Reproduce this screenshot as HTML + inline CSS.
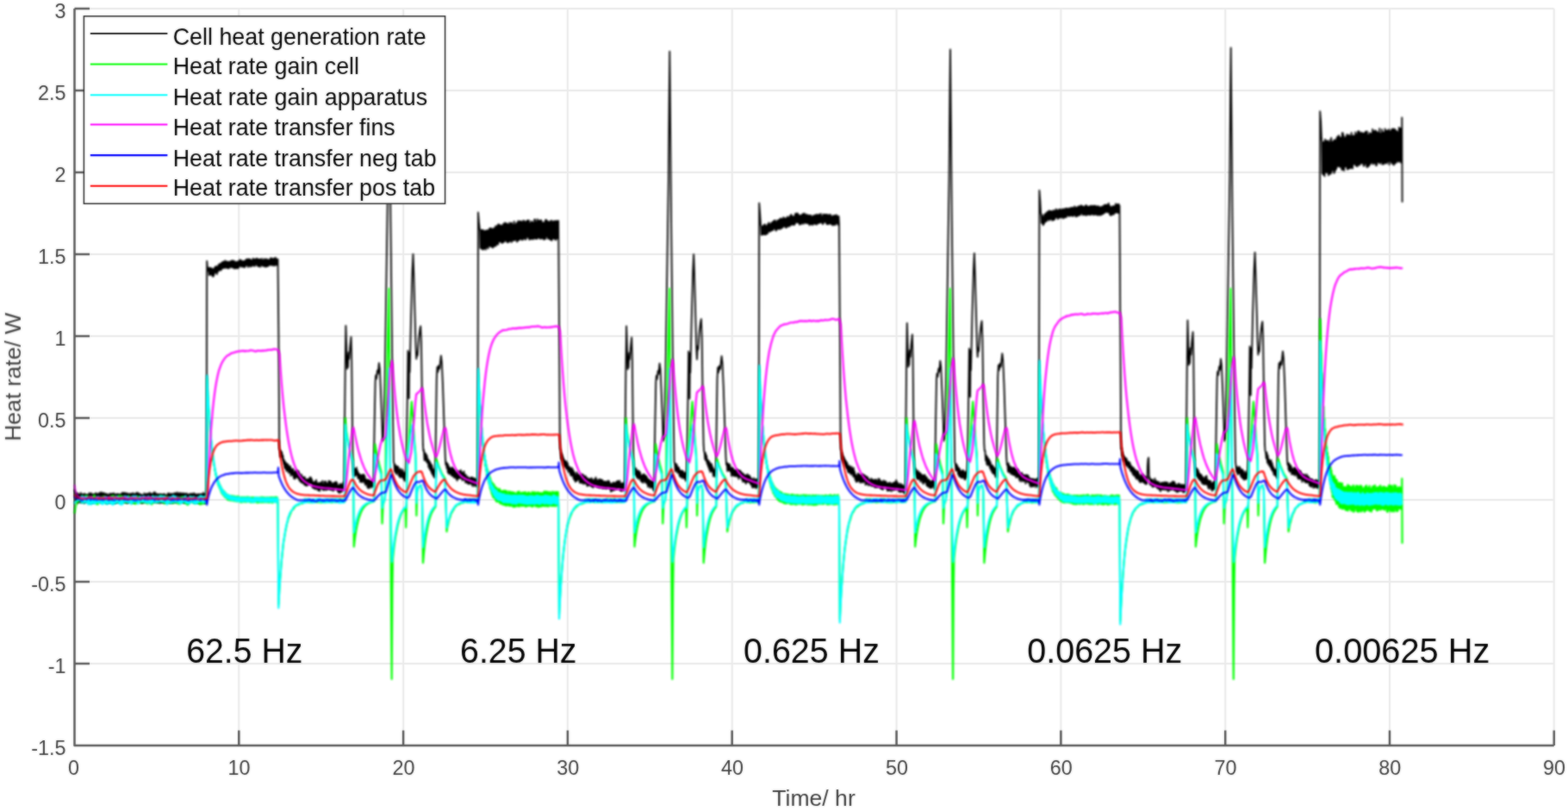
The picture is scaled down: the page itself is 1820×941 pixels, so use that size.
<!DOCTYPE html>
<html lang="en"><head><meta charset="utf-8"><title>Heat rate vs time</title>
<style>
html,body{margin:0;padding:0;background:#fff;}
body{width:1820px;height:941px;overflow:hidden;}
svg{display:block;font-family:"Liberation Sans",Arial,Helvetica,sans-serif;}
</style></head><body>
<svg width="1820" height="941" viewBox="0 0 1820 941">
<defs><filter id="soft" x="-2%" y="-2%" width="104%" height="104%" color-interpolation-filters="sRGB"><feGaussianBlur stdDeviation="0.8"/></filter><filter id="softt" x="-2%" y="-2%" width="104%" height="104%" color-interpolation-filters="sRGB"><feGaussianBlur stdDeviation="0.8" result="b"/><feComposite in="SourceGraphic" in2="b" operator="arithmetic" k1="0" k2="0.5" k3="0.5" k4="0"/></filter></defs>
<rect width="1820" height="941" fill="#fff"/>
<g filter="url(#softt)">
<path d="M277.3 9.9V865.0M468.1 9.9V865.0M658.9 9.9V865.0M849.7 9.9V865.0M1040.6 9.9V865.0M1231.4 9.9V865.0M1422.2 9.9V865.0M1613.0 9.9V865.0M1803.8 9.9V865.0M86.5 770.0H1803.8M86.5 675.0H1803.8M86.5 580.0H1803.8M86.5 485.0H1803.8M86.5 389.9H1803.8M86.5 294.9H1803.8M86.5 199.9H1803.8M86.5 104.9H1803.8M86.5 9.9H1803.8" stroke="#262626" stroke-opacity="0.10" stroke-width="2" fill="none"/>
<path d="M86.5 9.9V865.0H1803.8M277.3 865.0v-17.5M468.1 865.0v-17.5M658.9 865.0v-17.5M849.7 865.0v-17.5M1040.6 865.0v-17.5M1231.4 865.0v-17.5M1422.2 865.0v-17.5M1613.0 865.0v-17.5M1803.8 865.0v-17.5M86.5 770.0h17.5M86.5 675.0h17.5M86.5 580.0h17.5M86.5 485.0h17.5M86.5 389.9h17.5M86.5 294.9h17.5M86.5 199.9h17.5M86.5 104.9h17.5M86.5 9.9h17.5" stroke="#585858" stroke-width="2.5" fill="none" stroke-linejoin="round" stroke-linecap="butt"/>
</g>
<g fill="none" stroke-linejoin="round" stroke-linecap="round" filter="url(#soft)">
<path d="M86.5 568.6L87.3 571.6L88.1 581.9L88.9 571.8L89.7 584.1L90.5 572.6L91.3 582.7L92.1 573.2L92.9 583.3L93.7 571.6L94.5 583.3L95.3 573.2L96.1 581.9L96.9 573.1L97.7 584.1L98.5 572.6L99.3 582.5L100.1 573.8L100.9 582.6L101.7 573.8L102.5 582L103.3 572L104.1 583.6L104.9 572L105.7 583.4L106.5 572.2L107.3 583.5L108.1 573.6L108.9 583.1L109.7 572.9L110.5 582.5L111.3 571.7L112.1 581.6L112.9 572.7L113.7 582L114.5 572.3L115.3 581.8L116.1 571.2L116.9 583.3L117.7 571L118.5 581.6L119.3 571.7L120.1 582.2L120.9 571.7L121.7 582.1L122.5 572.8L123.3 584L124.1 572.8L124.9 583.8L125.7 573.8L126.5 583.5L127.3 572.5L128.1 583.2L128.9 572.5L129.7 582.9L130.5 572.5L131.3 583.2L132.1 571.9L132.9 584.1L133.7 573.3L134.5 583.6L135.3 573.1L136.1 583L136.9 572.8L137.7 582.9L138.5 573.4L139.3 582.8L140.1 573L140.9 582.2L141.7 571.4L142.5 582.8L143.3 571.5L144.1 583L144.9 571.5L145.7 583.2L146.5 572L147.3 583.9L148.1 572.3L148.9 583.6L149.7 572.9L150.5 582.6L151.3 572.5L152.1 582.2L152.9 572.5L153.7 582.9L154.5 571.8L155.3 583.2L156.1 573L156.9 583.2L157.7 572L158.5 581.8L159.3 571.2L160.1 581.8L160.9 572L161.7 581.7L162.5 573.1L163.3 583.5L164.1 573.4L164.9 584.3L165.7 574.3L166.5 583.4L167.3 572.1L168.1 582.1L168.9 573.1L169.7 583.1L170.5 572.4L171.3 582.1L172.1 572.5L172.9 582.3L173.7 571.3L174.5 583.4L175.3 572.6L176.1 582.7L176.9 572.8L177.7 582.6L178.5 571.1L179.3 582.9L180.1 571.1L180.9 581.9L181.7 572.8L182.5 583.4L183.3 573L184.1 583.2L184.9 573.3L185.7 584.1L186.5 572.9L187.3 583.2L188.1 573.6L188.9 583.4L189.7 573.1L190.5 583.1L191.3 573L192.1 583.4L192.9 574.6L193.7 582.8L194.5 572.4L195.3 582.5L196.1 572.1L196.9 583.6L197.7 572.9L198.5 583.6L199.3 572.6L200.1 583.4L200.9 573.1L201.7 583.2L202.5 571.7L203.3 582.7L204.1 572.1L204.9 583.4L205.7 571L206.5 581.7L207.3 572.2L208.1 582.4L208.9 571.6L209.7 582.2L210.5 572.2L211.3 582.8L212.1 572.1L212.9 583.6L213.7 572.3L214.5 583.5L215.3 572.6L216.1 582.8L216.9 572.2L217.7 583.6L218.5 573.5L219.3 582.9L220.1 572.9L220.9 581.6L221.7 572.4L222.5 581.4L223.3 572.7L224.1 582.4L224.9 571.9L225.7 583.3L226.5 572.8L227.3 582.6L228.1 573.5L228.9 583.5L229.7 572.9L230.5 583.8L231.3 573.3L232.1 583.7L232.9 572.9L233.7 583.8L234.5 572.9L235.3 582.5L236.1 571.3L236.9 583.8L237.7 573L238.5 583.9" stroke="#000000" stroke-width="1.5"/>
<path d="M237.7 573L238.5 583.9L239.3 573.7L239.6 564.8L240.2 302.9L241.1 314.3L241.9 310.7L242.4 311.9L242.8 319.3L243.3 311.1L243.7 318.5L244.2 310.7L244.6 318.7L245.1 312.8L245.5 318.8L246 311.5L246.4 319.8L246.9 312.8L247.3 321L247.8 312.1L248.2 320L248.7 311.3L249.1 317.1L249.6 310L250 316.1L250.5 309.2L250.9 316.2L251.4 309.4L251.8 318.1L252.3 309.8L252.7 315.7L253.2 308.2L253.6 314.5L254.1 306.7L254.5 313.6L255 306.6L255.4 312.5L255.9 305.9L256.3 313.7L256.8 305.3L257.2 312.6L257.7 304.7L258.1 311.3L258.6 303.9L259 310.8L259.5 303.6L259.9 311.2L260.4 304.2L260.8 310.3L261.3 302.4L261.7 310.7L262.2 304.8L262.6 310.8L263.1 303.4L263.5 310.5L264 304.1L264.4 311.1L264.9 303.6L265.3 311.5L265.8 304.4L266.2 310.9L266.7 303.9L267.1 309.9L267.6 303.1L268 308.9L268.5 302.8L268.9 310.4L269.4 302.3L269.8 309.1L270.3 302.6L270.7 310.4L271.2 302.6L271.6 311.4L272.1 303.1L272.5 311.3L273 304.1L273.4 311.4L273.9 304.4L274.3 311.1L274.8 303.6L275.2 311.1L275.7 304.9L276.1 311.4L276.6 303.5L277 310.6L277.5 302.8L277.9 309L278.4 301.3L278.8 308.2L279.3 302.2L279.7 308.9L280.2 302.2L280.6 309.8L281.1 303.8L281.5 308.6L282 303.2L282.4 309.1L282.9 302.9L283.3 310.3L283.8 303.1L284.2 310L284.7 302.3L285.1 308.5L285.6 301.3L286 307.9L286.5 300.7L286.9 307.3L287.4 301.4L287.8 309.9L288.3 300.6L288.7 308.4L289.2 300.7L289.6 307.2L290.1 300.8L290.5 309.5L291 301.6L291.4 308.1L291.9 301.8L292.3 308.9L292.8 302.4L293.2 307.9L293.7 300L294.1 306.8L294.6 301L295 308.6L295.5 300.8L295.9 308.6L296.4 300.9L296.8 306.9L297.3 300.3L297.7 306.7L298.2 299.9L298.6 308.3L299.1 300.6L299.5 308.6L300 300.9L300.4 309.1L300.9 300.9L301.3 308.8L301.8 300.9L302.2 309.6L302.7 301.5L303.1 307.3L303.6 300.2L304 307.7L304.5 301.8L304.9 308.6L305.4 302.8L305.8 308.6L306.3 300.4L306.7 308.6L307.2 301.7L307.6 309.4L308.1 301.2L308.5 309.5L309 300.5L309.4 309.1L309.9 301.5L310.3 309.2L310.8 301.1L311.2 308.7L311.7 301.8L312.1 307.9L312.6 301.9L313 307.6L313.5 300.3L313.9 307.4L314.4 299.5L314.8 306.6L315.3 299.8L315.7 308L316.2 300.3L316.6 307.2L317.1 300.4L317.5 307.6L318 299.8L318.4 308.4L318.9 300.2L319.3 307.1L319.8 298.9L320.2 307.6L320.7 301.2L321.1 306.4L321.6 300.6L322 307.8L322.5 300.8L323.4 389.9L324.2 521.1L324.8 521.8L325.4 530.2L326 523.3L326.6 531.1L327.2 524.7L327.8 534.6L328.4 528.5L329 538.4L329.6 533.4L330.2 542.8L330.8 535.4L331.4 544L332 537.1L332.6 546.6L333.2 538.2L333.9 546.1L334.5 539L335.1 548.6L335.7 541.5L336.3 548.2L336.9 540.9L337.5 552L338.1 543.7L338.7 550.2L339.3 545.5L339.9 551.8L340.5 543.9L341.1 555.2L341.7 547.8L342.3 555.8L342.9 546.7L343.5 554.1L344.1 545.7L344.7 553.5L345.3 546.6L345.9 554.6L346.5 546.6L347.1 556.8L347.7 549.4L348.3 558.5L348.9 552.8L349.5 559.5L350.1 550.7L350.7 560.3L351.3 553.8L351.9 560.5L352.6 553.4L353.2 562.3L353.8 553.6L354.4 563.1L355 556.6L355.6 563.6L356.2 556.1L356.8 563.4L357.4 555.8L358 561.5L358.6 555.8L359.2 561.7L359.8 553.6L360.4 560.8L361 554.1L361.6 562.1L362.2 556.3L362.8 565.7L363.4 559.3L364 566.4L364.6 559.4L365.2 567.1L365.8 558.8L366.4 567.6L367 556.9L367.6 566.6L368.2 560.5L368.8 568.7L369.4 560.4L370 569.2L370.6 560.7L371.3 569.8L371.9 559.8L372.5 566.7L373.1 559.8L373.7 566.6L374.3 557.9L374.9 568.6L375.5 561.8L376.1 568.6L376.7 559L377.3 567.7L377.9 558.3L378.5 568.8L379.1 560.7L379.7 567.8L380.3 560.9L380.9 567.7L381.5 558L382.1 567.5L382.7 558.4L383.3 567.8L383.9 558.6L384.5 568.8L385.1 560.7L385.7 567.8L386.3 561.3L386.9 569.6L387.5 560.2L388.1 567.9L388.7 560L389.3 566.7L390 559L390.6 567.4L391.2 560.2L391.8 569.8L392.4 563.4L393 571.2L393.6 563L394.2 572.3L394.8 561.4L395.4 570L396 561.7L396.6 571L397.2 562.6L397.8 568.3L398.4 559.9L399 568.7L399.4 562.9L400.6 437.4L401.4 377.8L402.2 403.2L402.9 427.9L403.3 412.7L403.9 426L404.6 408.9L405.2 416.5L406.2 403.2L407.5 390.9L408.2 418.4L409 494.5L409.6 536.3L410.2 545.8L410.8 552.5L411.4 544L412 552.1L412.6 543.8L413.2 550.4L413.8 542.3L414.4 552L415 546.1L415.6 555.1L416.2 548.8L416.8 555.4L417.4 550.5L418 559.1L418.6 551.1L419.2 559L419.8 551.2L420.4 559.7L421 550.9L421.6 558.4L422.2 550.3L422.8 559.9L423.4 552.2L424 562.7L424.6 556.2L425.2 561.7L425.8 556.3L426.4 565.4L427 557.1L427.6 566.6L428.2 556.7L428.8 566.3L429.4 557.7L430 564.4L430.6 557.6L431.2 565.8L431.8 557.4L432.4 564.4L433 557.5L433.6 564.8L434.6 494.5L435.6 443.2L436.2 435.5L437 439.4L438 429.8L438.8 433.6L439.9 421.1L440.8 427.9L442 454.6L443.4 490.7L444 511.6L444.6 496.4L445 509.7L446.6 447L448.6 313.9L450.2 209.4L451 114.4L451.6 59.3L452.2 123.9L453.4 256.9L455 399.4L456.2 494.5L456.9 536.3L457.5 537.6L458.1 547.1L458.7 539.2L459.4 549L460 541L460.6 550.4L461.2 541L461.8 547.6L462.4 542L463 552.2L463.6 545.4L464.3 554L464.9 543.9L465.5 553.7L466.1 547.7L466.7 553.3L467.3 544.8L467.9 555L468.5 547.3L469.2 557.2L469.8 548.8L470.4 558.4L471 551L471.8 523L472.8 462.2L473.5 407L473.9 437.4L474.3 408.9L474.7 462.2L475.1 418.4L475.6 431.7L477 370.9L478.6 313.9L479.5 294.9L480.3 317.7L481.6 367.1L482.6 403.2L483.3 416.5L484 408.9L484.6 412.7L486 393.7L487.4 382.3L488.2 378.5L489 399.4L490 466L490.9 515.4L491.4 523L492 522L492.6 534L493.2 525.4L493.8 533.8L494.4 526.6L495 535.8L495.6 528.7L496.2 537.1L496.8 532.6L497.4 541.9L498 534.4L498.6 544.2L499.2 536.2L499.8 546L500.4 538.5L501 548.9L501.6 540.2L502.2 551L502.8 543.9L503.4 553L504 545.7L504.6 554.4L505.2 545.9L506 494.5L506.8 439.4L507.5 426L508.3 431.7L509.2 424.1L510.2 427.9L511.9 412.7L512.8 420.3L514 447L515.6 494.5L516.8 530.6L517.4 539.1L518 536.4L518.6 543.4L519.2 537.7L519.8 548.1L520.4 539.5L521 549.9L521.6 542.4L522.2 549.3L522.8 542.7L523.4 550.9L524 543.9L524.6 552.2L525.2 542.1L525.8 552.3L526.4 543.7L527 554.1L527.6 544.6L528.2 553.8L528.8 545.8L529.4 555.5L530 548.6L530.6 557.7L531.2 546.6L531.8 555.5L532.4 547.9L533 555L533.6 546.6L534.2 554.5L534.8 545.4L535.4 555L536.1 548L536.7 557.5L537.3 549L537.9 555.9L538.5 546.8L539.1 556.9L539.7 550.6L540.3 560L540.9 551.1L541.5 559.6L542.1 553.9L542.7 560.9L543.3 553.2L543.9 561.5L544.5 555.5L545.1 561.3L545.7 554.6L546.3 560.4L546.9 553.8L547.5 562.4L548.1 553.8L548.7 564.1L549.3 555L549.9 561.7L550.5 555L551.1 564.1L551.7 555.4L552.3 563.2L552.9 556.4L553.5 564.4L554.1 558.4L554.4 564.8L555 246.5L555.9 257.9L556.7 265.1L557.2 267.9L557.6 287.9L558.1 267L558.5 286.3L559 267.3L559.4 288.9L559.9 266.9L560.3 289.4L560.8 267L561.2 289.4L561.7 269L562.1 287.2L562.6 268.1L563 288.6L563.5 267.6L563.9 289.5L564.4 267.8L564.8 287L565.3 267.2L565.7 285.9L566.2 267.2L566.6 288.3L567.1 267.3L567.5 284.4L568 265.4L568.4 285.6L568.9 264.8L569.3 285.8L569.8 264.8L570.2 286.1L570.7 265.3L571.1 286.4L571.6 266.9L572 287.4L572.5 265.7L572.9 286.2L573.4 264.7L573.8 285.8L574.3 266.8L574.7 284.5L575.2 262.5L575.6 285.3L576.1 264.4L576.5 283.6L577 262.2L577.4 283L577.9 260.9L578.3 283.6L578.8 260.2L579.2 280L579.7 261.1L580.1 280L580.6 262.9L581 280.7L581.5 261.4L581.9 281L582.4 261.9L582.8 282L583.3 263.3L583.7 280.8L584.2 259.7L584.6 281.1L585.1 261L585.5 280.2L586 258.5L586.4 278.2L586.9 258.9L587.4 279.2L587.8 260.8L588.3 280.7L588.7 259.3L589.2 281.3L589.6 260.3L590.1 280.8L590.5 261.2L591 280.5L591.4 258.3L591.9 279L592.3 260.6L592.8 279.3L593.2 259.2L593.7 281L594.1 258.5L594.6 279.6L595 260.3L595.5 278.6L595.9 260.3L596.4 278.8L596.8 256.8L597.3 278.9L597.7 261L598.2 277.5L598.6 260.3L599.1 278.2L599.5 258.6L600 280.6L600.4 259L600.9 279.5L601.3 256.4L601.8 278.5L602.2 260.2L602.7 278.3L603.1 256.7L603.6 277.5L604 257.7L604.5 276.7L604.9 256.6L605.4 277.7L605.8 257.5L606.3 278.4L606.7 259.5L607.2 277.7L607.6 255.8L608.1 275.4L608.5 256.5L609 276.8L609.4 257.5L609.9 278.1L610.3 258.3L610.8 277.1L611.2 256.7L611.7 274.6L612.1 255.6L612.6 274.9L613 256.4L613.5 276.3L613.9 255.7L614.4 278.1L614.8 258.7L615.3 276.2L615.7 259.3L616.2 277.4L616.6 256.9L617.1 277.4L617.5 257.4L618 276.7L618.5 258.2L618.9 277.5L619.4 258.6L619.8 275.3L620.3 254.6L620.7 276.8L621.2 254.7L621.6 275.5L622.1 257.1L622.5 277.2L623 258.2L623.4 277.1L623.9 254.5L624.3 276L624.8 256.1L625.2 274.2L625.7 256.2L626.1 276.1L626.6 256.4L627 277.2L627.5 255.5L627.9 276.7L628.4 255.8L628.8 276.4L629.3 258.2L629.7 276.7L630.2 258.4L630.6 277L631.1 258.2L631.5 278L632 258.3L632.4 276.4L632.9 255.7L633.3 277.2L633.8 254.8L634.2 274L634.7 256L635.1 274.7L635.6 258.1L636 276.9L636.5 256.8L636.9 276.7L637.4 257.9L637.8 277.1L638.3 257.5L638.7 278.2L639.2 256.5L639.6 278.2L640.1 255.8L640.5 279.1L641 257.7L641.4 276.9L641.9 257.5L642.3 276.6L642.8 256.4L643.2 277.1L643.7 259.3L644.1 275.4L644.6 256.5L645 278.5L645.5 256.9L645.9 275.6L646.4 256.2L646.8 276.9L647.3 257.3L647.7 276.4L648.2 256.2L649.1 389.9L649.9 521.1L650.5 521.7L651.1 532.7L651.7 525.7L652.3 535.4L652.9 528.5L653.5 539.1L654.1 531.7L654.7 541.9L655.3 534.1L655.9 541L656.5 535.2L657.1 543.8L657.7 535.4L658.3 544.4L658.9 537.6L659.6 547.3L660.2 541.3L660.8 547.9L661.4 542L662 550.7L662.6 543.7L663.2 552.1L663.8 542.8L664.4 551.8L665 545L665.6 555.3L666.2 547.1L666.8 557.2L667.4 548.9L668 559.1L668.6 551.6L669.2 558.2L669.8 547.8L670.4 557.1L671 550.7L671.6 556L672.2 550.3L672.8 560L673.4 552.7L674 560.1L674.6 550.5L675.2 560.5L675.8 550.5L676.4 560.5L677 551L677.6 561.6L678.3 553L678.9 560.7L679.5 552.1L680.1 561.2L680.7 553.9L681.3 563.8L681.9 554.8L682.5 563.8L683.1 556.3L683.7 563.1L684.3 555.3L684.9 562.7L685.5 556.1L686.1 564.3L686.7 554.7L687.3 564.5L687.9 556.7L688.5 565.8L689.1 557.4L689.7 563.7L690.3 555.8L690.9 563.6L691.5 554L692.1 563.6L692.7 556.4L693.3 565.3L693.9 557.8L694.5 564.5L695.1 556.3L695.7 565.9L696.3 556L697 565.6L697.6 557L698.2 564.8L698.8 556.6L699.4 566.6L700 558.2L700.6 566.5L701.2 559L701.8 565.8L702.4 558.8L703 567L703.6 558.6L704.2 566.7L704.8 559.3L705.4 566.4L706 557.6L706.6 565.7L707.2 558.7L707.8 567L708.4 561L709 570.4L709.6 561.6L710.2 569.9L710.8 560.8L711.4 568.3L712 559.6L712.6 569.2L713.2 560.9L713.8 566.9L714.4 559.9L715 567.6L715.7 558.9L716.3 567.4L716.9 557.9L717.5 566.6L718.1 559L718.7 566.8L719.3 557.7L719.9 569.1L720.5 560.6L721.1 569.7L721.7 561.1L722.3 569.5L722.9 560.5L723.5 567.1L724.1 560.6L724.7 569L725.1 562.9L726.3 437.9L727.1 378.4L727.9 403.8L728.6 428.4L729 413.2L729.6 426.5L730.3 409.5L730.9 417L731.9 403.8L733.2 391.5L733.9 418.9L734.7 494.5L735.3 536.3L735.9 543.1L736.5 550.9L737.1 543.6L737.7 551.3L738.3 543.3L738.9 553.6L739.5 546.3L740.1 554.4L740.7 546L741.3 555.9L741.9 546.8L742.5 554.8L743.1 548.2L743.7 558L744.3 551.6L744.9 559L745.5 551.5L746.1 560.1L746.7 550.2L747.3 557.9L747.9 550.3L748.5 559.9L749.1 551.8L749.7 559.6L750.3 552.4L750.9 561.4L751.5 554.6L752.1 564.9L752.7 556.4L753.3 563.7L753.9 556.6L754.5 566L755.1 559.2L755.7 565.7L756.3 557.4L756.9 565.4L757.5 558.8L758.1 568.1L758.7 558.7L759.3 569.6L760.3 494.5L761.3 443.6L761.9 436L762.7 439.8L763.7 430.3L764.5 434.1L765.6 421.6L766.5 428.4L767.7 454.9L769.1 490.7L769.7 511.6L770.3 496.4L770.7 509.7L772.3 447.4L774.3 314.1L775.9 209.7L776.7 114.8L777.3 59.7L777.9 124.3L779.1 257.2L780.7 400L781.9 494.5L782.6 536.3L783.2 538.2L783.8 546.9L784.4 538L785.1 546L785.7 539.1L786.3 548.7L786.9 541.9L787.5 548.5L788.1 542.6L788.7 552.2L789.3 545.6L790 553.9L790.6 546.5L791.2 553.1L791.8 546.2L792.4 555.1L793 546.8L793.6 554L794.2 548.8L794.9 555.9L795.5 548.3L796.1 558.1L796.7 551.4L797.5 523L798.5 462.5L799.2 407.6L799.6 437.9L800 409.5L800.4 462.5L800.8 418.9L801.3 432.2L802.7 371.6L804.3 314.1L805.2 295.1L806 317.9L807.3 367.8L808.3 403.8L809 417L809.7 401.8L810.3 405.7L811.7 385.9L813.1 374.1L813.9 370.1L814.7 391.9L815.7 466.3L816.6 515.4L817.1 523L817.7 525.2L818.3 533L818.9 525.5L819.5 534.8L820.1 528.6L820.7 538.3L821.3 533.3L821.9 541.4L822.5 534.6L823.1 544.5L823.7 536.2L824.3 547.7L824.9 537.8L825.5 546.3L826.1 538.7L826.7 547.8L827.3 541.8L827.9 552.7L828.5 544.1L829.1 551.7L829.7 545.6L830.3 553.4L830.9 545.8L831.7 494.5L832.5 439.8L833.2 426.5L834 432.2L834.9 424.6L835.9 428.4L837.6 413.2L838.5 420.8L839.7 447.4L841.3 494.5L842.5 530.6L843.1 539.1L843.7 537L844.3 546.7L844.9 537.8L845.5 545.8L846.1 538.3L846.7 546.2L847.3 539.5L847.9 547.4L848.5 542.9L849.1 552.3L849.7 542.7L850.3 550.9L850.9 543.2L851.5 552.2L852.1 545.1L852.7 552.4L853.3 545.5L853.9 552.5L854.5 545.2L855.1 552.3L855.7 544.6L856.3 553.4L856.9 545.8L857.5 555.8L858.1 545.8L858.7 553.7L859.3 546.2L859.9 553.5L860.5 547.9L861.1 556.3L861.7 549.1L862.3 559.2L862.9 549.6L863.5 558L864.1 551.9L864.7 559.7L865.3 551.1L865.9 561.3L866.5 551.6L867.1 558.8L867.7 550.1L868.3 559.4L868.9 552L869.5 559.3L870.1 551.9L870.7 561.3L871.3 554.1L871.9 562.6L872.5 555.4L873.1 565.4L873.7 557.2L874.3 565.8L874.9 554.7L875.5 565.2L876.1 557.4L876.7 565.7L877.3 556L877.9 566.5L878.5 556L879.1 565.6L879.7 556.9L880.3 565.4L880.6 564.8L881.2 235.6L882.1 247L882.9 260L883.4 262.3L883.8 272.7L884.3 262.9L884.7 271.9L885.2 262.8L885.6 272.2L886.1 261.8L886.5 271L887 260.6L887.4 272L887.9 260.5L888.3 272.2L888.8 262.3L889.2 272L889.7 262.3L890.1 270.7L890.6 261.1L891 271L891.5 259.7L891.9 267.8L892.4 258.3L892.8 268.5L893.3 260.4L893.7 268.8L894.2 260.3L894.6 268.2L895.1 258.7L895.5 266.8L896 258.6L896.4 267.2L896.9 257.4L897.3 267L897.8 257L898.2 265.3L898.7 256L899.1 264.6L899.6 255.7L900 266.5L900.5 257.5L900.9 267.8L901.4 258.4L901.8 266.1L902.3 255.6L902.7 264.4L903.2 256.3L903.6 265.6L904.1 255.1L904.5 264.5L905 254.6L905.4 265.9L905.9 253.4L906.4 263.2L906.8 253.9L907.3 264.9L907.7 256.5L908.2 264.1L908.6 253.5L909.1 263L909.5 252.1L910 262.1L910.4 253.6L910.9 262.7L911.3 253.4L911.8 263.9L912.2 254L912.7 264.2L913.1 252.8L913.6 262.7L914 251.4L914.5 262.9L914.9 252.5L915.4 262L915.8 254L916.3 262.5L916.7 251L917.2 261.5L917.6 249.9L918.1 261.1L918.5 249L919 260.5L919.4 250.8L919.9 260L920.3 251.1L920.8 260.9L921.2 251.6L921.7 260.9L922.1 250.8L922.6 260.3L923 248.1L923.5 258.4L923.9 247.7L924.4 257.1L924.8 248.8L925.3 258L925.7 247.5L926.2 258.2L926.6 249L927.1 258.5L927.5 249.7L928 260.6L928.5 250.9L928.9 259.1L929.4 250L929.8 260.1L930.3 249.7L930.7 258.3L931.2 249L931.6 258.9L932.1 248L932.5 259.8L933 249.3L933.4 258.4L933.9 247.7L934.3 257.7L934.8 249.3L935.2 259L935.7 249.5L936.1 258.6L936.6 249L937 258.9L937.5 249.9L937.9 259.1L938.4 250.2L938.8 259.6L939.3 249.9L939.7 261.3L940.2 249.8L940.6 259.5L941.1 249.9L941.5 260.1L942 251.3L942.4 260L942.9 251.6L943.3 261.1L943.8 250.3L944.2 259.6L944.7 250.2L945.1 258.8L945.6 250.3L946 260L946.5 249.4L946.9 258.1L947.4 249.2L947.8 260.5L948.3 250.6L948.7 259.6L949.2 248.8L949.6 257.7L950.1 249.8L950.5 259L951 249.2L951.5 258.4L951.9 248.5L952.4 257.7L952.8 248.2L953.3 258.1L953.7 250.8L954.2 258.6L954.6 250.9L955.1 260.1L955.5 248.6L956 258.7L956.4 249.5L956.9 257.4L957.3 248.8L957.8 257.4L958.2 249.4L958.7 258.3L959.1 249L959.6 260.1L960 248.9L960.5 258.2L960.9 249.5L961.4 260.1L961.8 250.3L962.3 259.7L962.7 249.4L963.2 259.4L963.6 248.8L964.1 258.8L964.5 250.2L965 260.3L965.4 251.5L965.9 260.7L966.3 251.3L966.8 261.4L967.2 250.1L967.7 260.5L968.1 251.4L968.6 259.7L969 249.8L969.5 261.1L969.9 251L970.4 259.2L970.8 249.4L971.3 259.5L971.7 250.5L972.2 258.7L972.6 251.8L973.1 261.1L973.5 250.8L974 259.6L974.9 389.9L975.7 521.1L976.3 522.2L976.9 533.1L977.5 525.7L978.1 535.6L978.7 529.1L979.3 537.9L979.9 531.2L980.5 540.6L981.1 533.7L981.7 542.6L982.3 535.4L982.9 544.2L983.5 537.3L984.1 547.5L984.7 540.3L985.3 548.2L985.9 540.4L986.5 548.6L987.1 542.3L987.7 550.7L988.4 541.4L989 549.5L989.6 543.8L990.2 552.8L990.8 542.8L991.4 553.3L992 547.2L992.6 556.7L993.2 550.9L993.8 559.2L994.4 552.3L995 558.9L995.6 549.3L996.2 557.3L996.8 549.3L997.4 558.7L998 551.4L998.6 560.2L999.2 550.6L999.8 559.1L1000.4 550.3L1001 559.8L1001.6 550.3L1002.2 559.6L1002.8 551.2L1003.4 558.4L1004 551.7L1004.6 562.5L1005.2 552.8L1005.8 562.2L1006.4 553.1L1007 560.5L1007.6 554.3L1008.2 563.4L1008.8 556.3L1009.4 562.5L1010 557.5L1010.6 562.6L1011.2 555.1L1011.8 564.1L1012.4 556.4L1013 562.9L1013.7 556.7L1014.3 564.2L1014.9 557.1L1015.5 565.7L1016.1 556.5L1016.7 564.8L1017.3 556.6L1017.9 565.5L1018.5 558.6L1019.1 564.9L1019.7 555.4L1020.3 563.9L1020.9 555.8L1021.5 566L1022.1 558.4L1022.7 567.2L1023.3 558.4L1023.9 567.6L1024.5 559.5L1025.1 568L1025.7 557.3L1026.3 564.7L1026.9 559.1L1027.5 565.2L1028.1 558.4L1028.7 566.7L1029.3 560.4L1029.9 569.5L1030.5 560.9L1031.1 569.1L1031.7 560.3L1032.3 569.4L1032.9 559.9L1033.5 568.3L1034.1 561.4L1034.7 570.2L1035.3 560.8L1035.9 567.2L1036.5 560.9L1037.1 568.9L1037.7 559.6L1038.4 568.2L1039 559.6L1039.6 567.3L1040.2 557.1L1040.8 567.9L1041.4 559.5L1042 566.8L1042.6 561L1043.2 570.3L1043.8 562.3L1044.4 570.8L1045 561.2L1045.6 570.5L1046.2 562.3L1046.8 570.8L1047.4 562.5L1048 570L1048.6 563.5L1049.2 571.9L1049.8 564.5L1050.4 572.8L1050.8 562.9L1052 435.3L1052.8 374.8L1053.6 400.6L1054.3 425.7L1054.7 410.2L1055.3 423.7L1056 406.4L1056.6 414.1L1057.6 400.6L1058.9 388.1L1059.6 416L1060.4 494.5L1061 536.3L1061.6 543.6L1062.2 550.8L1062.8 543.8L1063.4 554.1L1064 547.4L1064.6 555.8L1065.2 546L1065.8 556.1L1066.4 547.8L1067 555.8L1067.6 548.3L1068.2 558.8L1068.8 549.7L1069.4 557L1070 551L1070.6 560L1071.2 552L1071.8 561.5L1072.4 551.1L1073 559L1073.6 551.1L1074.2 559.8L1074.8 553.4L1075.4 563L1076 554.2L1076.6 564.4L1077.2 556.8L1077.8 564.7L1078.4 556.3L1079 565.9L1079.6 558.3L1080.2 566.3L1080.8 558.9L1081.4 566L1082 557.6L1082.6 565.7L1083.2 556.7L1083.8 563.4L1084.4 557.9L1085 567.5L1086 494.5L1087 441.1L1087.6 433.4L1088.4 437.2L1089.4 427.6L1090.2 431.5L1091.3 418.7L1092.2 425.7L1093.4 452.7L1094.8 490.7L1095.4 511.6L1096 496.4L1096.4 509.7L1098 445L1100 312.9L1101.6 208L1102.4 112.7L1103 57.4L1103.6 122.2L1104.8 255.7L1106.4 396.7L1107.6 494.5L1108.3 536.3L1108.9 538.9L1109.5 546.1L1110.1 538.3L1110.8 546L1111.4 540.3L1112 550.1L1112.6 542.9L1113.2 552.6L1113.8 543.7L1114.4 553.2L1115 546.4L1115.7 554.5L1116.3 547L1116.9 554.4L1117.5 545.5L1118.1 553.9L1118.7 546.5L1119.3 556L1119.9 548.2L1120.6 556.6L1121.2 547.4L1121.8 554.4L1122.4 546.4L1123.2 523L1124.2 460.4L1124.9 404.5L1125.3 435.3L1125.7 406.4L1126.1 460.4L1126.5 416L1127 429.5L1128.4 367.8L1130 312.9L1130.9 293.9L1131.7 316.8L1133 363.9L1134 400.6L1134.7 414.1L1135.4 403.8L1136 407.7L1137.4 388.1L1138.8 376.4L1139.6 372.5L1140.4 394L1141.4 464.2L1142.3 515.4L1142.8 523L1143.4 522.9L1144.1 534.4L1144.7 528.5L1145.3 538.6L1145.9 529.8L1146.6 540L1147.2 532.2L1147.8 539.3L1148.4 533.4L1149.1 543.1L1149.7 536.2L1150.3 545.7L1151 539.6L1151.6 548L1152.2 540.2L1152.8 549.5L1153.5 542L1154.1 549.9L1154.7 543.5L1155.3 553L1156 543.6L1156.6 553.7L1157.4 494.5L1158.2 437.2L1158.9 423.7L1159.7 429.5L1160.6 421.8L1161.6 425.7L1163.3 410.2L1164.2 418L1165.4 445L1167 494.5L1168.2 530.6L1168.8 539.1L1169.4 538.4L1170 547.2L1170.6 537.5L1171.2 548L1171.8 540.4L1172.4 548.1L1173 541.7L1173.6 550.2L1174.2 542.5L1174.8 549.9L1175.4 542.6L1176 551.2L1176.6 543.1L1177.2 551.2L1177.8 542.2L1178.4 552.2L1179 544.2L1179.6 554.2L1180.2 544.5L1180.8 553.2L1181.4 544.8L1182 553.9L1182.6 547.2L1183.2 556.9L1183.8 549.9L1184.4 558.6L1185 549.1L1185.6 556.3L1186.2 548.7L1186.8 558.7L1187.5 551.5L1188.1 557.5L1188.7 551.1L1189.3 558.5L1189.9 551.5L1190.5 561.1L1191.1 551.2L1191.7 557.5L1192.3 551.2L1192.9 559.7L1193.5 551.9L1194.1 559.7L1194.7 554.5L1195.3 563.4L1195.9 555.1L1196.5 565L1197.1 555.9L1197.7 563.9L1198.3 555.6L1198.9 564.4L1199.5 555.6L1200.1 564.3L1200.7 556.8L1201.3 562.9L1201.9 556L1202.5 565.4L1203.1 556.4L1203.7 563.4L1204.3 554.8L1204.9 564.8L1205.5 556.1L1205.8 564.8L1206.4 220.8L1207.3 232.2L1208.1 247L1208.6 249.2L1209 258.6L1209.5 249.3L1209.9 259.1L1210.4 251.5L1210.8 261.3L1211.3 251.9L1211.7 260L1212.2 248.9L1212.6 258.1L1213.1 248.9L1213.5 257.4L1214 247.2L1214.4 255.8L1214.9 248.4L1215.3 256.4L1215.8 245.6L1216.2 254.7L1216.7 246.1L1217.1 253.9L1217.6 244.3L1218 255.6L1218.5 246.2L1218.9 254.4L1219.4 244.8L1219.8 253.6L1220.3 245L1220.7 254.8L1221.2 246.9L1221.6 255.9L1222.1 245.1L1222.5 254.1L1223 244L1223.4 255.1L1223.9 246.4L1224.3 254.5L1224.8 244.7L1225.2 252.4L1225.7 242.6L1226.1 252L1226.6 243.5L1227 252.4L1227.5 244.4L1227.9 254.3L1228.4 244.3L1228.8 252.6L1229.3 242.8L1229.7 252.7L1230.2 242.9L1230.6 250L1231.1 243.3L1231.5 252.6L1232 243.5L1232.4 252.1L1232.9 243.2L1233.3 251.1L1233.8 242.5L1234.2 253.4L1234.7 243.2L1235.1 252.6L1235.6 243.1L1236 251.8L1236.5 242L1236.9 252L1237.4 242.1L1237.8 252L1238.3 241.8L1238.7 249.5L1239.2 242.1L1239.6 250L1240.1 242.5L1240.5 250.4L1241 241.6L1241.4 250.9L1241.9 243L1242.3 249.9L1242.8 241.2L1243.2 250.1L1243.7 241.3L1244.1 249.8L1244.6 240.8L1245 250.9L1245.5 241.2L1245.9 250.5L1246.4 241.5L1246.8 249.7L1247.3 239.3L1247.7 249.1L1248.2 240.8L1248.6 251.1L1249.1 241.6L1249.5 251.3L1250 240.5L1250.4 249.1L1250.9 240.4L1251.3 250.4L1251.8 239.5L1252.2 249.3L1252.7 239.5L1253.1 249.7L1253.6 239.8L1254 249.2L1254.5 238.3L1254.9 247.3L1255.4 238.7L1255.8 247.5L1256.3 240.6L1256.7 249.5L1257.2 239.3L1257.6 248.4L1258.1 241.2L1258.5 249.3L1259 239.8L1259.4 247.3L1259.9 238.6L1260.3 249.8L1260.8 238.1L1261.2 249.6L1261.7 239.1L1262.1 248.9L1262.6 239.9L1263 249L1263.5 239.9L1263.9 248.9L1264.4 239.9L1264.8 249.1L1265.3 239L1265.7 249.4L1266.2 239.8L1266.6 248.6L1267.1 238.7L1267.5 248.5L1268 239.8L1268.4 248.1L1268.9 238.8L1269.3 249.4L1269.8 239L1270.2 246.8L1270.7 238.7L1271.1 249L1271.6 239.1L1272 247.1L1272.5 239.6L1272.9 249L1273.4 239.5L1273.8 249.7L1274.3 239.4L1274.7 249.4L1275.2 239.3L1275.6 249.4L1276.1 240.9L1276.5 249.3L1277 240.4L1277.4 249.8L1277.9 240.1L1278.3 248.4L1278.8 240.1L1279.2 248.9L1279.7 239.4L1280.1 248.4L1280.6 240.1L1281 247L1281.5 238.1L1281.9 247.4L1282.4 237.9L1282.8 246.2L1283.3 237.6L1283.7 245.8L1284.2 238.9L1284.6 245.9L1285.1 237.4L1285.5 246.4L1286 237.6L1286.4 245.4L1286.9 235.8L1287.3 246.6L1287.8 238.8L1288.2 249L1288.7 239.5L1289.1 249.8L1289.6 240.8L1290 249.8L1290.5 240.4L1290.9 248.9L1291.4 239.4L1291.8 248.3L1292.3 239.2L1292.7 248.9L1293.2 240.2L1293.6 247.4L1294.1 238.8L1294.5 246.5L1295 236.5L1295.4 246.6L1295.9 237.8L1296.3 246.7L1296.8 237.4L1297.2 246.4L1297.7 236.9L1298.1 247.2L1298.6 236.9L1299 245.5L1299.5 238.6L1300.4 389.9L1301.2 521.1L1301.8 519.8L1302.4 529.4L1303 524.8L1303.6 533.9L1304.2 528.4L1304.8 535.8L1305.4 530.3L1306 538.9L1306.6 531.3L1307.2 540.8L1307.8 532.4L1308.4 540.3L1309.1 535.3L1309.7 542.9L1310.3 535.9L1310.9 543.1L1311.5 536.9L1312.1 546.1L1312.7 539.8L1313.3 547.1L1313.9 541.7L1314.5 549.7L1315.1 542.3L1315.7 551.5L1316.3 543.3L1316.9 551.9L1317.5 545.4L1318.1 554L1318.7 545.6L1319.3 555.9L1319.9 547.6L1320.5 555.1L1321.1 546.6L1321.7 557.4L1322.3 550.1L1322.9 559.3L1323.5 552.9L1324.2 559.7L1324.8 550.6L1325.4 558.5L1326 550.3L1326.6 559.2L1327.2 551.4L1327.8 560.2L1328.4 552.7L1329 561L1329.6 553.9L1330.2 561.9L1330.8 552.9L1331.4 561.1L1332 540.3L1332.6 532.5L1333.2 531L1333.8 555.4L1334.4 553.6L1335 562.5L1335.6 556L1336.2 562.1L1336.8 556.6L1337.4 564.6L1338 556.5L1338.7 565L1339.3 558.8L1339.9 564.1L1340.5 555.2L1341.1 563.4L1341.7 557.8L1342.3 565L1342.9 558.6L1343.5 566.6L1344.1 559.2L1344.7 567L1345.3 559.3L1345.9 568.4L1346.5 561.6L1347.1 570.2L1347.7 560.4L1348.3 567L1348.9 560L1349.5 568.1L1350.1 560.2L1350.7 568.3L1351.3 559.7L1351.9 566.5L1352.5 559.4L1353.1 568.7L1353.8 559.8L1354.4 567.4L1355 559.6L1355.6 570.1L1356.2 562.5L1356.8 569.8L1357.4 561.1L1358 567.1L1358.6 560.4L1359.2 568.6L1359.8 560.3L1360.4 567.8L1361 558.6L1361.6 566.1L1362.2 559L1362.8 569.1L1363.4 559.5L1364 568.4L1364.6 562.1L1365.2 570.4L1365.8 562.6L1366.4 570.9L1367 562.1L1367.6 570.7L1368.2 560.9L1368.9 569L1369.5 562.2L1370.1 569.8L1370.7 562.5L1371.3 568.6L1371.9 562.3L1372.5 570.2L1373.1 562.7L1373.7 571.5L1374.3 562.6L1374.9 570.6L1375.5 562.9L1376.1 570.3L1376.5 562.9L1377.7 433.2L1378.5 371.7L1379.3 397.9L1380 423.4L1380.4 407.7L1381 421.4L1381.7 403.8L1382.3 411.6L1383.3 397.9L1384.6 385.2L1385.3 413.6L1386.1 494.5L1386.7 536.3L1387.3 543.3L1387.9 552.4L1388.5 543.5L1389.1 552.3L1389.7 544L1390.3 554.4L1390.9 545.9L1391.5 555.8L1392.1 548.9L1392.7 557.2L1393.3 550.4L1393.9 558.3L1394.5 551L1395.1 560.7L1395.7 553.1L1396.3 561.5L1396.9 554.2L1397.5 562L1398.1 555.4L1398.7 562.2L1399.3 552.9L1399.9 561.5L1400.5 552.2L1401.1 562.7L1401.7 556.4L1402.3 565.9L1402.9 557.9L1403.5 567.4L1404.1 557.9L1404.7 564.9L1405.3 558.2L1405.9 567.7L1406.5 560.8L1407.1 569.6L1407.7 560.2L1408.3 567.9L1408.9 558.9L1409.5 567.7L1410.1 557.9L1410.7 567.3L1411.7 494.5L1412.7 439L1413.3 431.2L1414.1 435.1L1415.1 425.3L1415.9 429.3L1417 416.3L1417.9 423.4L1419.1 450.8L1420.5 490.7L1421.1 511.6L1421.7 496.4L1422.1 509.7L1423.7 443L1425.7 311.9L1427.3 206.6L1428.1 110.9L1428.7 55.4L1429.3 120.5L1430.5 254.5L1432.1 394L1433.3 494.5L1434 536.3L1434.6 540.5L1435.2 547.6L1435.8 541.6L1436.5 550.7L1437.1 543.3L1437.7 549.7L1438.3 541.4L1438.9 549.2L1439.5 542.6L1440.1 552.5L1440.7 545.5L1441.4 554.1L1442 544.6L1442.6 555.1L1443.2 546.7L1443.8 556.6L1444.4 549.3L1445 556.3L1445.6 546.8L1446.3 555.9L1446.9 549.3L1447.5 555.6L1448.1 549.5L1448.9 523L1449.9 458.6L1450.6 401.9L1451 433.2L1451.4 403.8L1451.8 458.6L1452.2 413.6L1452.7 427.3L1454.1 364.7L1455.7 311.9L1456.6 292.8L1457.4 315.8L1458.7 360.8L1459.7 397.9L1460.4 411.6L1461.1 404.3L1461.7 408.2L1463.1 388.7L1464.5 377L1465.3 373.1L1466.1 394.6L1467.1 462.5L1468 515.4L1468.5 523L1469.1 524.7L1469.8 532.1L1470.4 524.8L1471 536.8L1471.6 528.3L1472.3 538.8L1472.9 532.9L1473.5 540.6L1474.1 534.6L1474.8 542.6L1475.4 534L1476 545.1L1476.7 537.3L1477.3 547L1477.9 541.3L1478.5 550.7L1479.2 544L1479.8 551.7L1480.4 544.9L1481 552.5L1481.7 546.1L1482.3 554.8L1483.1 494.5L1483.9 435.1L1484.6 421.4L1485.4 427.3L1486.3 419.5L1487.3 423.4L1489 407.7L1489.9 415.6L1491.1 443L1492.7 494.5L1493.9 530.6L1494.5 539.1L1495.1 536.8L1495.7 545.3L1496.3 537.9L1496.9 547.4L1497.5 539.3L1498.1 546.7L1498.7 540.8L1499.3 550.5L1499.9 543.5L1500.5 549.8L1501.1 544.3L1501.7 550.7L1502.3 542.6L1502.9 551.6L1503.5 542.3L1504.2 549.8L1504.8 544.3L1505.4 552.5L1506 544.3L1506.6 555.2L1507.2 546.4L1507.8 555.8L1508.4 546.1L1509 555L1509.6 546.8L1510.2 556L1510.8 549.7L1511.4 559.3L1512 550.6L1512.6 556.6L1513.2 551.1L1513.8 558.3L1514.4 550.4L1515 559.7L1515.6 553L1516.2 559.9L1516.8 550.5L1517.4 560.2L1518 552.7L1518.6 559.7L1519.2 553.4L1519.8 563.2L1520.4 555.7L1521 564.1L1521.6 555.8L1522.3 565L1522.9 556L1523.5 563.1L1524.1 557.4L1524.7 566.1L1525.3 558.5L1525.9 565.1L1526.5 557.3L1527.1 565.1L1527.7 556.7L1528.3 566L1528.9 557.7L1529.5 565.9L1530.1 557.6L1530.7 566.4L1531.3 557.9L1531.6 564.8L1532.2 129.2L1533.1 140.6L1533.9 160.2L1534.4 164.2L1534.8 201.1L1535.3 166.7L1535.7 202.7L1536.2 165L1536.6 201.6L1537.1 164.5L1537.5 204.4L1538 161.6L1538.4 199.8L1538.9 168.1L1539.3 199.9L1539.8 163.5L1540.2 200.3L1540.7 165.8L1541.1 196.8L1541.6 163.1L1542 203.4L1542.5 164.8L1542.9 200L1543.4 165.3L1543.8 201.8L1544.3 162.1L1544.7 201.5L1545.2 160L1545.7 199.6L1546.1 164.6L1546.6 197.3L1547 164.9L1547.5 197.3L1547.9 163.3L1548.4 200.9L1548.8 162.4L1549.3 199.5L1549.7 162.5L1550.2 197.2L1550.6 164.6L1551.1 195.9L1551.5 160.1L1552 193.5L1552.4 158.5L1552.9 192L1553.3 158.9L1553.8 193L1554.2 157.1L1554.7 192.8L1555.1 159.3L1555.6 194.1L1556 160.2L1556.5 189.9L1556.9 159.4L1557.4 197.1L1557.9 154.2L1558.3 191.1L1558.8 154.5L1559.2 197L1559.7 157.4L1560.1 197.9L1560.6 160.1L1561 192.2L1561.5 160L1561.9 193.6L1562.4 158.5L1562.8 190.9L1563.3 155.9L1563.7 196.6L1564.2 157.1L1564.6 196.2L1565.1 159.5L1565.5 191.7L1566 156.5L1566.4 195.5L1566.9 157.6L1567.3 192.8L1567.8 158.2L1568.2 195L1568.7 153.9L1569.2 192.7L1569.6 158.4L1570.1 195.4L1570.5 157.5L1571 190.6L1571.4 157.8L1571.9 190.5L1572.3 157.3L1572.8 189.1L1573.2 153.4L1573.7 192.4L1574.1 156.7L1574.6 189.5L1575 155.6L1575.5 193.2L1575.9 153L1576.4 191.6L1576.8 152.2L1577.3 190.8L1577.7 152.6L1578.2 191.5L1578.6 156L1579.1 188.3L1579.5 154.3L1580 189.8L1580.5 153.7L1580.9 186.9L1581.4 155.9L1581.8 189.6L1582.3 154.6L1582.7 192.7L1583.2 155.1L1583.6 192.1L1584.1 154.2L1584.5 186.7L1585 152.6L1585.4 190.1L1585.9 156.7L1586.3 193.5L1586.8 152.4L1587.2 194L1587.7 156.4L1588.1 189.7L1588.6 157.4L1589 192.7L1589.5 154.2L1589.9 190.9L1590.4 155.2L1590.8 189.9L1591.3 155.5L1591.7 188.9L1592.2 154.4L1592.7 187.7L1593.1 149.8L1593.6 190.6L1594 153.8L1594.5 188.6L1594.9 152.2L1595.4 189.5L1595.8 151.7L1596.3 188.2L1596.7 151.3L1597.2 192.2L1597.6 157.4L1598.1 191.6L1598.5 152.9L1599 187.1L1599.4 154.6L1599.9 188.3L1600.3 153.9L1600.8 188.7L1601.2 149.2L1601.7 189.8L1602.1 154.5L1602.6 188.2L1603 157L1603.5 187.6L1604 150.2L1604.4 190.7L1604.9 153.9L1605.3 188L1605.8 153.3L1606.2 190.6L1606.7 153.7L1607.1 187.6L1607.6 149.4L1608 189.1L1608.5 151.5L1608.9 189.5L1609.4 155.1L1609.8 189.3L1610.3 151.5L1610.7 185.6L1611.2 152.8L1611.6 187.6L1612.1 150.1L1612.5 191.1L1613 155L1613.4 185.3L1613.9 152.2L1614.3 187.3L1614.8 151.1L1615.2 189.4L1615.7 149.7L1616.2 187.8L1616.6 155L1617.1 190.8L1617.5 149.5L1618 191.4L1618.4 155.3L1618.9 189.2L1619.3 150L1619.8 189.4L1620.2 151.9L1620.7 188.5L1621.1 151.9L1621.6 186.9L1622 154.1L1622.5 185.4L1622.9 152.9L1623.4 187.9L1623.8 148L1624.3 186.9L1624.7 151.7L1625.2 184.8L1625.6 149L1626.1 188.7L1626.5 149.9L1627 188.3L1627.3 136.3L1627.6 234.1" stroke="#000000" stroke-width="1.8"/>
</g>
<g fill="none" stroke-linejoin="round" stroke-linecap="round" filter="url(#soft)">
<path d="M86.5 595.2L87.6 588.8L88.7 585.1L89.8 583L90.8 581.7L91.9 581L93 580.6L93.8 576.7L94.6 583.2L95.4 575.4L96.2 583.3L97 576.1L97.8 582.4L98.6 575.7L99.4 581.9L100.2 575L101 582.7L101.8 575.5L102.6 582.5L103.4 576.7L104.2 583.9L105 576.3L105.8 583.2L106.6 576.6L107.4 583.1L108.2 575.4L109 581.4L109.8 574.4L110.6 583.2L111.4 576.8L112.2 585.1L113 578.7L113.8 585.4L114.6 578.4L115.4 583.1L116.2 577.1L117 583L117.8 576.8L118.6 583.6L119.4 576.4L120.2 583.4L121 575.7L121.8 583L122.6 576.1L123.4 584.6L124.2 576.6L125 583.8L125.8 577.3L126.6 582.7L127.4 576.5L128.2 582.4L129 575.8L129.8 581.7L130.6 575L131.4 581.4L132.2 575.4L133 583.3L133.8 576.2L134.6 583.1L135.4 577.2L136.2 583.2L137 575.7L137.8 581.9L138.6 574.8L139.4 583.3L140.2 575.7L141 581.4L141.8 575.5L142.6 583.3L143.4 576.7L144.2 583L145 577.9L145.8 583.2L146.6 578L147.4 583.5L148.2 576.7L149 582.3L149.8 575.7L150.6 582L151.4 576.7L152.2 584.5L153 576.3L153.8 584.3L154.6 577.1L155.4 584L156.2 578.4L157 585L157.8 578.1L158.6 583.8L159.4 576L160.2 582.8L161 576.5L161.8 582.7L162.6 577.7L163.4 583.7L164.2 577.2L165 583.2L165.8 576.7L166.7 583.3L167.5 576.4L168.3 583.5L169.1 576.9L169.9 583.8L170.7 577.6L171.5 584.8L172.3 576.8L173.1 583L173.9 576.9L174.7 584.4L175.5 578L176.3 585.5L177.1 578.3L177.9 583.7L178.7 576.3L179.5 583.1L180.3 576.5L181.1 583.5L181.9 576.6L182.7 582.7L183.5 576.4L184.3 583.5L185.1 575.8L185.9 581.9L186.7 574.6L187.5 582.7L188.3 575.9L189.1 583.2L189.9 576.7L190.7 584.6L191.5 576L192.3 582.7L193.1 576L193.9 582.2L194.7 576.7L195.5 583.8L196.3 577.2L197.1 583.8L197.9 578.4L198.7 583.1L199.5 577.6L200.3 584L201.1 577.3L201.9 583.9L202.7 576L203.5 582.5L204.3 577.4L205.1 583.6L205.9 578.2L206.7 584.6L207.5 578L208.3 584.9L209.1 578L209.9 583.2L210.7 576.3L211.5 581.8L212.3 576.4L213.1 583.2L213.9 578.2L214.7 584L215.5 578.9L216.3 585.1L217.1 578.9L217.9 586.1L218.7 577.4L219.5 584.5L220.3 577.5L221.1 583.4L221.9 576.3L222.7 582.7L223.5 577.1L224.3 584L225.1 578.2L225.9 584.6L226.7 578.6L227.5 583.3L228.3 577.5L229.1 583.9L229.9 577.6L230.7 584.3L231.5 578.3L232.3 585.6L233.1 577.9L233.9 584.9L234.7 577.9L235.5 584.9L236.3 577.8L237.1 584.1L237.9 577.3L238.7 583.4" stroke="#00ff00" stroke-width="1.8"/>
<path d="M237.9 577.3L238.7 583.4L239.5 577.4L239.7 580L240.3 439.4L240.8 448.1L241.2 458.4L241.7 464.7L242.1 473.9L242.6 479L243 487.7L243.5 491.5L243.9 499.9L244.4 502.6L244.8 510.2L245.3 512.2L245.7 519.3L246.2 520.4L246.6 527.4L247.1 528.3L247.5 534.5L248 534.9L248.4 540.2L248.9 540L249.3 545.9L249.8 544.8L250.2 551L250.7 549.1L251.1 554.4L251.6 552.6L252 558L252.5 556.2L252.9 561.8L253.4 558.3L253.8 564.1L254.3 560.5L254.8 566.5L255.2 562.6L255.7 567.9L256.1 564.1L256.6 570.6L257 566.4L257.5 572.6L257.9 567.5L258.4 573.4L258.8 568.7L259.3 574.6L259.7 569.6L260.2 575.7L260.6 570.8L261.1 576.8L261.5 571.6L262 577.3L262.4 573.1L262.9 577.8L263.3 573.5L263.8 579.4L264.2 574.3L264.7 579.8L265.1 574.7L265.6 580.1L266 574.8L266.5 580L266.9 575L267.4 580.6L267.9 575.4L268.3 579.9L268.8 576.1L269.2 580.7L269.7 575.4L270.1 580.7L270.6 576.2L271 580.9L271.5 575.6L271.9 581.3L272.4 576.2L272.8 581L273.3 576.1L273.7 580.9L274.2 576.5L274.6 581.8L275.1 576.7L275.5 581.3L276 575.9L276.4 581.3L276.9 576.4L277.3 581.6L277.8 577.3L278.2 582L278.7 577.3L279.1 582.7L279.6 576.9L280 582.7L280.5 577.5L280.9 582.7L281.4 576.9L281.9 582.2L282.3 577.3L282.8 582.1L283.2 576.9L283.7 582.2L284.1 577.5L284.6 582.3L285 576.8L285.5 582.3L285.9 577.2L286.4 582.5L286.8 576.9L287.3 582L287.7 576.5L288.2 582.1L288.6 577L289.1 581.9L289.5 577.5L290 582.4L290.4 577L290.9 582.9L291.3 577.7L291.8 582.8L292.2 577.3L292.7 581.9L293.1 577.1L293.6 582.6L294 577.7L294.5 582.6L294.9 577.2L295.4 582.5L295.9 577.9L296.3 582.4L296.8 577.6L297.2 582.4L297.7 577.2L298.1 582.7L298.6 578L299 583.3L299.5 577.6L299.9 582.5L300.4 577.7L300.8 582.6L301.3 577.3L301.7 582.8L302.2 577.4L302.6 582.8L303.1 577.4L303.5 582.8L304 576.7L304.4 582.5L304.9 577.6L305.3 582.9L305.8 577L306.2 582.7L306.7 577.2L307.1 582.4L307.6 578L308 582.6L308.5 577.4L309 582.7L309.4 577.3L309.9 582.7L310.3 578.2L310.8 582.4L311.2 577.1L311.7 582.8L312.1 577.7L312.6 583.1L313 577.7L313.5 582.2L313.9 577L314.4 582.6L314.8 577.1L315.3 582.4L315.7 577.3L316.2 583.4L316.6 577.1L317.1 582.4L317.5 577.2L318 582.1L318.4 577.3L318.9 582.1L319.3 577L319.8 582L320.2 576.7L320.7 582.4L321.1 577.1L321.6 583L322 577.4L322.5 582.4L323.3 701.6L324.1 687.5L324.9 674.7L325.8 663.8L326.6 652.8L327.4 645.2L328.2 637.3L329 629.9L329.9 624.7L330.7 619.6L331.5 615.4L332.3 611.5L333.1 607.2L334 604.8L334.8 600.9L335.6 599.9L336.4 597.4L337.2 595.8L338.1 593.1L338.9 591.9L339.7 591.7L340.5 590.7L341.3 589.7L342.1 587.9L343 587.1L343.8 586.7L344.6 586.3L345.4 585.9L346.2 585.2L347.1 585.6L347.9 584.2L348.7 583.9L349.5 583.8L350.3 584.3L351.2 584.1L352 582.8L352.8 582.7L353.6 579.2L354.4 582.8L355.2 579.3L356 582.2L356.9 579.2L357.7 582.7L358.5 579.2L359.3 583L360.1 579.8L360.9 583.2L361.7 579.9L362.5 583.1L363.3 579.7L364.1 582.6L365 579.8L365.8 582.4L366.6 579.4L367.4 582.6L368.2 579.5L369 582.8L369.8 579.6L370.6 582.6L371.4 579.5L372.2 583.3L373.1 580.4L373.9 583.2L374.7 580.3L375.5 583L376.3 579.7L377.1 583.3L377.9 579.9L378.7 582.8L379.5 579.7L380.4 582.7L381.2 579.2L382 582.5L382.8 579.4L383.6 582.7L384.4 579.8L385.2 583.1L386 579.7L386.8 582.5L387.6 579.4L388.5 582.4L389.3 579.3L390.1 582.7L390.9 579.1L391.7 582L392.5 579.3L393.3 582.8L394.1 579.1L394.9 582.5L395.7 579.1L396.6 582.9L397.4 579.5L398.2 582.6L399 579.3L399.8 582.7L400.2 580L400.7 485L402 500.2L405 517.3L408 528.7L409.8 534.4L410.8 634.3L411.6 627.6L412.4 621.7L413.2 616.6L414 612.1L414.8 608.2L415.6 604.7L416.4 601.7L417.3 599.1L418.1 596.8L418.9 594.8L419.7 593.1L420.5 591.5L421.3 590.2L422.1 589L422.9 588L423.7 587.1L424.5 586.3L425.3 585.7L426.1 585.1L426.9 584.5L427.7 584.1L428.6 583.7L429.4 583.3L430.2 583L431 582.8L431.8 582.5L432.6 582.3L433.4 582.2L434.2 582L435.2 515.4L437 524.9L440 538.2L442.6 547.7L443.6 607.5L444.6 585.7L446.5 580L447.4 570.5L448.2 462.2L449.8 399.4L451.4 334.8L452.6 504L453.8 675L454.7 788L455.4 684.5L456 648.4L456.8 640.6L457.6 633.7L458.4 627.6L459.2 622.2L460.1 617.5L460.9 613.3L461.7 609.6L462.5 606.4L463.3 603.5L464.1 601L464.9 598.7L465.7 596.7L466.5 595L467.4 593.5L468.2 592.1L469 590.9L469.8 589.8L470.6 588.9L471.2 611.9L472 580L472.8 523L474.2 511.6L476 488.8L477.8 466L479.2 485L481 511.6L482.4 526.8L483.4 598.2L484.2 570.5L486 564.8L488.5 562.9L489.8 568.6L491 653.1L491.8 644.1L492.6 636.2L493.4 629.4L494.2 623.4L495.1 618.1L495.9 613.5L496.7 609.5L497.5 606L498.3 603L499.1 600.3L499.9 598L500.7 595.9L501.5 594.2L502.4 592.6L503.2 591.2L504 590.1L504.8 589L505.6 588.1L506.4 532.5L509 540.1L513 549.6L516.6 555.3L518.5 616.8L519.3 611.7L520.2 608.4L521 604.6L521.8 601.5L522.6 599.7L523.5 596.2L524.3 594.9L525.1 593.9L525.9 591.7L526.8 591.1L527.6 588.5L528.4 588L529.2 587.6L530.1 586.2L530.9 585.5L531.7 585.1L532.6 585.3L533.4 585.1L534.2 583.5L535 583.1L535.9 583.7L536.7 583.4L537.5 583.1L538.3 583.1L539.2 581.9L540 582.4L540.8 579.3L541.7 582.7L542.5 579.9L543.4 583.2L544.2 579.2L545 582.6L545.9 579.4L546.7 582.6L547.6 579.4L548.4 582.9L549.3 579.3L550.1 582.6L550.9 579.3L551.8 582.5L552.6 580L553.5 582.9L554.3 579.5L554.5 580L555.1 431.7L555.6 439.5L556 452.9L556.5 456.5L556.9 469.5L557.4 471.5L557.8 484.2L558.3 485.6L558.7 497.5L559.2 496.8L559.6 508.1L560.1 506.7L560.5 517.3L561 514.4L561.4 526.4L561.9 521.7L562.3 534L562.8 528.6L563.2 540.7L563.7 534.2L564.1 545.8L564.6 539.2L565 551.6L565.5 543.2L565.9 555.8L566.4 546L566.9 559.4L567.3 549.8L567.8 562.2L568.2 552.3L568.7 566.5L569.1 554.6L569.6 568.9L570 557.5L570.5 572.1L570.9 560L571.4 574.5L571.8 560.4L572.3 576.8L572.7 563.2L573.2 577.4L573.6 562.3L574.1 578L574.5 565.3L575 579.6L575.4 565.2L575.9 581.4L576.3 566.5L576.8 582.2L577.2 566.5L577.7 581.7L578.1 568.3L578.6 582L579.1 568L579.5 582.4L580 567.2L580.4 584.1L580.9 570L581.3 584.2L581.8 569.7L582.2 584L582.7 570.9L583.1 585.1L583.6 569.5L584 585.5L584.5 571.5L584.9 585.6L585.4 569.4L585.8 586L586.3 569.4L586.7 585.8L587.2 571.4L587.6 586.8L588.1 569.8L588.5 586.3L589 572.4L589.4 585.7L589.9 572.1L590.4 586.5L590.8 570.1L591.3 586.9L591.7 571.4L592.2 584.8L592.6 571.7L593.1 586.8L593.5 570.7L594 586.8L594.4 573.3L594.9 586.2L595.3 571.3L595.8 588.2L596.2 572.4L596.7 588L597.1 571.6L597.6 586.9L598 572.5L598.5 588L598.9 573.1L599.4 586.1L599.8 572.6L600.3 586.4L600.7 570.8L601.2 587.4L601.7 572.7L602.1 585.3L602.6 570.3L603 587.7L603.5 572.9L603.9 586L604.4 572.2L604.8 585.6L605.3 572.7L605.7 587.3L606.2 571.4L606.6 586.5L607.1 573L607.5 586.7L608 571.9L608.4 586.8L608.9 571.1L609.3 585.5L609.8 571L610.2 588L610.7 572.8L611.1 587L611.6 572.9L612 587.2L612.5 571.6L612.9 586.8L613.4 573.4L613.9 586.9L614.3 571.3L614.8 586.6L615.2 573L615.7 586.6L616.1 572.5L616.6 587.2L617 573.1L617.5 587.7L617.9 570.7L618.4 587.8L618.8 571.9L619.3 586.6L619.7 572.9L620.2 586.2L620.6 570.8L621.1 585.8L621.5 573.1L622 587.7L622.4 572L622.9 586.8L623.3 572.9L623.8 587L624.2 571L624.7 588.5L625.2 573.3L625.6 587.6L626.1 572L626.5 587.6L627 571.8L627.4 585.2L627.9 572.2L628.3 587.8L628.8 573.2L629.2 586L629.7 572L630.1 586.7L630.6 572L631 587.2L631.5 570.6L631.9 585.4L632.4 570.4L632.8 587.3L633.3 570.8L633.7 587.2L634.2 570.6L634.6 585.9L635.1 572.2L635.5 587.4L636 570.7L636.4 587.6L636.9 571.5L637.4 586.4L637.8 573.8L638.3 586.3L638.7 570.8L639.2 586.8L639.6 572.2L640.1 586.9L640.5 572.5L641 585.5L641.4 570.5L641.9 587.2L642.3 570.8L642.8 586.4L643.2 571.8L643.7 586.1L644.1 572.3L644.6 587.4L645 570.7L645.5 586.3L645.9 572.5L646.4 586.5L646.8 571.1L647.3 585.8L647.7 570.8L648.2 586.6L649 713L649.8 696.8L650.6 683.7L651.5 670.8L652.3 659.8L653.1 650.2L653.9 642.6L654.7 635.5L655.6 627.7L656.4 622.3L657.2 618.3L658 613L658.8 609.2L659.7 606.8L660.5 602.9L661.3 601L662.1 598.8L662.9 597.1L663.8 594.7L664.6 593.1L665.4 591.9L666.2 591.4L667 589.3L667.8 589.1L668.7 588.4L669.5 587.1L670.3 587.2L671.1 585.5L671.9 585.4L672.8 584.8L673.6 585.1L674.4 584.7L675.2 584.7L676 584.4L676.9 583.9L677.7 583.2L678.5 583.5L679.3 579.5L680.1 582.4L680.9 579.4L681.7 582.6L682.6 579.3L683.4 582.3L684.2 579.4L685 582.8L685.8 579.2L686.6 582.4L687.4 579.2L688.2 582.2L689 579.2L689.8 583L690.7 579.4L691.5 582.8L692.3 579.1L693.1 582.6L693.9 579.7L694.7 582.8L695.5 579.8L696.3 582.8L697.1 579.9L697.9 582.8L698.8 579.7L699.6 583.2L700.4 579.6L701.2 582.9L702 579.9L702.8 582.3L703.6 579L704.4 582.1L705.2 578.9L706.1 582.2L706.9 579.3L707.7 582.3L708.5 579L709.3 582.4L710.1 579.4L710.9 582.3L711.7 579.4L712.5 582L713.3 578.9L714.2 582.8L715 579.8L715.8 583L716.6 579.5L717.4 582.3L718.2 579.4L719 582.5L719.8 579.7L720.6 582.8L721.4 579.7L722.3 582.6L723.1 579.3L723.9 582.6L724.7 579.1L725.5 581.9L725.9 580L726.4 485L727.7 500.2L730.7 517.3L733.7 528.7L735.5 534.4L736.5 634.3L737.3 627.6L738.1 621.7L738.9 616.6L739.7 612.1L740.5 608.2L741.3 604.7L742.1 601.7L743 599.1L743.8 596.8L744.6 594.8L745.4 593.1L746.2 591.5L747 590.2L747.8 589L748.6 588L749.4 587.1L750.2 586.3L751 585.7L751.8 585.1L752.6 584.5L753.4 584.1L754.3 583.7L755.1 583.3L755.9 583L756.7 582.8L757.5 582.5L758.3 582.3L759.1 582.2L759.9 582L760.9 515.4L762.7 524.9L765.7 538.2L768.3 547.7L769.3 607.5L770.3 585.7L772.2 580L773.1 570.5L773.9 462.2L775.5 399.4L777.1 334.8L778.3 504L779.5 675L780.4 788L781.1 684.5L781.7 648.4L782.5 640.6L783.3 633.7L784.1 627.6L784.9 622.2L785.8 617.5L786.6 613.3L787.4 609.6L788.2 606.4L789 603.5L789.8 601L790.6 598.7L791.4 596.7L792.2 595L793.1 593.5L793.9 592.1L794.7 590.9L795.5 589.8L796.3 588.9L796.9 611.9L797.7 580L798.5 523L799.9 511.6L801.7 488.8L803.5 466L804.9 485L806.7 511.6L808.1 526.8L809.1 598.2L809.9 570.5L811.7 564.8L814.2 562.9L815.5 568.6L816.7 653.1L817.5 644.1L818.3 636.2L819.1 629.4L819.9 623.4L820.8 618.1L821.6 613.5L822.4 609.5L823.2 606L824 603L824.8 600.3L825.6 598L826.4 595.9L827.2 594.2L828.1 592.6L828.9 591.2L829.7 590.1L830.5 589L831.3 588.1L832.1 532.5L834.7 540.1L838.7 549.6L842.3 555.3L844.2 616.8L845 611.6L845.9 608.8L846.7 604.3L847.5 602.5L848.3 598.7L849.2 596.7L850 594.7L850.8 593.4L851.6 591.9L852.5 590.9L853.3 589.8L854.1 588.1L855 587.6L855.8 587.3L856.6 586.5L857.4 585.9L858.3 585.3L859.1 584.5L859.9 583.4L860.7 583.6L861.6 583.1L862.4 583.8L863.2 582.7L864 582.2L864.9 581.9L865.7 582.1L866.5 579.2L867.3 583.1L868.2 579.4L869 582.6L869.8 579.7L870.6 583.3L871.5 579.8L872.3 583L873.1 580L873.9 583L874.7 579.7L875.6 583.2L876.4 579.7L877.2 582.4L878 579.8L878.9 582.7L879.7 579.5L880.5 583.3L880.7 580L881.3 427.9L881.8 436.5L882.2 448.3L882.6 454.3L883.1 465.2L883.5 470.1L884 480.1L884.4 483.4L884.9 493.5L885.3 495.4L885.8 504.7L886.2 506.1L886.7 515.9L887.1 515.2L887.6 523.7L888 522.7L888.5 531.9L888.9 528.6L889.4 537.9L889.8 535L890.3 543.4L890.8 540.2L891.2 548.7L891.6 544L892.1 553.5L892.5 547.4L893 558.3L893.4 551.5L893.9 561.1L894.3 554L894.8 565L895.2 557.5L895.7 567.1L896.1 559.3L896.6 569.4L897 561.1L897.5 572.3L897.9 563.1L898.4 573.1L898.8 564.6L899.3 575.5L899.8 566L900.2 576.2L900.6 566.7L901.1 577.5L901.5 567.9L902 579L902.4 568.4L902.9 578.4L903.3 569.4L903.8 581L904.2 570.7L904.7 579.8L905.1 570.2L905.6 582L906 572L906.5 581.9L906.9 571.2L907.4 582.5L907.9 572L908.3 582.5L908.8 573.8L909.2 583.3L909.6 573.5L910.1 583.6L910.5 573.2L911 584.1L911.4 573L911.9 583.9L912.4 574.7L912.8 584.2L913.2 573.9L913.7 584L914.1 573.6L914.6 583.6L915 574.5L915.5 583.2L915.9 574.1L916.4 583.8L916.9 574.5L917.3 584.9L917.8 574.5L918.2 584.1L918.6 574L919.1 585.1L919.5 573.7L920 584.1L920.4 574.3L920.9 584.6L921.4 574.3L921.8 585L922.2 574.6L922.7 584L923.1 575.4L923.6 585.4L924 574.5L924.5 585.5L924.9 575.4L925.4 584.6L925.9 574.3L926.3 584.4L926.8 574.9L927.2 584.7L927.6 576.3L928.1 584.6L928.5 575.8L929 584L929.4 574.6L929.9 584.6L930.4 575.3L930.8 583.9L931.2 574.9L931.7 585.8L932.1 576.2L932.6 584.4L933 574.1L933.5 585L933.9 575.8L934.4 584.7L934.9 575L935.3 585.1L935.8 574.4L936.2 583.5L936.6 575.1L937.1 584.3L937.5 575.8L938 585.6L938.4 574.8L938.9 585.1L939.4 575.1L939.8 584.3L940.2 574.7L940.7 585.4L941.1 575.5L941.6 585.5L942 575.9L942.5 585.1L943 574.5L943.4 585.8L943.9 576L944.3 585.8L944.8 574.9L945.2 585.9L945.6 575.9L946.1 584.8L946.5 574.9L947 585.6L947.5 574.8L947.9 585.7L948.4 574.8L948.8 585.2L949.2 575.8L949.7 583.7L950.1 575L950.6 584.7L951 574.8L951.5 583.9L952 575.7L952.4 584.7L952.9 575.5L953.3 584.6L953.8 575L954.2 584.5L954.6 575.1L955.1 584.7L955.5 575.5L956 584.9L956.5 575.5L956.9 583.7L957.4 575.3L957.8 583.5L958.2 574.6L958.7 583.7L959.1 575.3L959.6 585.3L960 575.1L960.5 584.5L961 575.2L961.4 585.3L961.9 575L962.3 585.2L962.8 575L963.2 584.5L963.6 574.3L964.1 584.7L964.5 574.5L965 584.9L965.5 575.3L965.9 584.6L966.4 575.4L966.8 585L967.2 575.7L967.7 585.5L968.1 574.5L968.6 585.1L969 574.4L969.5 584.6L970 575.7L970.4 585.2L970.9 575L971.3 584.7L971.8 574.8L972.2 584.8L972.6 574.1L973.1 584.5L973.5 576.3L974 586L974.8 718.7L975.6 702.3L976.4 687.3L977.3 674.9L978.1 662.6L978.9 653.9L979.7 644.9L980.5 637.3L981.4 630.9L982.2 625.2L983 619.6L983.8 615.3L984.6 611.6L985.5 606.8L986.3 604.6L987.1 602.4L987.9 599.1L988.7 597.2L989.5 595.1L990.4 594L991.2 592.9L992 590.9L992.8 590.2L993.6 588.5L994.5 588.5L995.3 587.9L996.1 587.4L996.9 586.7L997.7 586.2L998.6 585.4L999.4 585.2L1000.2 584L1001 584.8L1001.8 583.4L1002.7 584.1L1003.5 583.7L1004.3 582.8L1005.1 579L1005.9 582.5L1006.7 579.2L1007.5 582.6L1008.3 579.2L1009.2 582.2L1010 579L1010.8 582.5L1011.6 579.7L1012.4 582.7L1013.2 579.5L1014 582.4L1014.8 579.5L1015.6 582.5L1016.4 579.4L1017.2 583.1L1018 579.8L1018.9 582.7L1019.7 579.3L1020.5 582.5L1021.3 579.4L1022.1 582.3L1022.9 579.1L1023.7 582.3L1024.5 579.1L1025.3 582.1L1026.1 578.9L1026.9 582.6L1027.8 579.8L1028.6 582.8L1029.4 579.5L1030.2 583.2L1031 580L1031.8 583.1L1032.6 580.1L1033.4 583.3L1034.2 579.8L1035 583.3L1035.8 580.1L1036.6 583.2L1037.5 579.4L1038.3 583L1039.1 579.8L1039.9 583.2L1040.7 579.8L1041.5 582.5L1042.3 579.2L1043.1 582.2L1043.9 579L1044.7 582.5L1045.5 579.3L1046.3 582.6L1047.2 579.5L1048 582.9L1048.8 579.2L1049.6 582.2L1050.4 579.4L1051.2 582.5L1051.6 580L1052.1 485L1053.4 500.2L1056.4 517.3L1059.4 528.7L1061.2 534.4L1062.2 634.3L1063 627.6L1063.8 621.7L1064.6 616.6L1065.4 612.1L1066.2 608.2L1067 604.7L1067.8 601.7L1068.7 599.1L1069.5 596.8L1070.3 594.8L1071.1 593.1L1071.9 591.5L1072.7 590.2L1073.5 589L1074.3 588L1075.1 587.1L1075.9 586.3L1076.7 585.7L1077.5 585.1L1078.3 584.5L1079.1 584.1L1080 583.7L1080.8 583.3L1081.6 583L1082.4 582.8L1083.2 582.5L1084 582.3L1084.8 582.2L1085.6 582L1086.6 515.4L1088.4 524.9L1091.4 538.2L1094 547.7L1095 607.5L1096 585.7L1097.9 580L1098.8 570.5L1099.6 462.2L1101.2 399.4L1102.8 334.8L1104 504L1105.2 675L1106.1 788L1106.8 684.5L1107.4 648.4L1108.2 640.6L1109 633.7L1109.8 627.6L1110.6 622.2L1111.5 617.5L1112.3 613.3L1113.1 609.6L1113.9 606.4L1114.7 603.5L1115.5 601L1116.3 598.7L1117.1 596.7L1117.9 595L1118.8 593.5L1119.6 592.1L1120.4 590.9L1121.2 589.8L1122 588.9L1122.6 611.9L1123.4 580L1124.2 523L1125.6 511.6L1127.4 488.8L1129.2 466L1130.6 485L1132.4 511.6L1133.8 526.8L1134.8 598.2L1135.6 570.5L1137.4 564.8L1139.9 562.9L1141.2 568.6L1142.4 653.1L1143.2 644.1L1144 636.2L1144.8 629.4L1145.6 623.4L1146.5 618.1L1147.3 613.5L1148.1 609.5L1148.9 606L1149.7 603L1150.5 600.3L1151.3 598L1152.1 595.9L1152.9 594.2L1153.8 592.6L1154.6 591.2L1155.4 590.1L1156.2 589L1157 588.1L1157.8 532.5L1160.4 540.1L1164.4 549.6L1168 555.3L1169.9 616.8L1170.7 611.8L1171.6 608.6L1172.4 605L1173.2 601.9L1174 598.5L1174.9 597.2L1175.7 594.7L1176.5 593.5L1177.3 591.3L1178.2 590.6L1179 590L1179.8 588.2L1180.7 587.6L1181.5 587L1182.3 586.3L1183.1 586.1L1184 584.5L1184.8 584.4L1185.6 583.9L1186.4 583.6L1187.3 583.6L1188.1 583.3L1188.9 583L1189.7 582.1L1190.6 582.8L1191.4 583L1192.2 579.9L1193.1 582.9L1193.9 579.3L1194.8 582.9L1195.6 580L1196.4 583L1197.3 579.9L1198.1 583.4L1199 580.1L1199.8 582.8L1200.7 579.8L1201.5 583.3L1202.3 579.2L1203.2 583L1204 579.6L1204.9 583.2L1205.7 580L1205.9 580L1206.5 424.1L1207 433.6L1207.4 445.4L1207.9 451.6L1208.3 463.1L1208.8 468.1L1209.2 478.4L1209.7 481.1L1210.1 491.7L1210.6 494L1211 503L1211.5 504.2L1211.9 513.4L1212.4 513.6L1212.8 522L1213.3 520.7L1213.7 530.3L1214.2 527.9L1214.6 537.1L1215.1 534.2L1215.5 543.3L1216 539.9L1216.4 549L1216.9 544.7L1217.3 552.7L1217.8 548.4L1218.2 556.4L1218.7 550.8L1219.1 560.3L1219.6 554.4L1220 563.7L1220.5 556.5L1220.9 566.4L1221.4 559.5L1221.8 569.9L1222.3 561.5L1222.8 571.2L1223.2 562.6L1223.7 573L1224.1 564.5L1224.6 574.6L1225 566L1225.5 574.8L1225.9 566.1L1226.4 576.6L1226.8 567.3L1227.3 576.9L1227.7 569.8L1228.2 578.8L1228.6 570.8L1229.1 579.2L1229.5 571.1L1230 579.8L1230.4 571.5L1230.9 581.1L1231.3 571.7L1231.8 581.7L1232.2 572.5L1232.7 581.4L1233.1 572.9L1233.6 583L1234 572.7L1234.5 583L1234.9 573.5L1235.4 582.7L1235.8 573.8L1236.3 583.3L1236.7 574.1L1237.2 581.9L1237.7 573.9L1238.1 582.7L1238.6 574.9L1239 583L1239.5 573.9L1239.9 582.8L1240.4 573.8L1240.8 582.7L1241.3 575.3L1241.7 583.4L1242.2 574.9L1242.6 582.8L1243.1 574.9L1243.5 583.8L1244 575.4L1244.4 583.3L1244.9 575.4L1245.3 584.5L1245.8 575.7L1246.2 585L1246.7 574.9L1247.1 584.2L1247.6 575.1L1248 584.8L1248.5 575L1248.9 585.2L1249.4 575.2L1249.8 584.2L1250.3 575.2L1250.7 584.8L1251.2 574.9L1251.6 583.7L1252.1 576.1L1252.5 584.3L1253 576L1253.5 585L1253.9 574.9L1254.4 584.5L1254.8 575.3L1255.3 583.8L1255.7 575.8L1256.2 583.9L1256.6 574.9L1257.1 585.1L1257.5 574.6L1258 584L1258.4 575.1L1258.9 584.7L1259.3 574.9L1259.8 584.2L1260.2 575.1L1260.7 584.2L1261.1 574.7L1261.6 584.3L1262 574.4L1262.5 584.1L1262.9 574.1L1263.4 583.7L1263.8 574.7L1264.3 585.1L1264.7 575.6L1265.2 584.4L1265.6 576.4L1266.1 584.2L1266.5 575.9L1267 585.1L1267.4 574.7L1267.9 583.4L1268.3 574.7L1268.8 584.3L1269.3 575.4L1269.7 585.3L1270.2 576.1L1270.6 584.4L1271.1 574.6L1271.5 584L1272 576L1272.4 583.7L1272.9 574.8L1273.3 584.7L1273.8 574.7L1274.2 585.4L1274.7 574.7L1275.1 584.2L1275.6 574.7L1276 584.3L1276.5 576L1276.9 583.9L1277.4 574.8L1277.8 585L1278.3 574.7L1278.7 584.9L1279.2 576.1L1279.6 584.7L1280.1 575.7L1280.5 585.4L1281 575.5L1281.4 585.1L1281.9 575.4L1282.3 584.7L1282.8 575.2L1283.2 583.8L1283.7 576L1284.2 584.7L1284.6 575.5L1285.1 584.6L1285.5 575.8L1286 585.7L1286.4 576.1L1286.9 585.3L1287.3 576L1287.8 585L1288.2 575.7L1288.7 583.6L1289.1 575.5L1289.6 584.6L1290 574.7L1290.5 584.2L1290.9 575.6L1291.4 584.4L1291.8 574.7L1292.3 584.7L1292.7 575.9L1293.2 584.3L1293.6 576.4L1294.1 585.3L1294.5 575L1295 583.5L1295.4 575.1L1295.9 584.6L1296.3 574.8L1296.8 583.4L1297.2 574.7L1297.7 584.8L1298.1 575.1L1298.6 584.6L1299 574.8L1299.5 583.6L1300.3 720.6L1301.1 704.3L1301.9 689.1L1302.8 675.5L1303.6 665L1304.4 654L1305.2 645.5L1306 637.3L1306.9 631.4L1307.7 625.3L1308.5 620.6L1309.3 615.3L1310.1 610.9L1311 607.7L1311.8 604.6L1312.6 601.3L1313.4 599.1L1314.2 597.7L1315 594.9L1315.9 593.6L1316.7 592.8L1317.5 591.7L1318.3 589.9L1319.1 589.2L1320 588.2L1320.8 588.2L1321.6 586.5L1322.4 585.8L1323.2 586L1324.1 585.7L1324.9 584.3L1325.7 584L1326.5 585L1327.3 584.1L1328.2 584L1329 584L1329.8 583.5L1330.6 579.5L1331.4 583L1332.2 579.5L1333 582.8L1333.9 579.1L1334.7 582.9L1335.5 579.7L1336.3 582.5L1337.1 579.7L1337.9 583.1L1338.7 580.1L1339.5 583.2L1340.4 579.9L1341.2 582.9L1342 579.4L1342.8 582.4L1343.6 579.1L1344.4 582.8L1345.2 579.5L1346 582.9L1346.9 579.5L1347.7 583L1348.5 579.6L1349.3 582.9L1350.1 580L1350.9 583.3L1351.7 580L1352.5 583.1L1353.3 579.6L1354.2 583.1L1355 579.6L1355.8 582.9L1356.6 579.3L1357.4 582.8L1358.2 579.5L1359 582.1L1359.8 579.5L1360.7 582.7L1361.5 579.3L1362.3 582.8L1363.1 579.6L1363.9 583L1364.7 579.7L1365.5 583.3L1366.3 579.8L1367.2 583.4L1368 579.9L1368.8 583.1L1369.6 579.7L1370.4 583.1L1371.2 579.7L1372 583L1372.8 579.3L1373.7 582.7L1374.5 580L1375.3 582.8L1376.1 579.7L1376.9 583L1377.3 580L1377.8 485L1379.1 500.2L1382.1 517.3L1385.1 528.7L1386.9 534.4L1387.9 634.3L1388.7 627.6L1389.5 621.7L1390.3 616.6L1391.1 612.1L1391.9 608.2L1392.7 604.7L1393.5 601.7L1394.4 599.1L1395.2 596.8L1396 594.8L1396.8 593.1L1397.6 591.5L1398.4 590.2L1399.2 589L1400 588L1400.8 587.1L1401.6 586.3L1402.4 585.7L1403.2 585.1L1404 584.5L1404.8 584.1L1405.7 583.7L1406.5 583.3L1407.3 583L1408.1 582.8L1408.9 582.5L1409.7 582.3L1410.5 582.2L1411.3 582L1412.3 515.4L1414.1 524.9L1417.1 538.2L1419.7 547.7L1420.7 607.5L1421.7 585.7L1423.6 580L1424.5 570.5L1425.3 462.2L1426.9 399.4L1428.5 334.8L1429.7 504L1430.9 675L1431.8 788L1432.5 684.5L1433.1 648.4L1433.9 640.6L1434.7 633.7L1435.5 627.6L1436.3 622.2L1437.2 617.5L1438 613.3L1438.8 609.6L1439.6 606.4L1440.4 603.5L1441.2 601L1442 598.7L1442.8 596.7L1443.6 595L1444.5 593.5L1445.3 592.1L1446.1 590.9L1446.9 589.8L1447.7 588.9L1448.3 611.9L1449.1 580L1449.9 523L1451.3 511.6L1453.1 488.8L1454.9 466L1456.3 485L1458.1 511.6L1459.5 526.8L1460.5 598.2L1461.3 570.5L1463.1 564.8L1465.6 562.9L1466.9 568.6L1468.1 653.1L1468.9 644.1L1469.7 636.2L1470.5 629.4L1471.3 623.4L1472.2 618.1L1473 613.5L1473.8 609.5L1474.6 606L1475.4 603L1476.2 600.3L1477 598L1477.8 595.9L1478.6 594.2L1479.5 592.6L1480.3 591.2L1481.1 590.1L1481.9 589L1482.7 588.1L1483.5 532.5L1486.1 540.1L1490.1 549.6L1493.7 555.3L1495.6 616.8L1496.4 612.2L1497.3 607.7L1498.1 605.3L1498.9 601.7L1499.7 599.4L1500.6 596.3L1501.4 595.2L1502.2 593.6L1503 591.3L1503.9 589.9L1504.7 588.9L1505.5 587.8L1506.3 587.8L1507.2 586.5L1508 585.9L1508.8 584.8L1509.7 585L1510.5 584.8L1511.3 584.4L1512.1 583.7L1513 582.7L1513.8 582.9L1514.6 582.6L1515.4 582.8L1516.3 582.8L1517.1 581.8L1517.9 579.7L1518.7 582.4L1519.5 579.4L1520.3 582.2L1521.1 579.4L1521.9 582.5L1522.7 579.3L1523.5 582.8L1524.3 579.5L1525.1 582.9L1525.9 579.7L1526.7 583.4L1527.5 580L1528.3 583.1L1529.1 579.8L1529.9 582.3L1530.7 579.3L1531.5 582.9L1531.7 580L1532.3 370L1532.8 382.4L1533.2 404.4L1533.7 410.6L1534.1 431.1L1534.6 433.9L1535 454.6L1535.5 454.4L1535.9 474.3L1536.4 471.9L1536.8 490.4L1537.3 485.9L1537.7 504.9L1538.2 498.1L1538.6 518.5L1539.1 509.5L1539.5 529L1540 518.4L1540.4 537.9L1540.9 525.3L1541.3 545.9L1541.8 529.7L1542.2 550.9L1542.7 537.6L1543.1 556.6L1543.6 541.7L1544 561.7L1544.5 542L1544.9 567L1545.4 545.9L1545.8 570.8L1546.3 550.2L1546.7 576.8L1547.2 553.1L1547.6 576.5L1548.1 555.8L1548.5 578.5L1549 552.4L1549.4 580.1L1549.9 555.3L1550.3 581.8L1550.8 556.5L1551.2 584.9L1551.7 557L1552.1 583L1552.6 560L1553 584.4L1553.5 560.6L1553.9 587.5L1554.4 563L1554.8 588.9L1555.3 560.2L1555.7 589.5L1556.2 560.8L1556.7 589.1L1557.1 564.1L1557.6 589.8L1558 560.9L1558.5 590.6L1558.9 564.8L1559.4 588.5L1559.8 565.8L1560.3 589.9L1560.7 565L1561.2 590.5L1561.6 566.8L1562.1 591.9L1562.5 565.3L1563 592L1563.4 565.2L1563.9 588.4L1564.3 562.5L1564.8 592.6L1565.2 566.6L1565.7 590L1566.1 563.5L1566.6 590L1567 566.5L1567.5 590.9L1567.9 564.8L1568.4 592.8L1568.8 565L1569.3 589.7L1569.7 566.5L1570.2 592L1570.6 563.1L1571.1 594L1571.5 564L1572 592.9L1572.4 567.4L1572.9 589.2L1573.3 566.3L1573.8 589.9L1574.2 563.6L1574.7 593L1575.1 564.3L1575.6 593.5L1576 563.7L1576.5 593.8L1576.9 564.9L1577.4 593.7L1577.8 567.8L1578.3 592.2L1578.7 563.7L1579.2 590L1579.7 563.6L1580.1 593.7L1580.6 564.4L1581 591.4L1581.5 566.3L1581.9 591.9L1582.4 567.8L1582.8 590.5L1583.3 566.8L1583.7 593.9L1584.2 565L1584.6 593.1L1585.1 564.2L1585.5 591.2L1586 563.3L1586.4 591.9L1586.9 565.9L1587.3 589.5L1587.8 566.6L1588.2 590.5L1588.7 565.6L1589.1 592.7L1589.6 563.7L1590 590.6L1590.5 566.5L1590.9 593L1591.4 566.7L1591.8 593.7L1592.3 566.8L1592.7 591.6L1593.2 564.3L1593.6 588.9L1594.1 564.3L1594.5 589.9L1595 565.9L1595.4 589.3L1595.9 563L1596.3 590.3L1596.8 565.5L1597.2 590.2L1597.7 566.3L1598.1 592.4L1598.6 565.7L1599 592.2L1599.5 565.3L1599.9 591.6L1600.4 566.1L1600.8 590.4L1601.3 564.5L1601.7 590.3L1602.2 563.3L1602.6 591.7L1603.1 566.8L1603.6 589.9L1604 565.5L1604.5 590L1604.9 567L1605.4 590.8L1605.8 564.5L1606.3 590.4L1606.7 567.5L1607.2 591.7L1607.6 565.2L1608.1 589.9L1608.5 565.7L1609 589.7L1609.4 566.2L1609.9 593.7L1610.3 566.2L1610.8 593.9L1611.2 565.3L1611.7 591.3L1612.1 563.1L1612.6 590.6L1613 563.6L1613.5 592.4L1613.9 564.8L1614.4 593.6L1614.8 563.6L1615.3 592.4L1615.7 563.7L1616.2 592.2L1616.6 566.2L1617.1 593.5L1617.5 567.6L1618 593.4L1618.4 562.9L1618.9 589.7L1619.3 563.9L1619.8 590.7L1620.2 563.5L1620.7 593.3L1621.1 566.4L1621.6 592.2L1622 567.1L1622.5 593L1622.9 565.7L1623.4 589.8L1623.8 565.6L1624.3 590L1624.7 565.3L1625.2 590.2L1625.6 566.4L1626.1 590L1626.5 566.2L1627 591.4L1627.3 555.3L1627.6 629.9" stroke="#00ff00" stroke-width="2.15"/>
<path d="M86.5 583.8L87.6 582.2L88.7 581.3L89.8 580.7L90.8 580.4L91.9 580.2L93 580.1L93.8 577.2L94.6 583.6L95.4 575.6L96.2 582.4L97 577.2L97.8 583.6L98.6 576.7L99.4 582.4L100.2 576.4L101 583.7L101.8 577.4L102.6 585.4L103.4 578.4L104.2 584.6L105 577.7L105.8 585.6L106.6 578.3L107.4 584.1L108.2 577.4L109 584.2L109.8 578.4L110.6 584.5L111.4 577.1L112.2 582.9L113 576.5L113.8 583.5L114.6 576.4L115.4 582.8L116.2 577.9L117 583.9L117.8 578.5L118.6 585.1L119.4 578.1L120.2 584.7L121 576.9L121.8 583.3L122.6 576.8L123.4 584.4L124.2 577L125 585L125.8 578.3L126.6 583.5L127.4 577.7L128.2 584L129 578.8L129.8 585L130.6 579.6L131.4 585.7L132.2 576.9L133 584L133.8 576.7L134.6 583.9L135.4 576.1L136.2 582.1L137 576.8L137.8 583.8L138.6 578.8L139.4 585L140.2 577.7L141 585.6L141.8 577L142.6 584.8L143.4 577.4L144.2 582.5L145 575.5L145.8 582.3L146.6 576.6L147.4 582.4L148.2 575.9L149 583.3L149.8 578.6L150.6 583.2L151.4 577.2L152.2 584.8L153 576.8L153.8 583.4L154.6 575.5L155.4 582.2L156.2 576L157 582.3L157.8 575.4L158.6 582.4L159.4 577.4L160.2 584.7L161 578.3L161.8 583.4L162.6 575.9L163.4 581.4L164.2 577.5L165 582.5L165.8 575.9L166.7 582L167.5 576.2L168.3 582.8L169.1 576.7L169.9 583.1L170.7 577.6L171.5 583.5L172.3 575.8L173.1 582.8L173.9 577.4L174.7 584.8L175.5 577.6L176.3 583.3L177.1 575.6L177.9 582.8L178.7 576.7L179.5 582.8L180.3 576.6L181.1 582.8L181.9 576.3L182.7 582.5L183.5 577.2L184.3 582.7L185.1 575.8L185.9 581.6L186.7 575.3L187.5 582.5L188.3 576.6L189.1 581.9L189.9 575.6L190.7 582.3L191.5 576.6L192.3 583.5L193.1 578.6L193.9 585.4L194.7 578.9L195.5 583.4L196.3 577.2L197.1 583.4L197.9 577.1L198.7 583.8L199.5 576.3L200.3 582.3L201.1 574.9L201.9 582.7L202.7 575.9L203.5 582.6L204.3 576.3L205.1 582.6L205.9 577.4L206.7 582.4L207.5 577.1L208.3 583.8L209.1 577.9L209.9 584.5L210.7 577.8L211.5 583.4L212.3 577.9L213.1 582.5L213.9 576.4L214.7 582L215.5 575.5L216.3 584.2L217.1 578.7L217.9 583.6L218.7 578L219.5 584.8L220.3 576.1L221.1 583.5L221.9 576.5L222.7 582.2L223.5 577L224.3 584L225.1 576.3L225.9 584.1L226.7 578.2L227.5 584.6L228.3 577.2L229.1 584.1L229.9 577.4L230.7 582.4L231.5 575.9L232.3 582.2L233.1 575L233.9 581.3L234.7 575.9L235.5 583.6L236.3 576.6L237.1 582.4L237.9 576.6L238.7 582.6" stroke="#00ffff" stroke-width="2"/>
<path d="M237.9 576.6L238.7 582.6L239.5 575.5L239.7 580L240.3 435.5L240.8 444.6L241.2 454.3L241.7 461.6L242.1 470.5L242.6 476.5L243 484.8L243.5 489.6L243.9 497.4L244.4 501.5L244.8 508.5L245.3 511.3L245.7 517.5L246.2 519.5L246.6 525.7L247.1 527.2L247.5 532.4L248 533.6L248.4 539L248.9 539.2L249.3 544.3L249.8 544.7L250.2 549.5L250.7 549.2L251.1 553.3L251.6 552.8L252 557.4L252.5 556.3L252.9 560.9L253.4 558.4L253.8 563.2L254.3 560.9L254.8 565.6L255.2 562.9L255.7 567.4L256.1 564.4L256.6 569.4L257 566.2L257.5 571.3L257.9 567.5L258.4 572.8L258.8 569.1L259.3 573.5L259.7 570.3L260.2 574.7L260.6 571.1L261.1 575.9L261.5 572.3L262 576.5L262.4 572.7L262.9 577.4L263.3 574L263.8 577.7L264.2 574.5L264.7 578.7L265.1 574.5L265.6 578.8L266 574.9L266.5 579.4L266.9 575L267.4 579.2L267.9 575.6L268.3 579.6L268.8 576L269.2 580.1L269.7 576.6L270.1 580.2L270.6 576.3L271 580.3L271.5 576.3L271.9 580.3L272.4 576.5L272.8 580.5L273.3 577.2L273.7 581.3L274.2 577.1L274.6 580.8L275.1 577.1L275.5 581.4L276 577.3L276.4 581.1L276.9 577.4L277.3 581.6L277.8 577.8L278.2 581.8L278.7 577.2L279.1 581.6L279.6 577.9L280 581.3L280.5 577.8L280.9 581.9L281.4 577.7L281.9 581.8L282.3 577.6L282.8 581.6L283.2 577.9L283.7 581.3L284.1 577.7L284.6 581.5L285 577.5L285.5 581.4L285.9 577.8L286.4 582L286.8 577.6L287.3 581.4L287.7 577.8L288.2 582L288.6 577.6L289.1 581.5L289.5 577.8L290 581.6L290.4 577.7L290.9 582.2L291.3 578.4L291.8 582.2L292.2 578.5L292.7 582.3L293.1 578.7L293.6 582.4L294 578.5L294.5 582.5L294.9 578L295.4 582L295.9 577.6L296.3 582.2L296.8 577.4L297.2 581.7L297.7 577.5L298.1 581L298.6 577.8L299 581.4L299.5 577.5L299.9 581.5L300.4 577.8L300.8 581.8L301.3 577.7L301.7 582L302.2 578.2L302.6 582L303.1 577.9L303.5 582L304 578L304.4 581.6L304.9 577.5L305.3 581.6L305.8 578.1L306.2 581.8L306.7 578.7L307.1 582L307.6 578L308 582.3L308.5 577.8L309 582L309.4 577.9L309.9 582.1L310.3 577.9L310.8 582L311.2 578.3L311.7 581.6L312.1 577.6L312.6 581.5L313 578.3L313.5 582.5L313.9 578.6L314.4 582.2L314.8 578.1L315.3 582L315.7 577.8L316.2 582.3L316.6 578.2L317.1 582.2L317.5 577.8L318 582L318.4 577.9L318.9 582.6L319.3 578.2L319.8 582.4L320.2 578.3L320.7 581.9L321.1 577.9L321.6 582.1L322 578L322.5 581.9L323.3 705.4L324.1 689.1L324.9 675.4L325.8 664.6L326.6 653L327.4 643.8L328.2 636.5L329 629L329.9 624L330.7 619L331.5 613.8L332.3 610.2L333.1 606.7L334 603.2L334.8 599.7L335.6 598.1L336.4 595.4L337.2 594.3L338.1 592.8L338.9 592.2L339.7 590.9L340.5 588.7L341.3 588.1L342.1 587.5L343 586.3L343.8 586.1L344.6 586.1L345.4 584.8L346.2 584.6L347.1 585.2L347.9 583.8L348.7 584.2L349.5 583.3L350.3 583.1L351.2 582.8L352 583.9L352.8 582.8L353.6 579.4L354.4 583.3L355.2 579.4L356 582.7L356.9 579.4L357.7 582.2L358.5 579L359.3 582.6L360.1 579.3L360.9 583L361.7 580L362.5 582.8L363.3 579.8L364.1 583.2L365 579.9L365.8 582.7L366.6 579.1L367.4 582.3L368.2 579.1L369 581.9L369.8 578.7L370.6 581.9L371.4 578.7L372.2 582.6L373.1 579.5L373.9 582.5L374.7 579.9L375.5 582.9L376.3 579.3L377.1 582.9L377.9 579.2L378.7 582.5L379.5 579.1L380.4 582.9L381.2 579L382 582.6L382.8 580L383.6 582.6L384.4 579.3L385.2 582.3L386 579.1L386.8 582.4L387.6 579.8L388.5 582.8L389.3 579.4L390.1 582.4L390.9 578.8L391.7 582.4L392.5 579.6L393.3 583.3L394.1 579.7L394.9 583.4L395.7 579.9L396.6 583.2L397.4 580.3L398.2 583.1L399 579.6L399.8 582.7L400.2 580L400.7 492.6L402 504L405 519.2L408 530.6L409.8 536.3L410.9 618L411.7 613.3L412.5 609.3L413.3 605.7L414.1 602.6L414.9 599.9L415.7 597.5L416.5 595.4L417.3 593.6L418.1 592L418.9 590.6L419.7 589.4L420.5 588.3L421.3 587.4L422.1 586.6L423 585.9L423.8 585.3L424.6 584.7L425.4 584.2L426.2 583.8L427 583.5L427.8 583.1L428.6 582.9L429.4 582.6L430.2 582.4L431 582.2L431.8 582.1L432.6 581.9L433.4 581.8L434.2 581.7L435 526.8L437 532.5L440 543.9L442.6 551.5L443.7 589.5L444.6 583.8L446.5 580L447.8 570.5L449.8 485L451.6 427.9L452.8 523L453.8 608.5L454.9 652.2L455.7 643.8L456.6 636.4L457.4 629.9L458.2 624.1L459 619.1L459.9 614.7L460.7 610.7L461.5 607.3L462.3 604.3L463.2 601.6L464 599.2L464.8 597.2L465.6 595.3L466.5 593.7L467.3 592.3L468.1 591.1L468.9 590L469.8 589L470.6 588.1L471.2 589.5L472 580L473 528.7L474.6 517.3L477 500.2L478.6 492.6L480 504L481.6 523L482.6 534.4L483.4 583.8L484.2 570.5L486 564.8L488.5 562.9L489.8 568.6L491.2 635.1L492 628.4L492.8 622.6L493.6 617.5L494.4 613.1L495.2 609.2L496 605.8L496.8 602.8L497.6 600.2L498.4 597.9L499.2 595.9L500 594.1L500.8 592.6L501.6 591.3L502.4 590.1L503.2 589.1L504 588.2L504.8 587.4L505.6 586.7L506.4 536.3L509 542L513 551.5L516.6 557.2L518.6 612.3L519.4 607.9L520.2 604.7L521.1 602.6L521.9 599.7L522.7 596.7L523.5 594.9L524.4 593.4L525.2 591.7L526 590.8L526.8 589.2L527.7 588.8L528.5 586.7L529.3 586.2L530.1 586L530.9 584.7L531.8 584.6L532.6 584.4L533.4 583.9L534.2 583.5L535.1 582.7L535.9 582.8L536.7 583.4L537.5 583.5L538.4 582L539.2 582.1L540 582.2L540.8 579.2L541.7 582.8L542.5 579.6L543.4 582.9L544.2 579.9L545 583L545.9 580L546.7 583.5L547.6 579.5L548.4 582.9L549.3 579.9L550.1 583.4L550.9 579.7L551.8 583.2L552.6 579.7L553.5 583L554.3 580.2L554.5 580L555.1 427.9L555.6 436.7L556 448.3L556.5 454.6L556.9 465.9L557.4 471.1L557.8 481L558.3 484.6L558.7 494.1L559.2 496.1L559.6 505.1L560.1 506.7L560.5 515.5L561 515.1L561.4 524.2L561.9 523.5L562.3 531.1L562.8 529.3L563.2 537.5L563.7 535.4L564.1 544.3L564.6 540.6L565 549.3L565.5 545.6L565.9 553.3L566.4 549.3L566.9 558.2L567.3 552.3L567.8 561.4L568.2 555.4L568.7 564.1L569.1 557.5L569.6 566.2L570 560.3L570.5 569L570.9 562.5L571.4 570.8L571.8 563.8L572.3 572.5L572.7 565.5L573.2 574.5L573.6 567.1L574.1 575.7L574.5 567.9L575 577.1L575.4 569L575.9 577.5L576.3 569.1L576.8 579.2L577.2 570.6L577.7 578.8L578.1 571.9L578.6 580.1L579.1 571.9L579.5 579.8L580 572.8L580.4 580.3L580.9 572.3L581.3 580.7L581.8 572.7L582.2 581.1L582.7 573.3L583.1 581.7L583.6 573.3L584 582.9L584.5 573.9L584.9 582L585.4 573.3L585.8 583L586.3 575L586.7 582.7L587.2 574.5L587.6 582.5L588.1 574.7L588.5 583.3L589 574.4L589.4 583.1L589.9 574.6L590.4 583L590.8 575.6L591.3 583.1L591.7 574.9L592.2 583.1L592.6 574.9L593.1 583.3L593.5 576L594 583.8L594.4 575.5L594.9 584.4L595.3 574.8L595.8 583.6L596.2 575.3L596.7 583.1L597.1 575.2L597.6 584.5L598 574.9L598.5 584L598.9 576L599.4 584.6L599.8 575.1L600.3 583.6L600.7 575.5L601.2 583.1L601.7 575.3L602.1 583.2L602.6 574.8L603 583.1L603.5 575L603.9 583.5L604.4 575.7L604.8 583.6L605.3 574.9L605.7 583.8L606.2 575.1L606.6 583.3L607.1 575L607.5 584.1L608 575.1L608.4 584L608.9 575.9L609.3 584.4L609.8 575.6L610.2 583.7L610.7 576.5L611.1 584.6L611.6 576.1L612 583.8L612.5 576.7L612.9 585L613.4 576L613.9 583.6L614.3 576.7L614.8 584.4L615.2 575.4L615.7 584.6L616.1 576.7L616.6 584.5L617 575.6L617.5 583.5L617.9 575.5L618.4 584.4L618.8 576.5L619.3 584.2L619.7 576.1L620.2 584.6L620.6 576.3L621.1 584.7L621.5 576L622 584L622.4 575.2L622.9 583.8L623.3 575L623.8 583.9L624.2 575.5L624.7 584.4L625.2 575.3L625.6 584.2L626.1 575.9L626.5 585L627 576.9L627.4 584.6L627.9 576.1L628.3 583.4L628.8 576.2L629.2 583.4L629.7 575.9L630.1 583.7L630.6 576L631 583.7L631.5 576L631.9 584.3L632.4 574.9L632.8 584.6L633.3 575.6L633.7 583.1L634.2 575L634.6 583.3L635.1 575.6L635.5 584.4L636 575.6L636.4 584.4L636.9 575.9L637.4 584.3L637.8 575.8L638.3 584.6L638.7 576.3L639.2 584L639.6 576.4L640.1 584.9L640.5 576.6L641 584.2L641.4 576L641.9 583.2L642.3 574.6L642.8 583.2L643.2 574.8L643.7 584.1L644.1 575.2L644.6 584.2L645 576.3L645.5 585L645.9 576.3L646.4 583.9L646.8 576.4L647.3 584.3L647.7 576.7L648.2 585.1L649 717.9L649.8 700.9L650.6 685.6L651.5 672L652.3 661.1L653.1 651.4L653.9 641.8L654.7 634.6L655.6 628.5L656.4 622.2L657.2 616.3L658 613.1L658.8 608L659.7 605.1L660.5 601.8L661.3 599.6L662.1 597.2L662.9 595L663.8 594.4L664.6 593L665.4 591L666.2 590L667 588.9L667.8 588.3L668.7 586.6L669.5 586.6L670.3 586L671.1 586.4L671.9 585.5L672.8 585.2L673.6 583.8L674.4 584.8L675.2 584L676 583.4L676.9 583.4L677.7 583L678.5 583.5L679.3 579.9L680.1 582.9L680.9 579.4L681.7 582.7L682.6 579.5L683.4 582.6L684.2 579.7L685 582.9L685.8 579.3L686.6 582.4L687.4 579.2L688.2 582.2L689 579.4L689.8 582.6L690.7 579.8L691.5 582.9L692.3 579.4L693.1 582.9L693.9 579.3L694.7 582.2L695.5 579.5L696.3 583L697.1 579.6L697.9 582.6L698.8 579.9L699.6 583L700.4 580L701.2 583L702 579.6L702.8 583.1L703.6 579.3L704.4 582.9L705.2 579.5L706.1 583L706.9 579.3L707.7 583L708.5 579.6L709.3 583.3L710.1 579.8L710.9 583.2L711.7 579.9L712.5 583L713.3 579.7L714.2 582.9L715 579.4L715.8 582.4L716.6 579.4L717.4 582.5L718.2 579.3L719 582.5L719.8 579.1L720.6 582.5L721.4 579.4L722.3 582.6L723.1 578.9L723.9 582.7L724.7 579.3L725.5 582.5L725.9 580L726.4 492.6L727.7 504L730.7 519.2L733.7 530.6L735.5 536.3L736.6 618L737.4 613.3L738.2 609.3L739 605.7L739.8 602.6L740.6 599.9L741.4 597.5L742.2 595.4L743 593.6L743.8 592L744.6 590.6L745.4 589.4L746.2 588.3L747 587.4L747.8 586.6L748.7 585.9L749.5 585.3L750.3 584.7L751.1 584.2L751.9 583.8L752.7 583.5L753.5 583.1L754.3 582.9L755.1 582.6L755.9 582.4L756.7 582.2L757.5 582.1L758.3 581.9L759.1 581.8L759.9 581.7L760.7 526.8L762.7 532.5L765.7 543.9L768.3 551.5L769.4 589.5L770.3 583.8L772.2 580L773.5 570.5L775.5 485L777.3 427.9L778.5 523L779.5 608.5L780.6 652.2L781.4 643.8L782.3 636.4L783.1 629.9L783.9 624.1L784.7 619.1L785.6 614.7L786.4 610.7L787.2 607.3L788 604.3L788.9 601.6L789.7 599.2L790.5 597.2L791.3 595.3L792.2 593.7L793 592.3L793.8 591.1L794.6 590L795.5 589L796.3 588.1L796.9 589.5L797.7 580L798.7 528.7L800.3 517.3L802.7 500.2L804.3 492.6L805.7 504L807.3 523L808.3 534.4L809.1 583.8L809.9 570.5L811.7 564.8L814.2 562.9L815.5 568.6L816.9 635.1L817.7 628.1L818.6 622L819.4 616.7L820.3 612.1L821.1 608.1L822 604.7L822.8 601.7L823.7 599.1L824.5 596.8L825.4 594.8L826.2 593.1L827.1 591.6L827.9 590.4L828.8 589.2L829.6 588.3L830.5 587.4L831.3 586.7L832.1 536.3L834.7 542L838.7 551.5L842.3 557.2L844.3 612.3L845.1 607.8L845.9 604.2L846.8 601.9L847.6 599.6L848.4 597.1L849.2 595.5L850.1 593.4L850.9 591.8L851.7 590.4L852.5 589.9L853.4 587.6L854.2 587.2L855 586.6L855.8 585.5L856.6 586.1L857.5 584.8L858.3 584.7L859.1 583.9L859.9 583.1L860.8 584.1L861.6 583.7L862.4 583.2L863.2 582.7L864.1 582.1L864.9 582.1L865.7 582.3L866.5 579.7L867.3 582.7L868.2 579.1L869 582.4L869.8 579.4L870.6 582.2L871.5 579.2L872.3 582.3L873.1 579.1L873.9 582.2L874.7 578.6L875.6 582.5L876.4 579.6L877.2 582.3L878 579.2L878.9 582.1L879.7 578.8L880.5 582.3L880.7 580L881.3 424.1L881.8 433.4L882.2 445L882.6 451.5L883.1 462.2L883.5 468L884 478L884.4 482L884.9 491.6L885.3 494.3L885.8 503.6L886.2 505.3L886.7 513L887.1 514L887.6 521.4L888 521.9L888.5 529.6L888.9 529.1L889.4 537L889.8 535.1L890.3 542.4L890.8 541.1L891.2 548.6L891.6 545.3L892.1 552.2L892.5 549.2L893 557.2L893.4 552.7L893.9 559.7L894.3 555L894.8 563.7L895.2 557.9L895.7 564.9L896.1 559.9L896.6 567.5L897 562.2L897.5 570.5L897.9 564.4L898.4 571.1L898.8 565.8L899.3 573.8L899.8 567.4L900.2 574.1L900.6 568.4L901.1 576.6L901.5 569.9L902 576.7L902.4 569.3L902.9 577.5L903.3 569.9L903.8 577.1L904.2 570.7L904.7 578.5L905.1 572.4L905.6 579.5L906 572.7L906.5 580.3L906.9 573L907.4 579.8L907.9 573.2L908.3 580.6L908.8 573.9L909.2 581.3L909.6 573.9L910.1 580.8L910.5 574.4L911 581.5L911.4 574.8L911.9 582.3L912.4 575.3L912.8 582.1L913.2 575.4L913.7 582.8L914.1 575.7L914.6 582.6L915 575.4L915.5 582.5L915.9 575.3L916.4 582.1L916.9 575.2L917.3 583.1L917.8 576.3L918.2 583L918.6 576.4L919.1 583.1L919.5 576L920 583.3L920.4 575.8L920.9 583.4L921.4 575.6L921.8 583.1L922.2 576.1L922.7 583.6L923.1 576.1L923.6 582.2L924 576.3L924.5 583.7L924.9 576.5L925.4 583L925.9 576.6L926.3 584L926.8 576.5L927.2 583.1L927.6 577L928.1 583.6L928.5 576.7L929 583.4L929.4 576.7L929.9 583.8L930.4 576.5L930.8 582.9L931.2 576.2L931.7 583.4L932.1 575.8L932.6 582.6L933 576.6L933.5 583.7L933.9 576.6L934.4 583.4L934.9 577.1L935.3 584.2L935.8 577.3L936.2 584.1L936.6 576.7L937.1 583.7L937.5 576L938 583.3L938.4 576.5L938.9 583.9L939.4 576.5L939.8 584L940.2 576.6L940.7 583.1L941.1 576.1L941.6 583.6L942 577.3L942.5 584.2L943 577.1L943.4 583.6L943.9 576L944.3 583.2L944.8 576.4L945.2 583.9L945.6 577L946.1 583.7L946.5 576.9L947 583.2L947.5 576L947.9 583L948.4 575.7L948.8 584.1L949.2 576.4L949.7 583.6L950.1 575.9L950.6 582.9L951 575.9L951.5 583.5L952 576.2L952.4 583.8L952.9 576.3L953.3 584L953.8 576.1L954.2 582.7L954.6 576.1L955.1 583.2L955.5 576.9L956 583.3L956.5 576.8L956.9 583.2L957.4 576.5L957.8 583.1L958.2 576.3L958.7 583.8L959.1 576.5L959.6 583.6L960 575.8L960.5 582.9L961 576.3L961.4 583.9L961.9 576.3L962.3 583.5L962.8 576.4L963.2 583.5L963.6 577.1L964.1 584.2L964.5 576.2L965 583.4L965.5 577.6L965.9 584.4L966.4 576.5L966.8 584.4L967.2 577.3L967.7 584L968.1 576.2L968.6 583.7L969 576.1L969.5 583.9L970 575.7L970.4 583L970.9 576L971.3 583.6L971.8 576L972.2 583.6L972.6 575.9L973.1 584.3L973.5 576.8L974 584.2L974.8 722.5L975.6 704L976.4 689.2L977.3 675.1L978.1 664.1L978.9 652.6L979.7 644.7L980.5 635.8L981.4 629.6L982.2 623.8L983 618.6L983.8 612.7L984.6 609.9L985.5 606L986.3 603.5L987.1 600.3L987.9 597.5L988.7 596.4L989.5 593.9L990.4 592.9L991.2 592L992 589.7L992.8 589.4L993.6 588.1L994.5 586.8L995.3 586.5L996.1 586.5L996.9 585.6L997.7 584.9L998.6 585.4L999.4 583.9L1000.2 584.7L1001 584.7L1001.8 583.7L1002.7 583.6L1003.5 583.9L1004.3 583.3L1005.1 579.5L1005.9 582.9L1006.7 579.6L1007.5 583.2L1008.3 579.6L1009.2 583L1010 579.7L1010.8 582.7L1011.6 579.9L1012.4 582.6L1013.2 579.2L1014 582L1014.8 579.1L1015.6 582.5L1016.4 579.2L1017.2 582.1L1018 578.9L1018.9 582L1019.7 579L1020.5 582.1L1021.3 579.3L1022.1 582.4L1022.9 579.4L1023.7 583L1024.5 579.6L1025.3 582.7L1026.1 579.5L1026.9 582.7L1027.8 579.2L1028.6 582.5L1029.4 579.4L1030.2 582.7L1031 579.1L1031.8 582.7L1032.6 579.4L1033.4 582.9L1034.2 580L1035 582.6L1035.8 579.9L1036.6 582.8L1037.5 579.2L1038.3 582.7L1039.1 579.7L1039.9 582.8L1040.7 579.6L1041.5 583.1L1042.3 579.5L1043.1 582.3L1043.9 579.2L1044.7 582L1045.5 579.5L1046.3 582.8L1047.2 579.4L1048 582.8L1048.8 579.9L1049.6 582.3L1050.4 579.1L1051.2 582.4L1051.6 580L1052.1 492.6L1053.4 504L1056.4 519.2L1059.4 530.6L1061.2 536.3L1062.3 618L1063.1 613.3L1063.9 609.3L1064.7 605.7L1065.5 602.6L1066.3 599.9L1067.1 597.5L1067.9 595.4L1068.7 593.6L1069.5 592L1070.3 590.6L1071.1 589.4L1071.9 588.3L1072.7 587.4L1073.5 586.6L1074.4 585.9L1075.2 585.3L1076 584.7L1076.8 584.2L1077.6 583.8L1078.4 583.5L1079.2 583.1L1080 582.9L1080.8 582.6L1081.6 582.4L1082.4 582.2L1083.2 582.1L1084 581.9L1084.8 581.8L1085.6 581.7L1086.4 526.8L1088.4 532.5L1091.4 543.9L1094 551.5L1095.1 589.5L1096 583.8L1097.9 580L1099.2 570.5L1101.2 485L1103 427.9L1104.2 523L1105.2 608.5L1106.3 652.2L1107.1 643.8L1108 636.4L1108.8 629.9L1109.6 624.1L1110.4 619.1L1111.3 614.7L1112.1 610.7L1112.9 607.3L1113.7 604.3L1114.6 601.6L1115.4 599.2L1116.2 597.2L1117 595.3L1117.9 593.7L1118.7 592.3L1119.5 591.1L1120.3 590L1121.2 589L1122 588.1L1122.6 589.5L1123.4 580L1124.4 528.7L1126 517.3L1128.4 500.2L1130 492.6L1131.4 504L1133 523L1134 534.4L1134.8 583.8L1135.6 570.5L1137.4 564.8L1139.9 562.9L1141.2 568.6L1142.6 635.1L1143.4 628.4L1144.2 622.6L1145 617.5L1145.8 613.1L1146.6 609.2L1147.4 605.8L1148.2 602.8L1149 600.2L1149.8 597.9L1150.6 595.9L1151.4 594.1L1152.2 592.6L1153 591.3L1153.8 590.1L1154.6 589.1L1155.4 588.2L1156.2 587.4L1157 586.7L1157.8 536.3L1160.4 542L1164.4 551.5L1168 557.2L1170 612.3L1170.8 608.5L1171.6 604.3L1172.5 601.8L1173.3 599.8L1174.1 596.9L1174.9 595.3L1175.8 592.7L1176.6 592.3L1177.4 590.5L1178.2 590L1179.1 588.7L1179.9 587.1L1180.7 586.5L1181.5 585.4L1182.3 585.9L1183.2 585L1184 585.1L1184.8 583.8L1185.6 584.4L1186.5 582.8L1187.3 583.2L1188.1 582.9L1188.9 583L1189.8 582.8L1190.6 581.9L1191.4 582L1192.2 579.4L1193.1 582.6L1193.9 579.8L1194.8 582.8L1195.6 579.7L1196.4 582.7L1197.3 579.1L1198.1 582.5L1199 579.2L1199.8 582.4L1200.7 579.5L1201.5 582.9L1202.3 579.8L1203.2 582.7L1204 579.5L1204.9 582.8L1205.7 579.6L1205.9 580L1206.5 418.4L1207 428.2L1207.4 440L1207.9 447.4L1208.3 458.3L1208.8 464.2L1209.2 473.5L1209.7 478.5L1210.1 487.8L1210.6 491.2L1211 500.2L1211.5 502.5L1211.9 510.6L1212.4 512L1212.8 519.9L1213.3 520.4L1213.7 528.2L1214.2 528.2L1214.6 534.6L1215.1 533.3L1215.5 540.8L1216 539.3L1216.4 546.4L1216.9 543.9L1217.3 551.2L1217.8 548.1L1218.2 555.2L1218.7 552L1219.1 559.2L1219.6 554.6L1220 562L1220.5 557.8L1220.9 564.8L1221.4 559.5L1221.8 567.6L1222.3 561.7L1222.8 569.2L1223.2 563.5L1223.7 570.9L1224.1 565.4L1224.6 572L1225 566.3L1225.5 573.8L1225.9 568L1226.4 574.7L1226.8 568.8L1227.3 575.3L1227.7 570.1L1228.2 576.1L1228.6 570.5L1229.1 577.4L1229.5 571L1230 578.7L1230.4 571.5L1230.9 578.5L1231.3 572.7L1231.8 579.5L1232.2 573.1L1232.7 579.7L1233.1 573.7L1233.6 581.5L1234 574.7L1234.5 581.3L1234.9 575.1L1235.4 581.9L1235.8 574.5L1236.3 582.2L1236.7 574.9L1237.2 581L1237.7 575.3L1238.1 582.3L1238.6 575.6L1239 581.8L1239.5 575.4L1239.9 582L1240.4 575.5L1240.8 582.4L1241.3 575.4L1241.7 582L1242.2 576.4L1242.6 582.2L1243.1 575.3L1243.5 582.5L1244 575.8L1244.4 582.4L1244.9 576.3L1245.3 582.1L1245.8 576.3L1246.2 582.9L1246.7 576.4L1247.1 582.8L1247.6 576L1248 583.4L1248.5 576.8L1248.9 582.2L1249.4 576.4L1249.8 583.1L1250.3 576.8L1250.7 583.2L1251.2 577.6L1251.6 583.4L1252.1 576.9L1252.5 583.1L1253 577.2L1253.5 582.8L1253.9 576.8L1254.4 583.4L1254.8 577.1L1255.3 583.1L1255.7 577L1256.2 583.3L1256.6 576.7L1257.1 583.1L1257.5 576.9L1258 582.8L1258.4 576.2L1258.9 583.4L1259.3 576.1L1259.8 583.1L1260.2 576.5L1260.7 583.1L1261.1 576.4L1261.6 582.5L1262 576.1L1262.5 582.8L1262.9 577L1263.4 582.5L1263.8 576.7L1264.3 583.2L1264.7 576L1265.2 583.1L1265.6 576.7L1266.1 583.2L1266.5 577.1L1267 583L1267.4 577.2L1267.9 583.2L1268.3 576.7L1268.8 583.2L1269.3 577.1L1269.7 584.3L1270.2 577.4L1270.6 583.9L1271.1 576.8L1271.5 582.5L1272 576.4L1272.4 583.4L1272.9 576.6L1273.3 583.6L1273.8 576.6L1274.2 583.4L1274.7 576L1275.1 582.8L1275.6 575.9L1276 582L1276.5 576.7L1276.9 582.9L1277.4 577.2L1277.8 583.6L1278.3 576.9L1278.7 582.8L1279.2 577.2L1279.6 582.4L1280.1 576.9L1280.5 582.6L1281 576.5L1281.4 582.9L1281.9 576.2L1282.3 583.1L1282.8 576.3L1283.2 582.6L1283.7 576L1284.2 582.7L1284.6 576.7L1285.1 582.8L1285.5 576.5L1286 583.5L1286.4 577.1L1286.9 583.1L1287.3 576.2L1287.8 583.5L1288.2 577.5L1288.7 583.4L1289.1 577.3L1289.6 583.2L1290 577.3L1290.5 583.7L1290.9 576.7L1291.4 584.1L1291.8 577.8L1292.3 583.5L1292.7 577.2L1293.2 583.4L1293.6 577.2L1294.1 582.8L1294.5 576.6L1295 582.7L1295.4 576.9L1295.9 583L1296.3 576.4L1296.8 583.6L1297.2 576.9L1297.7 584.1L1298.1 576.9L1298.6 583.3L1299 577.2L1299.5 583.2L1300.3 724.4L1301.1 705.6L1301.9 690.6L1302.8 677.1L1303.6 664.7L1304.4 653.6L1305.2 645.6L1306 637.6L1306.9 629.2L1307.7 623.7L1308.5 618.2L1309.3 613.9L1310.1 610.3L1311 606.1L1311.8 603.6L1312.6 600.6L1313.4 598.7L1314.2 595.6L1315 594.6L1315.9 592.6L1316.7 592L1317.5 590.2L1318.3 589.6L1319.1 589L1320 587.9L1320.8 587.6L1321.6 586.2L1322.4 585.7L1323.2 584.8L1324.1 585.7L1324.9 584.7L1325.7 583.6L1326.5 584.3L1327.3 584.5L1328.2 583.2L1329 584.1L1329.8 583L1330.6 579.3L1331.4 582.8L1332.2 579.4L1333 583.2L1333.9 579.6L1334.7 582.6L1335.5 579.6L1336.3 582.6L1337.1 579.6L1337.9 582.7L1338.7 579.5L1339.5 582.7L1340.4 578.9L1341.2 582.9L1342 579.2L1342.8 583.1L1343.6 579.5L1344.4 583L1345.2 579.5L1346 583L1346.9 579.6L1347.7 582.6L1348.5 579.8L1349.3 582.7L1350.1 579.5L1350.9 582.8L1351.7 579L1352.5 582.2L1353.3 579L1354.2 582.5L1355 579.5L1355.8 582.6L1356.6 579.3L1357.4 582.9L1358.2 579.2L1359 582.9L1359.8 579.3L1360.7 582.8L1361.5 579.3L1362.3 582.9L1363.1 579.5L1363.9 582.6L1364.7 579.3L1365.5 582.9L1366.3 579.2L1367.2 582.6L1368 579.1L1368.8 582.2L1369.6 579.2L1370.4 582.5L1371.2 579.8L1372 583.3L1372.8 579.8L1373.7 582.8L1374.5 579.5L1375.3 583L1376.1 579.3L1376.9 582.7L1377.3 580L1377.8 492.6L1379.1 504L1382.1 519.2L1385.1 530.6L1386.9 536.3L1388 618L1388.8 613.3L1389.6 609.3L1390.4 605.7L1391.2 602.6L1392 599.9L1392.8 597.5L1393.6 595.4L1394.4 593.6L1395.2 592L1396 590.6L1396.8 589.4L1397.6 588.3L1398.4 587.4L1399.2 586.6L1400.1 585.9L1400.9 585.3L1401.7 584.7L1402.5 584.2L1403.3 583.8L1404.1 583.5L1404.9 583.1L1405.7 582.9L1406.5 582.6L1407.3 582.4L1408.1 582.2L1408.9 582.1L1409.7 581.9L1410.5 581.8L1411.3 581.7L1412.1 526.8L1414.1 532.5L1417.1 543.9L1419.7 551.5L1420.8 589.5L1421.7 583.8L1423.6 580L1424.9 570.5L1426.9 485L1428.7 427.9L1429.9 523L1430.9 608.5L1432 652.2L1432.8 643.8L1433.7 636.4L1434.5 629.9L1435.3 624.1L1436.1 619.1L1437 614.7L1437.8 610.7L1438.6 607.3L1439.4 604.3L1440.3 601.6L1441.1 599.2L1441.9 597.2L1442.7 595.3L1443.6 593.7L1444.4 592.3L1445.2 591.1L1446 590L1446.9 589L1447.7 588.1L1448.3 589.5L1449.1 580L1450.1 528.7L1451.7 517.3L1454.1 500.2L1455.7 492.6L1457.1 504L1458.7 523L1459.7 534.4L1460.5 583.8L1461.3 570.5L1463.1 564.8L1465.6 562.9L1466.9 568.6L1468.3 635.1L1469.1 628.1L1470 622L1470.8 616.7L1471.7 612.1L1472.5 608.1L1473.4 604.7L1474.2 601.7L1475.1 599.1L1475.9 596.8L1476.8 594.8L1477.6 593.1L1478.5 591.6L1479.3 590.4L1480.2 589.2L1481 588.3L1481.9 587.4L1482.7 586.7L1483.5 536.3L1486.1 542L1490.1 551.5L1493.7 557.2L1495.7 612.3L1496.5 607.7L1497.3 604.2L1498.2 602.3L1499 599.3L1499.8 597L1500.6 595.3L1501.5 593.9L1502.3 592.1L1503.1 589.7L1503.9 589.4L1504.8 588.7L1505.6 588.1L1506.4 586.4L1507.2 585.5L1508 585.8L1508.9 584.5L1509.7 585.2L1510.5 584.7L1511.3 583.5L1512.2 584.1L1513 583.3L1513.8 583L1514.6 583.5L1515.5 582.1L1516.3 582.1L1517.1 581.9L1517.9 579.5L1518.7 582.6L1519.5 579.1L1520.3 582.9L1521.1 579.6L1521.9 583L1522.7 579.6L1523.5 582.9L1524.3 579.2L1525.1 582.2L1525.9 579.4L1526.7 583L1527.5 579.5L1528.3 582.6L1529.1 579.5L1529.9 582.4L1530.7 579L1531.5 582.3L1531.7 580L1532.3 395.6L1532.8 408.7L1533.2 424.5L1533.7 432.5L1534.1 447.9L1534.6 453.7L1535 467.6L1535.5 472.1L1535.9 485.2L1536.4 487.1L1536.8 500.1L1537.3 500.5L1537.7 512.7L1538.2 511.8L1538.6 523.5L1539.1 521.6L1539.5 532.8L1540 529L1540.4 539.9L1540.9 535.6L1541.3 545.5L1541.8 541.1L1542.2 551.7L1542.7 545.8L1543.1 557.4L1543.6 550.2L1544 561.7L1544.5 553.3L1544.9 565L1545.4 556.3L1545.8 567.4L1546.3 559.1L1546.7 569.9L1547.2 560.2L1547.6 573.7L1548.1 561.6L1548.5 574.5L1549 562.4L1549.4 576.5L1549.9 565.8L1550.3 578.1L1550.8 566.4L1551.2 578.9L1551.7 567L1552.1 579.8L1552.6 568.5L1553 580.3L1553.5 568.1L1553.9 580.5L1554.4 568.2L1554.8 581.4L1555.3 568.9L1555.7 583L1556.2 569.6L1556.7 584L1557.1 570.1L1557.6 583.2L1558 571.3L1558.5 584.3L1558.9 570.9L1559.4 583.7L1559.8 571.9L1560.3 583.6L1560.7 572.5L1561.2 583.8L1561.6 571.4L1562.1 584.5L1562.5 572.9L1563 584.9L1563.4 571.5L1563.9 584.3L1564.3 572.9L1564.8 585.1L1565.2 572.2L1565.7 585.3L1566.1 571.6L1566.6 584.8L1567 572.4L1567.5 583.7L1567.9 572.4L1568.4 585L1568.8 571.3L1569.3 583.9L1569.7 572.6L1570.2 584.4L1570.6 572.8L1571.1 584.7L1571.5 572.4L1572 584.3L1572.4 571.7L1572.9 585.3L1573.3 573L1573.8 585.8L1574.2 573.1L1574.7 585.5L1575.1 571.9L1575.6 584.8L1576 572.1L1576.5 584.3L1576.9 571.6L1577.4 585.8L1577.8 573.1L1578.3 584.4L1578.7 573.5L1579.2 586L1579.7 573.5L1580.1 584.3L1580.6 573.8L1581 585.1L1581.5 571.9L1581.9 584.4L1582.4 572.6L1582.8 586.1L1583.3 573.6L1583.7 585L1584.2 573.9L1584.6 585.5L1585.1 573.8L1585.5 585.2L1586 573L1586.4 584.7L1586.9 572.1L1587.3 585L1587.8 574L1588.2 584.3L1588.7 573.2L1589.1 586.1L1589.6 572.9L1590 585L1590.5 573.7L1590.9 585.5L1591.4 573L1591.8 585.5L1592.3 573.5L1592.7 584.6L1593.2 572.6L1593.6 585.3L1594.1 573.6L1594.5 584.5L1595 572.3L1595.4 584.7L1595.9 572L1596.3 584.4L1596.8 572.3L1597.2 584.1L1597.7 572L1598.1 583.7L1598.6 571.9L1599 584.9L1599.5 573.2L1599.9 584.6L1600.4 573.6L1600.8 584.6L1601.3 572.1L1601.7 584.7L1602.2 571.7L1602.6 583.8L1603.1 572.2L1603.6 585.6L1604 572L1604.5 584.7L1604.9 573.5L1605.4 586.2L1605.8 572.4L1606.3 585.7L1606.7 572.9L1607.2 584.9L1607.6 572.5L1608.1 584.4L1608.5 571.9L1609 584.5L1609.4 572.1L1609.9 585.2L1610.3 571.7L1610.8 585.7L1611.2 573.8L1611.7 584.6L1612.1 572.3L1612.6 585.7L1613 572.7L1613.5 584.4L1613.9 572.8L1614.4 584.7L1614.8 572.8L1615.3 585.2L1615.7 572.7L1616.2 585.1L1616.6 572.5L1617.1 585.6L1617.5 573.4L1618 585.6L1618.4 572.2L1618.9 585L1619.3 572.4L1619.8 584.3L1620.2 574.2L1620.7 585.3L1621.1 572L1621.6 585.4L1622 573.6L1622.5 585.5L1622.9 573.2L1623.4 585.5L1623.8 573.2L1624.3 585.8L1624.7 572.7L1625.2 585.9L1625.6 572.6L1626.1 585.2L1626.5 573.3L1627 584.7" stroke="#00ffff" stroke-width="2.15"/>
<path d="M86.5 562.9L87.6 569L88.6 572.6L89.7 574.7L90.8 575.9L91.8 576.6L92.9 577.1L93.9 577.3L95 577.5L96 578.3L97 576.5L98 576.8L99 578.5L100 578.1L101 578L102 576.2L103 577.7L104 577.2L105 576.2L106 577.9L107 576.2L108 578.2L109 579.1L110 578.8L111 577L112 578L113.1 576.6L114.1 577.5L115.1 577L116.1 578.1L117.1 577.4L118.1 577L119.1 578L120.1 577.7L121.1 576.6L122.1 576.4L123.1 578.1L124.1 579L125.1 576.6L126.1 577.8L127.1 576.3L128.1 576.9L129.1 578.1L130.1 576.6L131.1 577.6L132.1 577.1L133.1 576.6L134.1 577.5L135.1 576.4L136.1 578.1L137.1 578.1L138.1 577.3L139.1 578.1L140.1 577.1L141.1 577.7L142.1 577.1L143.1 576.8L144.1 577.6L145.1 576.6L146.1 577L147.1 576.7L148.1 579.3L149.2 579.3L150.2 577.4L151.2 578.4L152.2 576.7L153.2 578.2L154.2 577.1L155.2 578.7L156.2 577.5L157.2 576.7L158.2 576.8L159.2 578.3L160.2 578L161.2 577.8L162.2 578.4L163.2 578L164.2 576.5L165.2 576.8L166.2 578.5L167.2 577.4L168.2 576.6L169.2 578.4L170.2 576.9L171.2 577.1L172.2 576.8L173.2 579.3L174.2 576.7L175.2 576.6L176.2 578.8L177.2 577.6L178.2 579.3L179.2 577.7L180.2 577.4L181.2 577.3L182.2 577L183.2 578.7L184.2 579.2L185.3 577.1L186.3 579.5L187.3 578.9L188.3 578.9L189.3 577.3L190.3 578.3L191.3 577.1L192.3 577.6L193.3 577.1L194.3 577.3L195.3 577L196.3 578.8L197.3 578.6L198.3 577.8L199.3 577.9L200.3 577.3L201.3 577.3L202.3 578.8L203.3 579.4L204.3 577.5L205.3 577.7L206.3 578.9L207.3 579.6L208.3 579.7L209.3 579L210.3 578.9L211.3 579.2L212.3 579.6L213.3 579.3L214.3 578.7L215.3 579.5L216.3 579.2L217.3 578.5L218.3 577.3L219.3 577.2L220.3 578.6L221.4 579.5L222.4 579L223.4 577.8L224.4 578.6L225.4 578.1L226.4 577.6L227.4 577.9L228.4 577.3L229.4 579.6L230.4 579L231.4 579.8L232.4 578.3L233.4 578.1L234.4 579.2L235.4 579.8L236.4 578.5L237.4 579.5L238.4 579.4" stroke="#ff00ff" stroke-width="1.2"/>
<path d="M238.4 579.4L240.7 578.1L240.9 578.1L241.9 553.6L242.9 532.6L243.9 514.7L244.9 499.3L246 486.2L247 475L248 465.4L249 457.3L250 450.1L251 444L252 438.9L253 434.2L254 430.2L255.1 427.1L256.1 424.3L257.1 421.9L258.1 420L259.1 418.3L260.1 416.9L261.1 415.3L262.1 414.5L263.1 413.1L264.2 412.5L265.2 411.9L266.2 411.7L267.2 410.6L268.2 409.8L269.2 409.9L270.2 409.4L271.2 409.2L272.2 408.8L273.3 408.7L274.3 408L275.3 408.1L276.3 407.6L277.3 407.7L278.3 407.4L279.3 407.4L280.3 407.3L281.3 407.1L282.4 406.9L283.4 407.3L284.4 407.7L285.4 407L286.4 407.2L287.4 407.2L288.4 407.3L289.4 407L290.4 406.4L291.5 406.5L292.5 406.6L293.5 406.7L294.5 407.1L295.5 407.4L296.5 407.6L297.5 407.6L298.5 406.8L299.5 407L300.6 406.8L301.6 407L302.6 407.3L303.6 406.7L304.6 406.9L305.6 407.1L306.6 406.5L307.6 406.7L308.6 406.8L309.7 406.1L310.7 406.3L311.7 405.9L312.7 406L313.7 405.8L314.7 405.9L315.7 406L316.7 405.4L317.7 404.9L318.8 405.3L319.8 405L320.8 405.4L321.8 405.5L322.8 405.9L324.4 410.8L325.4 425.8L326.4 439.4L327.4 451.6L328.4 462.7L329.4 472.7L330.5 481.7L331.5 489.9L332.5 497.3L333.5 504L334.5 510.1L335.5 515.5L336.5 520.5L337.5 524.9L338.5 529L339.5 532.6L340.5 535.9L341.5 538.9L342.6 541.6L343.6 544L344.6 546.3L345.6 548.2L346.6 550.1L347.6 551.7L348.6 553.2L349.6 554.5L350.6 555.7L351.6 556.8L352.6 557.8L353.6 558.7L354.7 559.5L355.7 560.2L356.7 560.8L357.7 561.4L358.7 562L359.7 562.5L360.7 562.9L361.7 563.3L362.7 563.7L363.7 564L364.7 564.3L365.7 564.5L366.8 564.8L367.8 565L368.8 565.2L369.8 565.4L370.8 565.5L371.8 565.7L372.8 565.8L376.1 566.2L379.5 566.5L382.8 566.8L386.1 567.2L389.5 567.5L392.8 567.9L396.2 568.2L399.5 568.6L400.4 568.6L402 559.1L404 538.2L406 521.1L408 506.8L409.4 498.3L410.2 496L411 499.2L412 504.8L413.1 510L414.1 514.8L415.1 519.2L416.1 523.2L417.2 526.9L418.2 530.4L419.2 533.5L420.2 536.5L421.3 539.1L422.3 541.6L423.3 543.9L424.4 546L425.4 547.9L426.4 549.7L427.4 551.3L428.5 552.8L429.5 554.2L430.5 555.5L431.5 556.7L432.6 557.8L433.6 558.8L436 547.7L439 528.7L441.5 516.3L443.7 509.7L445.5 509.3L447.4 505.9L449 483.1L451 454.6L453 427.9L454.7 418.4L455.5 422.2L456.5 435.8L457.5 448L458.5 459L459.5 468.8L460.5 477.7L461.5 485.7L462.5 492.9L463.6 499.3L464.6 505.2L465.6 510.4L466.6 515.1L467.6 519.3L468.6 523.1L469.6 526.5L470.6 529.6L471.6 532.4L474.6 537.2L477.2 524.9L479.2 504L480.8 485L482.2 466L483.2 457.4L485.4 455.5L487.6 453.6L489.9 450.2L490.8 452.7L491.8 461.8L492.9 470.1L493.9 477.7L494.9 484.6L495.9 490.9L497 496.7L498 501.9L499 506.6L500 511L501.1 514.9L502.1 518.5L503.1 521.8L504.1 524.8L505.2 527.5L506.2 530L508 525.8L510.5 517.3L513 506.8L515.4 498.3L516.8 496.4L517.6 498.3L518.6 505.2L519.6 511.4L520.7 516.9L521.7 521.8L522.7 526.1L523.7 529.9L524.7 533.3L525.7 536.3L526.8 539L527.8 541.4L528.8 543.5L529.8 545.3L530.8 547L531.9 548.5L532.9 549.8L533.9 550.9L534.9 552L535.9 552.9L536.9 553.7L538 554.4L539 555L540 555.6L542 556.4L544.1 557.1L546.1 557.9L548.1 558.7L550.1 559.4L552.2 560.2L554.2 561L555.7 561L556.7 535.3L557.7 513.3L558.7 494.4L559.7 478.2L560.7 464.4L561.8 452.6L562.8 442.6L563.8 433.9L564.8 426.3L565.8 420L566.8 414.4L567.8 409.5L568.8 405.3L569.8 401.8L570.8 398.8L571.8 396.5L572.8 394.2L573.9 392.4L574.9 390.7L575.9 389.6L576.9 388L577.9 387.4L578.9 386.3L579.9 385.2L580.9 385L581.9 384.1L582.9 383.5L583.9 383.1L585 383.1L586 383L587 383L588 382.8L589 382.4L590 382L591 381.6L592 381.7L593 381.7L594 381.4L595 380.8L596 381.1L597.1 381.1L598.1 381.3L599.1 380.7L600.1 381.2L601.1 380.7L602.1 380.4L603.1 380.6L604.1 380.4L605.1 380.6L606.1 380.4L607.1 380.5L608.2 380.1L609.2 380.1L610.2 379.9L611.2 379.8L612.2 380L613.2 379.6L614.2 380L615.2 379.6L616.2 379.2L617.2 378.9L618.2 379L619.2 379L620.3 378.7L621.3 379L622.3 378.8L623.3 378.6L624.3 378.4L625.3 378.7L626.3 378.7L627.3 379.3L628.3 379.8L629.3 380.1L630.3 379.8L631.4 379.9L632.4 379.4L633.4 379.9L634.4 380.1L635.4 379.7L636.4 379.7L637.4 379.9L638.4 379.6L639.4 379.8L640.4 379.2L641.4 379.4L642.4 379L643.5 379L644.5 378.6L645.5 378.9L646.5 378.5L647.5 378.7L648.5 378.8L650.1 384.8L651.1 402.3L652.1 418.1L653.1 432.4L654.1 445.3L655.1 457L656.1 467.5L657.2 477.1L658.2 485.7L659.2 493.5L660.2 500.6L661.2 506.9L662.2 512.7L663.2 517.9L664.2 522.6L665.2 526.9L666.2 530.7L667.2 534.2L668.2 537.4L669.3 540.2L670.3 542.8L671.3 545.1L672.3 547.2L673.3 549.1L674.3 550.8L675.3 552.4L676.3 553.8L677.3 555.1L678.3 556.2L679.3 557.3L680.4 558.2L681.4 559L682.4 559.8L683.4 560.5L684.4 561.1L685.4 561.7L686.4 562.2L687.4 562.7L688.4 563.1L689.4 563.5L690.4 563.8L691.4 564.1L692.5 564.4L693.5 564.7L694.5 564.9L695.5 565.1L696.5 565.3L697.5 565.5L698.5 565.6L701.8 566L705.2 566.3L708.5 566.7L711.9 567.1L715.2 567.5L718.5 567.8L721.9 568.2L725.2 568.6L726.1 568.6L727.7 558.1L729.7 536.3L731.7 518.4L733.7 503.5L735.1 494.6L735.9 492.2L736.7 495.6L737.7 501.5L738.8 506.9L739.8 511.9L740.8 516.6L741.8 520.8L742.9 524.7L743.9 528.3L744.9 531.7L745.9 534.7L747 537.5L748 540.1L749 542.5L750.1 544.7L751.1 546.8L752.1 548.6L753.1 550.4L754.2 551.9L755.2 553.4L756.2 554.8L757.2 556L758.3 557.1L759.3 558.2L761.7 546.4L764.7 526.6L767.2 513.8L769.4 506.8L771.2 506.5L773.1 502.9L774.7 482.2L776.7 453.4L778.7 426.6L780.4 417L781.2 420.8L782.2 434.5L783.2 446.9L784.2 457.9L785.2 467.9L786.2 476.9L787.2 485L788.2 492.2L789.2 498.7L790.3 504.6L791.3 509.9L792.3 514.6L793.3 518.9L794.3 522.8L795.3 526.2L796.3 529.3L797.3 532.1L800.3 536.5L802.9 523.9L804.9 502.7L806.5 483.3L807.9 464L808.9 455.3L811.1 453.4L813.3 451.5L815.6 448L816.5 450.5L817.5 459.8L818.6 468.3L819.6 476.1L820.6 483.1L821.6 489.6L822.7 495.4L823.7 500.7L824.7 505.6L825.7 510L826.8 514.1L827.8 517.7L828.8 521.1L829.8 524.1L830.9 526.9L831.9 529.4L833.7 525.8L836.2 517.3L838.7 506.8L841.1 498.3L842.5 496.4L843.3 498.3L844.3 505.2L845.3 511.4L846.4 516.9L847.4 521.8L848.4 526.1L849.4 529.9L850.4 533.3L851.4 536.3L852.5 539L853.5 541.4L854.5 543.5L855.5 545.3L856.5 547L857.6 548.5L858.6 549.8L859.6 550.9L860.6 552L861.6 552.9L862.6 553.7L863.7 554.4L864.7 555L865.7 555.6L867.8 556.4L869.9 557.1L872 557.9L874.1 558.7L876.2 559.4L878.3 560.2L880.4 561L881.9 561L882.9 534.2L883.9 511.3L884.9 491.6L885.9 474.7L886.9 460.3L887.9 448.1L888.9 437.4L889.9 428.3L890.9 420.4L891.9 413.8L892.9 407.8L894 403L895 398.6L896 395.2L897 392L898 389L899 387L900 384.9L901 383.4L902 382.3L903 381.1L904 379.8L905 379.1L906 377.8L907 377.7L908 377.3L909 376.8L910 376.4L911 376.1L912 376.2L913 376L914 375.8L915 375.2L916 375L917.1 374.5L918.1 374.3L919.1 374.2L920.1 374.3L921.1 374.4L922.1 373.7L923.1 373.6L924.1 373.6L925.1 373.8L926.1 373.2L927.1 372.9L928.1 372.6L929.1 372.3L930.1 372.6L931.1 372.3L932.1 372.7L933.1 372.5L934.1 372.6L935.1 372.4L936.1 372.6L937.1 372.7L938.1 372.4L939.1 371.9L940.2 372.1L941.2 372.4L942.2 372.7L943.2 372.4L944.2 371.9L945.2 372.4L946.2 372.5L947.2 372.7L948.2 372.1L949.2 372.4L950.2 372.7L951.2 372.3L952.2 371.7L953.2 371.4L954.2 371.8L955.2 371.8L956.2 371.7L957.2 371.3L958.2 371L959.2 371.5L960.2 371.5L961.2 371.2L962.2 371.1L963.3 371L964.3 370.5L965.3 370.1L966.3 369.9L967.3 370L968.3 370.3L969.3 370.8L970.3 371.1L971.3 370.9L972.3 370.6L973.3 370.3L974.3 369.9L975.9 376.6L976.9 394.9L977.9 411.4L978.9 426.3L979.9 439.8L980.9 452L981.9 463.1L983 473L984 482.1L985 490.2L986 497.6L987 504.2L988 510.3L989 515.7L990 520.6L991 525.1L992 529.1L993 532.8L994 536L995.1 539L996.1 541.7L997.1 544.1L998.1 546.3L999.1 548.3L1000.1 550.1L1001.1 551.7L1002.1 553.2L1003.1 554.5L1004.1 555.7L1005.1 556.8L1006.1 557.8L1007.2 558.7L1008.2 559.5L1009.2 560.2L1010.2 560.9L1011.2 561.5L1012.2 562L1013.2 562.5L1014.2 562.9L1015.2 563.3L1016.2 563.7L1017.2 564L1018.2 564.3L1019.3 564.6L1020.3 564.8L1021.3 565L1022.3 565.2L1023.3 565.4L1024.3 565.5L1027.6 565.9L1031 566.3L1034.3 566.7L1037.6 567.1L1040.9 567.4L1044.2 567.8L1047.6 568.2L1050.9 568.6L1051.8 568.6L1053.4 557.2L1055.4 534.4L1057.4 515.8L1059.4 500.2L1060.8 490.9L1061.6 488.4L1062.4 491.9L1063.4 498.1L1064.5 503.8L1065.5 509.1L1066.5 513.9L1067.5 518.4L1068.6 522.5L1069.6 526.3L1070.6 529.8L1071.6 533L1072.7 535.9L1073.7 538.7L1074.7 541.2L1075.8 543.5L1076.8 545.6L1077.8 547.6L1078.8 549.4L1079.9 551L1080.9 552.6L1081.9 554L1082.9 555.3L1084 556.5L1085 557.6L1087.4 545.1L1090.4 524.6L1092.9 511.2L1095.1 504L1096.9 503.6L1098.8 499.9L1100.4 481.3L1102.4 452.3L1104.4 425.2L1106.1 415.5L1106.9 419.4L1107.9 433.3L1108.9 445.7L1109.9 456.9L1110.9 467L1111.9 476L1112.9 484.2L1113.9 491.5L1115 498.1L1116 504.1L1117 509.4L1118 514.2L1119 518.5L1120 522.4L1121 525.9L1122 529L1123 531.9L1126 535.8L1128.6 523L1130.6 501.4L1132.2 481.7L1133.6 462.1L1134.6 453.2L1136.8 451.3L1139 449.3L1141.3 445.8L1142.2 448.3L1143.2 457.9L1144.3 466.5L1145.3 474.4L1146.3 481.6L1147.3 488.2L1148.4 494.2L1149.4 499.6L1150.4 504.6L1151.4 509.1L1152.5 513.2L1153.5 517L1154.5 520.4L1155.5 523.5L1156.6 526.3L1157.6 528.9L1159.4 525.8L1161.9 517.3L1164.4 506.8L1166.8 498.3L1168.2 496.4L1169 498.3L1170 505.2L1171 511.4L1172.1 516.9L1173.1 521.8L1174.1 526.1L1175.1 529.9L1176.1 533.3L1177.1 536.3L1178.2 539L1179.2 541.4L1180.2 543.5L1181.2 545.3L1182.2 547L1183.3 548.5L1184.3 549.8L1185.3 550.9L1186.3 552L1187.3 552.9L1188.3 553.7L1189.4 554.4L1190.4 555L1191.4 555.6L1193.4 556.4L1195.5 557.1L1197.5 557.9L1199.5 558.7L1201.5 559.4L1203.6 560.2L1205.6 561L1207.1 561L1208.1 533L1209.1 509L1210.1 488.6L1211.1 471L1212.1 455.8L1213.1 442.8L1214.2 431.8L1215.2 422.4L1216.2 414.2L1217.2 407.1L1218.2 401L1219.2 396L1220.2 391.7L1221.2 387.9L1222.2 384.4L1223.2 381.9L1224.2 379.6L1225.2 377.9L1226.2 376.5L1227.3 375.1L1228.3 373.5L1229.3 372.2L1230.3 371.2L1231.3 370.5L1232.3 370L1233.3 369L1234.3 368.5L1235.3 368.4L1236.3 367.8L1237.3 366.9L1238.3 367.1L1239.3 366.3L1240.4 366.5L1241.4 366.4L1242.4 365.7L1243.4 365.1L1244.4 365.4L1245.4 365.1L1246.4 364.9L1247.4 365L1248.4 364.6L1249.4 364.5L1250.4 364.8L1251.4 364.8L1252.4 364.5L1253.5 364.4L1254.5 364.3L1255.5 364.1L1256.5 364.5L1257.5 365L1258.5 365.3L1259.5 365L1260.5 365L1261.5 364.5L1262.5 364L1263.5 364.4L1264.5 364.5L1265.5 364.5L1266.5 364.4L1267.6 363.9L1268.6 363.8L1269.6 364L1270.6 363.8L1271.6 364L1272.6 363.9L1273.6 364.3L1274.6 364.1L1275.6 364.1L1276.6 363.8L1277.6 363.7L1278.6 363.6L1279.6 363.4L1280.7 363.8L1281.7 363.4L1282.7 363.3L1283.7 363.1L1284.7 363.3L1285.7 363.7L1286.7 363.2L1287.7 362.8L1288.7 362.4L1289.7 362.6L1290.7 362.2L1291.7 362L1292.7 362.1L1293.8 361.8L1294.8 361.7L1295.8 362.2L1296.8 362.7L1297.8 362.8L1298.8 362.8L1299.8 362.6L1301.4 368.7L1302.4 387.7L1303.4 404.9L1304.4 420.4L1305.4 434.5L1306.4 447.2L1307.4 458.7L1308.5 469.1L1309.5 478.5L1310.5 487L1311.5 494.7L1312.5 501.6L1313.5 507.9L1314.5 513.6L1315.5 518.7L1316.5 523.3L1317.5 527.5L1318.5 531.3L1319.5 534.7L1320.6 537.8L1321.6 540.6L1322.6 543.2L1323.6 545.5L1324.6 547.5L1325.6 549.4L1326.6 551.1L1327.6 552.6L1328.6 554L1329.6 555.3L1330.6 556.4L1331.6 557.4L1332.7 558.3L1333.7 559.2L1334.7 559.9L1335.7 560.6L1336.7 561.2L1337.7 561.8L1338.7 562.3L1339.7 562.7L1340.7 563.2L1341.7 563.5L1342.7 563.9L1343.8 564.2L1344.8 564.4L1345.8 564.7L1346.8 564.9L1347.8 565.1L1348.8 565.3L1349.8 565.5L1353.1 565.9L1356.5 566.2L1359.8 566.6L1363.2 567L1366.5 567.4L1369.9 567.8L1373.2 568.2L1376.6 568.6L1377.5 568.6L1379.1 556.2L1381.1 532.5L1383.1 513.1L1385.1 496.9L1386.5 487.2L1387.3 484.6L1388.1 488.3L1389.1 494.8L1390.2 500.8L1391.2 506.3L1392.2 511.3L1393.2 516L1394.3 520.3L1395.3 524.2L1396.3 527.9L1397.3 531.3L1398.4 534.3L1399.4 537.2L1400.4 539.8L1401.5 542.2L1402.5 544.5L1403.5 546.5L1404.5 548.4L1405.6 550.1L1406.6 551.7L1407.6 553.2L1408.6 554.6L1409.7 555.8L1410.7 557L1413.1 543.8L1416.1 522.5L1418.6 508.7L1420.8 501.2L1422.6 500.8L1424.5 497L1426.1 480.4L1428.1 451.2L1430.1 423.8L1431.8 414.1L1432.6 418L1433.6 432L1434.6 444.6L1435.6 455.9L1436.6 466.1L1437.6 475.2L1438.6 483.4L1439.6 490.9L1440.6 497.5L1441.7 503.5L1442.7 508.9L1443.7 513.8L1444.7 518.1L1445.7 522L1446.7 525.6L1447.7 528.7L1448.7 531.6L1451.7 535L1454.3 522L1456.3 500.1L1457.9 480.1L1459.3 460.1L1460.3 451.2L1462.5 449.2L1464.7 447.2L1467 443.6L1467.9 446.2L1468.9 455.9L1470 464.7L1471 472.8L1472 480.2L1473 486.8L1474.1 492.9L1475.1 498.5L1476.1 503.6L1477.1 508.2L1478.2 512.4L1479.2 516.2L1480.2 519.7L1481.2 522.8L1482.3 525.7L1483.3 528.4L1485.1 525.8L1487.6 517.3L1490.1 506.8L1492.5 498.3L1493.9 496.4L1494.7 498.3L1495.7 505.2L1496.7 511.4L1497.8 516.9L1498.8 521.8L1499.8 526.1L1500.8 529.9L1501.8 533.3L1502.8 536.3L1503.9 539L1504.9 541.4L1505.9 543.5L1506.9 545.3L1507.9 547L1509 548.5L1510 549.8L1511 550.9L1512 552L1513 552.9L1514 553.7L1515.1 554.4L1516.1 555L1517.1 555.6L1519.1 556.4L1521.2 557.1L1523.2 557.9L1525.3 558.7L1527.3 559.4L1529.4 560.2L1531.4 561L1532.9 561L1533.9 525.5L1534.9 495L1535.9 468.9L1536.9 446.6L1537.9 427.4L1538.9 410.9L1539.9 396.8L1540.9 384.9L1541.9 374.5L1542.9 365.8L1543.9 358.2L1545 351.4L1546 346L1547 341.1L1548 337L1549 333.1L1550 329.9L1551 327.7L1552 325.3L1553 323.1L1554 321.7L1555 320.2L1556 319.2L1557 318.5L1558 317.8L1559 317.1L1560 315.9L1561 315.6L1562 315.2L1563 314.7L1564 314.1L1565 313.3L1566 313L1567 312.4L1568 312.7L1569.1 312.4L1570.1 312.6L1571.1 312.1L1572.1 311.9L1573.1 312.2L1574.1 311.8L1575.1 311.7L1576.1 311.7L1577.1 312.1L1578.1 311.5L1579.1 311.5L1580.1 311.1L1581.1 311.5L1582.1 311.3L1583.1 311.4L1584.1 311.3L1585.1 311.2L1586.1 310.8L1587.1 310.4L1588.1 310.8L1589.1 310.5L1590.1 310.9L1591.1 311.4L1592.2 311.5L1593.2 311.6L1594.2 311.2L1595.2 311.1L1596.2 311.1L1597.2 310.8L1598.2 310.3L1599.2 310.2L1600.2 310.1L1601.2 309.8L1602.2 310.1L1603.2 309.6L1604.2 310.1L1605.2 310.6L1606.2 310.2L1607.2 310.6L1608.2 310.7L1609.2 310.6L1610.2 310.9L1611.2 310.9L1612.2 310.9L1613.2 311.2L1614.2 310.9L1615.2 310.8L1616.3 311.1L1617.3 310.6L1618.3 310.6L1619.3 310.9L1620.3 310.4L1621.3 310.4L1622.3 310.7L1623.3 310.8L1624.3 310.9L1625.3 311.1L1626.3 311.1L1627.3 311.2" stroke="#ff00ff" stroke-width="2.15"/>
<path d="M86.5 576.2L87.6 577.5L88.7 578.3L89.8 578.8L90.8 579L91.9 579.2L93 579.3L94 580.8L95 580.5L96 580.7L97 579.6L98 578.9L99 578.2L100 579.6L101 580.3L102 578L103 578L104 577.8L105 580.7L106 579L107 578.9L108 579.2L109 580.3L110 578L111 579.2L112.1 580.7L113.1 579.8L114.1 578.6L115.1 580.2L116.1 578.5L117.1 580.2L118.1 579.5L119.1 580L120.1 580.5L121.1 578.2L122.1 579.8L123.1 578.6L124.1 578.1L125.1 580L126.1 580.8L127.1 579.3L128.1 580.2L129.1 578.2L130.1 580.4L131.1 578.7L132.1 580.8L133.1 580.1L134.1 580.3L135.1 578.3L136.1 579.1L137.1 578.9L138.1 580.6L139.1 580L140.1 578.2L141.1 579L142.1 578.6L143.1 579.4L144.1 580.3L145.1 578.1L146.1 580.1L147.1 580.4L148.2 578.9L149.2 580.7L150.2 578.6L151.2 578.8L152.2 579.8L153.2 579.4L154.2 579.4L155.2 580.7L156.2 580.7L157.2 579.9L158.2 580.9L159.2 580.4L160.2 579.8L161.2 579L162.2 579.4L163.2 580.4L164.2 578.6L165.2 578.5L166.2 578.9L167.2 578.9L168.2 580.2L169.2 578.4L170.2 579.2L171.2 580.4L172.2 578.9L173.2 579.1L174.2 579.2L175.2 579.5L176.2 578.6L177.2 578.8L178.2 579.2L179.2 580.8L180.2 580.3L181.2 578L182.2 579.8L183.2 579.1L184.2 580.6L185.3 579.3L186.3 579.1L187.3 578.7L188.3 578.1L189.3 579.6L190.3 580.1L191.3 580.5L192.3 580L193.3 579.7L194.3 578.1L195.3 579.5L196.3 579L197.3 578.8L198.3 581L199.3 580.3L200.3 579.4L201.3 580.9L202.3 580.6L203.3 578.7L204.3 579L205.3 580.6L206.3 580.7L207.3 578.5L208.3 579.6L209.3 580.1L210.3 578.9L211.3 579L212.3 578L213.3 580.7L214.3 578.7L215.3 579.7L216.3 580.3L217.3 579.5L218.3 581L219.3 580.7L220.3 580.7L221.4 579L222.4 578.9L223.4 580.3L224.4 580.1L225.4 578.7L226.4 579.9L227.4 580L228.4 578.2L229.4 579.4L230.4 579.5L231.4 579.2L232.4 581L233.4 579.9L234.4 578.7L235.4 579.1L236.4 578.4L237.4 580.2L238.4 579.7" stroke="#0000ff" stroke-width="1.4"/>
<path d="M238.4 579.7L239.4 580.4L239.4 580.4L240.2 585.7L240.8 580.9L241.8 576.7L242.8 573.1L243.8 570L244.8 567.2L245.8 564.8L246.9 562.7L247.9 560.9L248.9 559.3L249.9 557.9L250.9 556.7L251.9 555.7L252.9 554.8L253.9 554L254.9 553.2L255.9 552.5L256.9 552.1L257.9 551.6L259 551.4L260 551L261 550.5L262 550.2L263 550.1L264 550L265 549.9L266 549.6L267 549.4L268 549.2L269 549.2L270.1 549.1L271.1 549.1L272.1 548.9L273.1 548.7L274.1 548.8L275.1 548.8L276.1 548.7L277.1 548.7L278.1 548.8L279.1 548.9L280.1 548.8L281.1 548.9L282.2 548.8L283.2 548.7L284.2 548.8L285.2 548.6L286.2 548.6L287.2 548.6L288.2 548.6L289.2 548.6L290.2 548.4L291.2 548.4L292.2 548.4L293.2 548.5L294.3 548.5L295.3 548.3L296.3 548.2L297.3 548.4L298.3 548.4L299.3 548.4L300.3 548.4L301.3 548.5L302.3 548.6L303.3 548.5L304.3 548.4L305.4 548.3L306.4 548.3L307.4 548.2L308.4 548.4L309.4 548.5L310.4 548.5L311.4 548.5L312.4 548.5L313.4 548.5L314.4 548.5L315.4 548.6L316.4 548.4L317.5 548.3L318.5 548.2L319.5 548.3L320.5 548.3L321.5 548.2L322.5 548.2L323 542.5L323.5 552L324.5 554.9L325.5 557.5L326.5 559.8L327.5 562L328.5 564L329.5 565.8L330.5 567.4L331.5 568.9L332.5 570.3L333.5 571.5L334.5 572.7L335.5 573.7L336.5 574.7L337.5 575.6L338.5 576.4L339.5 577.1L340.5 577.7L341.5 578.4L342.5 578.9L343.5 579.4L344.5 579.9L345.5 580.3L346.5 580.5L347.5 580.5L348.5 580.5L349.5 580.5L350.5 580.5L351.5 580.5L352.5 580.5L353.5 580.5L354.5 580.5L355.5 580.5L356.5 580.5L357.5 580.2L358.5 580.2L359.5 579.6L360.5 580.2L361.5 581.3L362.5 580.5L363.5 579.7L364.5 581.2L365.5 581.4L366.5 581.4L367.5 581.4L368.5 581.2L369.5 580L370.5 580.3L371.5 580.1L372.5 580.4L373.5 580.8L374.5 580L375.5 581.2L376.5 580.8L377.5 580.7L378.5 580.2L379.5 580L380.5 580.4L381.5 580.3L382.5 581L383.5 580.4L384.5 579.9L385.5 580.7L386.5 580.1L387.5 580.5L388.5 580.5L389.5 580.3L390.5 581.2L391.5 581.1L392.5 581.2L393.5 580.5L394.5 580.2L395.5 580.1L396.5 581.1L397.5 580.9L398.5 581.2L399.5 580.2L401 580.5L403 576.2L405.5 571.4L408 567.4L409.7 565.7L411 567L412 568.8L413.1 570.3L414.1 571.7L415.1 572.9L416.2 573.9L417.2 574.8L418.3 575.7L419.3 576.4L420.3 577L421.4 577.5L422.4 578L423.4 578.4L424.5 578.8L425.5 579.1L426.5 579.4L427.6 579.7L428.6 579.9L429.7 580.1L430.7 580.3L431.7 580.4L432.8 580.5L433.8 580.7L436 579L439 575.2L442.6 572L445.5 571.6L448 570.5L450 563.8L452 556.2L454.2 550.9L455.2 552.4L456.2 555.9L457.3 558.9L458.3 561.6L459.4 564L460.4 566L461.4 567.9L462.5 569.5L463.5 570.9L464.6 572.1L465.6 573.2L466.7 574.1L467.7 574.9L468.7 575.7L469.8 576.3L470.8 576.9L471.9 577.4L472.9 577.8L475 576.2L478 568.6L481 561.9L483.3 559.1L486.5 559.4L490.4 557.5L491.5 559.1L492.5 562.1L493.6 564.7L494.6 566.9L495.6 568.8L496.7 570.5L497.7 571.9L498.7 573.1L499.8 574.2L500.8 575.1L501.8 575.9L502.9 576.6L503.9 577.2L504.9 577.7L506 578.2L507 578.5L509 576.2L512 572.4L515 568.9L516.8 567.8L518 568.9L519 570.5L520 571.8L521 573L522 574L523 574.9L524 575.6L525 576.3L526 576.9L527 577.4L528 577.9L529 578.3L530 578.7L531 579L532 579.2L533 579.5L534 579.7L535 579.8L536 580L537 580.5L538 580.6L539 579.2L540 580.2L541 579.2L542 580.5L543 580.8L544 579.8L545 579.5L546.1 580.9L547.1 579.6L548.1 580.2L549.1 579.6L550.1 579.6L551.1 580.6L552.1 579.6L553.1 581.1L554.1 580.6L554.2 580.1L555 585.7L555.6 580.9L556.6 576L557.6 571.7L558.6 567.9L559.6 564.7L560.6 561.8L561.6 559.4L562.6 557.2L563.7 555.3L564.7 553.7L565.7 552.3L566.7 551L567.7 549.9L568.7 548.9L569.7 548L570.7 547.3L571.7 546.8L572.7 546.3L573.7 545.7L574.7 545.3L575.7 544.8L576.7 544.4L577.7 544.2L578.8 543.9L579.8 543.7L580.8 543.5L581.8 543.3L582.8 543.2L583.8 543L584.8 542.8L585.8 542.9L586.8 542.7L587.8 542.8L588.8 542.8L589.8 542.6L590.8 542.5L591.8 542.3L592.8 542.3L593.8 542.2L594.9 542.2L595.9 542.2L596.9 542.3L597.9 542.5L598.9 542.4L599.9 542.3L600.9 542.3L601.9 542.3L602.9 542.2L603.9 542.2L604.9 542.2L605.9 542.2L606.9 542.3L607.9 542.3L608.9 542.3L610 542.3L611 542.3L612 542.5L613 542.4L614 542.5L615 542.3L616 542.4L617 542.3L618 542.4L619 542.2L620 542.3L621 542.4L622 542.3L623 542.2L624 542.3L625.1 542.3L626.1 542.2L627.1 542.3L628.1 542.3L629.1 542.3L630.1 542.3L631.1 542.4L632.1 542.3L633.1 542.4L634.1 542.2L635.1 542.1L636.1 542.1L637.1 542L638.1 542.2L639.1 542.2L640.1 542.2L641.2 542.3L642.2 542.2L643.2 542.3L644.2 542.2L645.2 542.3L646.2 542.2L647.2 542.3L648.2 542.3L648.7 536.5L649.2 546L650.2 549.3L651.2 552.4L652.2 555.2L653.2 557.8L654.2 560.1L655.2 562.3L656.2 564.2L657.2 566L658.2 567.6L659.2 569.1L660.2 570.5L661.2 571.7L662.2 572.8L663.2 573.9L664.2 574.8L665.2 575.7L666.2 576.5L667.2 577.2L668.2 577.8L669.2 578.4L670.2 579L671.2 579.5L672.2 579.9L673.2 580.3L674.2 580.5L675.2 580.5L676.2 580.5L677.2 580.5L678.2 580.5L679.2 580.5L680.2 580.5L681.2 580.5L682.2 580.5L683.2 579.7L684.2 580L685.2 581.3L686.2 580.9L687.2 580.6L688.2 580.1L689.2 581.5L690.2 579.8L691.2 579.9L692.2 579.7L693.2 581.1L694.2 581.1L695.2 579.9L696.2 580.5L697.2 581L698.2 581.5L699.2 581.1L700.2 580.2L701.2 580.1L702.2 580.8L703.2 579.7L704.2 580.5L705.2 580.5L706.2 580.7L707.2 580.7L708.2 580.8L709.2 579.9L710.2 580.7L711.2 581L712.2 580.7L713.2 579.7L714.2 580.3L715.2 581.3L716.2 580.7L717.2 580.6L718.2 581.5L719.2 579.7L720.2 579.7L721.2 581.3L722.2 580.4L723.2 580.9L724.2 581.1L725.2 581L726.7 581L728.7 576.2L731.2 571.4L733.7 567.4L735.4 565.7L736.7 567L737.7 568.8L738.8 570.3L739.8 571.7L740.8 572.9L741.9 573.9L742.9 574.8L744 575.7L745 576.4L746 577L747.1 577.5L748.1 578L749.1 578.4L750.2 578.8L751.2 579.1L752.2 579.4L753.3 579.7L754.3 579.9L755.4 580.1L756.4 580.3L757.4 580.4L758.5 580.5L759.5 580.7L761.7 579L764.7 575.2L768.3 572L771.2 571.6L773.7 570.5L775.7 563.8L777.7 556.2L779.9 550.9L780.9 552.4L781.9 555.9L783 558.9L784 561.6L785.1 564L786.1 566L787.1 567.9L788.2 569.5L789.2 570.9L790.3 572.1L791.3 573.2L792.4 574.1L793.4 574.9L794.4 575.7L795.5 576.3L796.5 576.9L797.6 577.4L798.6 577.8L800.7 576.2L803.7 568.6L806.7 561.9L809 559.1L812.2 559.4L816.1 557.5L817.2 559.1L818.2 562.1L819.3 564.7L820.3 566.9L821.3 568.8L822.4 570.5L823.4 571.9L824.4 573.1L825.5 574.2L826.5 575.1L827.5 575.9L828.6 576.6L829.6 577.2L830.6 577.7L831.7 578.2L832.7 578.5L834.7 576.2L837.7 572.4L840.7 568.9L842.5 567.8L843.7 568.9L844.7 570.5L845.7 571.8L846.7 573L847.7 574L848.7 574.9L849.7 575.6L850.7 576.3L851.7 576.9L852.7 577.4L853.7 577.9L854.7 578.3L855.7 578.7L856.7 579L857.7 579.2L858.7 579.5L859.7 579.7L860.7 579.8L861.7 580L862.7 579.7L863.8 580.3L864.8 579.7L865.8 579.5L866.9 580L867.9 580.5L868.9 580.9L870 580L871 579.9L872 579.8L873.1 581L874.1 581.2L875.1 579.7L876.2 580.2L877.2 581.2L878.2 580.1L879.3 581.4L880.3 580.3L880.4 579.9L881.2 585.7L881.8 580.9L882.8 575.8L883.8 571.3L884.8 567.4L885.8 564L886.8 561L887.8 558.4L888.8 556.1L889.8 554.1L890.8 552.4L891.8 550.9L892.8 549.6L893.8 548.5L894.8 547.5L895.8 546.6L896.8 546L897.8 545.3L898.8 544.9L899.8 544.4L900.8 543.8L901.8 543.4L902.8 543.2L903.8 542.8L904.9 542.6L905.9 542.5L906.9 542.2L907.9 542.1L908.9 541.9L909.9 541.7L910.9 541.5L911.9 541.6L912.9 541.6L913.9 541.4L914.9 541.2L915.9 541.1L916.9 541L917.9 540.9L918.9 541L919.9 540.9L920.9 541L921.9 541L922.9 540.9L923.9 540.9L924.9 540.8L925.9 540.7L926.9 540.8L927.9 540.7L928.9 540.8L929.9 540.6L930.9 540.7L931.9 540.6L932.9 540.5L933.9 540.4L934.9 540.5L935.9 540.6L936.9 540.6L937.9 540.5L938.9 540.7L939.9 540.7L940.9 540.6L941.9 540.6L942.9 540.7L943.9 540.6L944.9 540.6L945.9 540.5L946.9 540.5L947.9 540.6L948.9 540.7L949.9 540.8L951 540.6L952 540.6L953 540.7L954 540.5L955 540.6L956 540.5L957 540.4L958 540.3L959 540.4L960 540.5L961 540.6L962 540.5L963 540.6L964 540.7L965 540.7L966 540.8L967 540.6L968 540.7L969 540.7L970 540.7L971 540.7L972 540.7L973 540.7L974 540.6L974.5 534.7L975 544.2L976 547.8L977 551L978 553.9L979 556.6L980 559L981 561.3L982 563.3L983 565.2L984 566.9L985 568.4L986 569.8L987 571.1L988 572.3L989 573.4L990 574.4L991 575.3L992 576.1L993 576.8L994 577.5L995 578.1L996 578.7L997 579.2L998 579.7L999 580.2L1000 580.5L1001 580.5L1002 580.5L1003 580.5L1004 580.5L1005 580.5L1006 580.5L1007 580.5L1008 580.5L1009 581.2L1010 580.2L1011.1 580.8L1012.1 581.3L1013.1 581.3L1014.1 579.8L1015.2 581.4L1016.2 581L1017.2 579.8L1018.2 581.3L1019.2 581.1L1020.3 581L1021.3 579.9L1022.3 581.3L1023.3 579.7L1024.3 581.3L1025.4 580.4L1026.4 580L1027.4 580.4L1028.4 580.5L1029.4 580.7L1030.5 581L1031.5 579.6L1032.5 580.7L1033.5 580.3L1034.6 580.4L1035.6 579.7L1036.6 581L1037.6 581.2L1038.6 579.8L1039.7 580.5L1040.7 580.3L1041.7 580.3L1042.7 580L1043.8 579.9L1044.8 580.2L1045.8 581.5L1046.8 579.9L1047.8 581.4L1048.9 579.9L1049.9 581.5L1050.9 580L1052.4 580.1L1054.4 576.2L1056.9 571.4L1059.4 567.4L1061.1 565.7L1062.4 567L1063.4 568.8L1064.5 570.3L1065.5 571.7L1066.5 572.9L1067.6 573.9L1068.6 574.8L1069.7 575.7L1070.7 576.4L1071.7 577L1072.8 577.5L1073.8 578L1074.8 578.4L1075.9 578.8L1076.9 579.1L1077.9 579.4L1079 579.7L1080 579.9L1081.1 580.1L1082.1 580.3L1083.1 580.4L1084.2 580.5L1085.2 580.7L1087.4 579L1090.4 575.2L1094 572L1096.9 571.6L1099.4 570.5L1101.4 563.8L1103.4 556.2L1105.6 550.9L1106.6 552.4L1107.6 555.9L1108.7 558.9L1109.7 561.6L1110.8 564L1111.8 566L1112.8 567.9L1113.9 569.5L1114.9 570.9L1116 572.1L1117 573.2L1118.1 574.1L1119.1 574.9L1120.1 575.7L1121.2 576.3L1122.2 576.9L1123.3 577.4L1124.3 577.8L1126.4 576.2L1129.4 568.6L1132.4 561.9L1134.7 559.1L1137.9 559.4L1141.8 557.5L1142.9 559.1L1143.9 562.1L1145 564.7L1146 566.9L1147 568.8L1148.1 570.5L1149.1 571.9L1150.1 573.1L1151.2 574.2L1152.2 575.1L1153.2 575.9L1154.3 576.6L1155.3 577.2L1156.3 577.7L1157.4 578.2L1158.4 578.5L1160.4 576.2L1163.4 572.4L1166.4 568.9L1168.2 567.8L1169.4 568.9L1170.4 570.5L1171.4 571.8L1172.4 573L1173.4 574L1174.4 574.9L1175.4 575.6L1176.4 576.3L1177.4 576.9L1178.4 577.4L1179.4 577.9L1180.4 578.3L1181.4 578.7L1182.4 579L1183.4 579.2L1184.4 579.5L1185.4 579.7L1186.4 579.8L1187.4 580L1188.4 580.9L1189.4 579.6L1190.4 579.9L1191.4 580.8L1192.4 579.4L1193.4 580L1194.4 580.3L1195.4 579.4L1196.5 580.8L1197.5 580.9L1198.5 579.6L1199.5 581L1200.5 579.8L1201.5 581L1202.5 579.9L1203.5 580.7L1204.5 580.3L1205.5 580.3L1205.6 580.1L1206.4 585.7L1207 580.9L1208 575.5L1209 570.7L1210 566.6L1211 563L1212 559.8L1213 557.1L1214 554.8L1215 552.7L1216 550.9L1217.1 549.3L1218.1 548L1219.1 546.7L1220.1 545.8L1221.1 544.8L1222.1 544L1223.1 543.4L1224.1 542.7L1225.1 542.2L1226.1 541.6L1227.1 541.3L1228.1 541L1229.1 540.5L1230.1 540.4L1231.1 540L1232.1 539.9L1233.1 539.8L1234.1 539.5L1235.2 539.4L1236.2 539.4L1237.2 539.3L1238.2 539.2L1239.2 539L1240.2 539L1241.2 539L1242.2 539L1243.2 538.8L1244.2 538.8L1245.2 538.7L1246.2 538.5L1247.2 538.6L1248.2 538.5L1249.2 538.5L1250.2 538.4L1251.2 538.5L1252.2 538.4L1253.2 538.4L1254.3 538.3L1255.3 538.2L1256.3 538.3L1257.3 538.4L1258.3 538.3L1259.3 538.3L1260.3 538.3L1261.3 538.3L1262.3 538.4L1263.3 538.5L1264.3 538.6L1265.3 538.5L1266.3 538.3L1267.3 538.3L1268.3 538.2L1269.3 538.3L1270.3 538.4L1271.3 538.4L1272.4 538.5L1273.4 538.5L1274.4 538.5L1275.4 538.6L1276.4 538.5L1277.4 538.4L1278.4 538.3L1279.4 538.1L1280.4 538.2L1281.4 538.1L1282.4 538L1283.4 538.1L1284.4 538L1285.4 538L1286.4 538.2L1287.4 538.3L1288.4 538.4L1289.4 538.3L1290.5 538.2L1291.5 538.2L1292.5 538.3L1293.5 538.4L1294.5 538.3L1295.5 538.3L1296.5 538.3L1297.5 538.4L1298.5 538.4L1299.5 538.3L1300 532.5L1300.5 542L1301.5 545.7L1302.5 549.1L1303.5 552.2L1304.5 555L1305.5 557.6L1306.5 559.9L1307.5 562.1L1308.5 564.1L1309.5 565.9L1310.5 567.5L1311.5 569L1312.5 570.4L1313.5 571.6L1314.5 572.7L1315.5 573.8L1316.5 574.7L1317.5 575.6L1318.5 576.4L1319.5 577.1L1320.5 577.8L1321.5 578.4L1322.5 578.9L1323.5 579.4L1324.5 579.9L1325.5 580.3L1326.5 580.5L1327.5 580.5L1328.5 580.5L1329.5 580.5L1330.5 580.5L1331.5 580.5L1332.5 580.5L1333.5 580.5L1334.5 580.1L1335.5 581L1336.5 579.7L1337.5 581.4L1338.5 581L1339.5 580.7L1340.5 580L1341.5 580.4L1342.5 580.2L1343.5 579.7L1344.5 580.8L1345.5 581.1L1346.5 580.7L1347.5 580.4L1348.5 581.2L1349.5 581.4L1350.5 580.1L1351.5 579.6L1352.5 579.7L1353.5 580.8L1354.5 580.6L1355.6 579.9L1356.6 579.6L1357.6 580.8L1358.6 579.7L1359.6 580.2L1360.6 581.2L1361.6 580.6L1362.6 581.5L1363.6 580.7L1364.6 580.5L1365.6 580L1366.6 580.9L1367.6 580.3L1368.6 580.2L1369.6 580.5L1370.6 580.3L1371.6 580.6L1372.6 580.3L1373.6 580.6L1374.6 579.8L1375.6 581.3L1376.6 579.8L1378.1 580L1380.1 576.2L1382.6 571.4L1385.1 567.4L1386.8 565.7L1388.1 567L1389.1 568.8L1390.2 570.3L1391.2 571.7L1392.2 572.9L1393.3 573.9L1394.3 574.8L1395.4 575.7L1396.4 576.4L1397.4 577L1398.5 577.5L1399.5 578L1400.5 578.4L1401.6 578.8L1402.6 579.1L1403.6 579.4L1404.7 579.7L1405.7 579.9L1406.8 580.1L1407.8 580.3L1408.8 580.4L1409.9 580.5L1410.9 580.7L1413.1 579L1416.1 575.2L1419.7 572L1422.6 571.6L1425.1 570.5L1427.1 563.8L1429.1 556.2L1431.3 550.9L1432.3 552.4L1433.3 555.9L1434.4 558.9L1435.4 561.6L1436.5 564L1437.5 566L1438.5 567.9L1439.6 569.5L1440.6 570.9L1441.7 572.1L1442.7 573.2L1443.8 574.1L1444.8 574.9L1445.8 575.7L1446.9 576.3L1447.9 576.9L1449 577.4L1450 577.8L1452.1 576.2L1455.1 568.6L1458.1 561.9L1460.4 559.1L1463.6 559.4L1467.5 557.5L1468.6 559.1L1469.6 562.1L1470.7 564.7L1471.7 566.9L1472.7 568.8L1473.8 570.5L1474.8 571.9L1475.8 573.1L1476.9 574.2L1477.9 575.1L1478.9 575.9L1480 576.6L1481 577.2L1482 577.7L1483.1 578.2L1484.1 578.5L1486.1 576.2L1489.1 572.4L1492.1 568.9L1493.9 567.8L1495.1 568.9L1496.1 570.5L1497.1 571.8L1498.1 573L1499.1 574L1500.1 574.9L1501.1 575.6L1502.1 576.3L1503.1 576.9L1504.1 577.4L1505.1 577.9L1506.1 578.3L1507.1 578.7L1508.1 579L1509.1 579.2L1510.1 579.5L1511.1 579.7L1512.1 579.8L1513.1 580L1514.1 581L1515.1 579.6L1516.1 580.4L1517.1 580.1L1518.2 580.1L1519.2 579.7L1520.2 580.2L1521.2 580L1522.2 580.8L1523.2 581.1L1524.2 580L1525.2 579.4L1526.2 581.2L1527.3 579.6L1528.3 580.7L1529.3 580.2L1530.3 581L1531.3 580.2L1531.4 580.1L1532.2 585.7L1532.8 580.9L1533.8 574.2L1534.8 568.3L1535.8 563.1L1536.8 558.7L1537.8 554.8L1538.8 551.4L1539.8 548.4L1540.8 545.8L1541.8 543.6L1542.8 541.6L1543.8 540L1544.8 538.6L1545.8 537.3L1546.8 536.1L1547.8 535.1L1548.8 534.2L1549.8 533.6L1550.8 532.8L1551.8 532.3L1552.8 531.9L1553.8 531.3L1554.8 530.9L1555.8 530.5L1556.9 530L1557.9 529.7L1558.9 529.6L1559.9 529.3L1560.9 529.2L1561.9 529L1562.9 529L1563.9 528.9L1564.9 528.8L1565.9 528.9L1566.9 528.7L1567.9 528.7L1568.9 528.5L1569.9 528.4L1570.9 528.3L1571.9 528.4L1572.9 528.3L1573.9 528.3L1574.9 528.2L1575.9 528.1L1576.9 528.1L1577.9 528L1578.9 528.1L1579.9 528L1580.9 527.9L1581.9 527.8L1582.9 527.7L1583.9 527.8L1584.9 527.7L1585.9 527.7L1586.9 527.9L1587.9 527.9L1588.9 527.8L1589.9 527.7L1590.9 527.7L1591.9 527.9L1592.9 527.7L1593.9 527.6L1594.9 527.7L1595.9 527.6L1596.9 527.7L1597.9 527.8L1598.9 527.9L1599.9 527.9L1600.9 527.7L1601.9 527.6L1602.9 527.8L1604 527.7L1605 527.7L1606 527.8L1607 527.7L1608 527.7L1609 527.9L1610 527.9L1611 527.8L1612 527.7L1613 527.8L1614 527.8L1615 527.9L1616 527.8L1617 527.9L1618 527.8L1619 527.7L1620 527.7L1621 527.6L1622 527.7L1623 527.7L1624 527.8L1625 527.9L1626 528L1627 528" stroke="#0000ff" stroke-width="2.05"/>
<path d="M86.5 574.3L87.6 576L88.7 577L89.8 577.6L90.8 578L91.9 578.2L93 578.3L94 578.9L95 577.9L96 579.1L97 579.4L98 579L99 578.8L100 579.1L101 578.1L102 577.5L103 577.6L104 578.4L105 577.7L106 577.7L107 578L108 577.7L109 578.6L110 577.8L111 578.3L112.1 577.8L113.1 577.8L114.1 579.4L115.1 577.6L116.1 579.4L117.1 578.5L118.1 578.2L119.1 577.6L120.1 579.4L121.1 578L122.1 578.7L123.1 579.4L124.1 578.8L125.1 578.1L126.1 579.4L127.1 577.6L128.1 579.5L129.1 579L130.1 578.8L131.1 579.4L132.1 577.5L133.1 577.4L134.1 577.5L135.1 579.1L136.1 577.7L137.1 578.8L138.1 578.9L139.1 578L140.1 579.4L141.1 579.6L142.1 577.5L143.1 578.8L144.1 577.8L145.1 578.6L146.1 579.4L147.1 578.5L148.2 579.2L149.2 579.4L150.2 579.6L151.2 578.7L152.2 579.1L153.2 578.9L154.2 577.5L155.2 577.8L156.2 578.1L157.2 579.1L158.2 578L159.2 578.1L160.2 578.5L161.2 579.1L162.2 579.2L163.2 578.7L164.2 579.1L165.2 577.7L166.2 578.6L167.2 578.2L168.2 577.7L169.2 578.3L170.2 579.3L171.2 579L172.2 577.6L173.2 579.6L174.2 579.2L175.2 578.3L176.2 577.8L177.2 577.9L178.2 578.1L179.2 578.1L180.2 578.9L181.2 579.6L182.2 578.3L183.2 579.6L184.3 577.9L185.3 579.5L186.3 579.7L187.3 577.5L188.3 579.4L189.3 578.5L190.3 579.6L191.3 577.6L192.3 579.8L193.3 578.2L194.3 577.9L195.3 579.1L196.3 579.8L197.3 579.7L198.3 579.7L199.3 578.1L200.3 578.6L201.3 577.8L202.3 578.4L203.3 578.5L204.3 579.4L205.3 579.3L206.3 577.6L207.3 577.7L208.3 578.9L209.3 578L210.3 578.2L211.3 579.2L212.3 579.4L213.3 578.2L214.3 577.7L215.3 577.6L216.3 579.1L217.3 579.7L218.3 579.2L219.3 579.7L220.4 577.6L221.4 579.2L222.4 578L223.4 579.3L224.4 577.7L225.4 578.8L226.4 578L227.4 578.6L228.4 578.2L229.4 579.8L230.4 579.7L231.4 579.1L232.4 577.9L233.4 577.9L234.4 578.3L235.4 578.6L236.4 579.8L237.4 577.8L238.4 578.5" stroke="#ff0000" stroke-width="1.1"/>
<path d="M238.4 578.5L240.2 578.4L240.2 578.4L241.2 564.8L242.2 554L243.2 545.4L244.2 538.6L245.2 533.2L246.2 528.9L247.2 525.5L248.2 522.7L249.2 520.5L250.2 518.7L251.2 517.4L252.2 516.2L253.2 515.5L254.2 514.8L255.2 514.1L256.2 513.6L257.2 513.3L258.2 512.9L259.2 512.6L260.2 512.6L261.3 512.5L262.3 512.2L263.3 511.9L264.3 512L265.3 511.9L266.3 511.7L267.3 511.8L268.3 511.9L269.3 511.8L270.3 511.5L271.3 511.4L272.3 511.5L273.3 511.3L274.3 511.2L275.3 511.3L276.3 511.4L277.3 511.5L278.3 511.5L279.3 511.5L280.3 511.5L281.3 511.3L282.3 511.1L283.3 511.1L284.3 510.9L285.3 510.9L286.3 510.7L287.3 510.6L288.3 510.7L289.3 510.6L290.3 510.6L291.3 510.6L292.3 510.5L293.3 510.7L294.3 510.8L295.3 510.9L296.3 510.8L297.3 510.6L298.3 510.7L299.3 510.8L300.3 511L301.3 510.8L302.3 510.7L303.4 510.6L304.4 510.6L305.4 510.6L306.4 510.6L307.4 510.5L308.4 510.4L309.4 510.6L310.4 510.6L311.4 510.5L312.4 510.6L313.4 510.5L314.4 510.5L315.4 510.5L316.4 510.7L317.4 511L318.4 511.2L319.4 511.1L320.4 511.1L321.4 510.9L322.4 510.6L323.4 510.8L324.4 520.5L325.4 528.6L326.4 535.6L327.4 541.5L328.5 546.5L329.5 550.8L330.5 554.4L331.5 557.5L332.5 560.1L333.5 562.3L334.5 564.2L335.5 565.8L336.5 567.1L337.5 568.3L338.6 569.3L339.6 570.1L340.6 570.8L341.6 571.4L342.6 571.9L343.6 572.4L344.6 572.7L345.6 573.1L346.6 573.3L347.6 573.6L348.7 573.7L349.7 573.9L350.7 574.1L351.7 574.2L352.7 574.3L353.7 574.4L354.7 574.4L355.7 574.5L356.7 574.5L357.7 574.6L358.8 574.6L359.8 574.7L360.8 574.7L361.8 574.7L362.8 574.7L363.8 574.8L364.8 574.8L365.9 574.9L366.9 574.9L367.9 575L368.9 575L369.9 575.1L371 575.1L372 575.2L373 575.2L374 575.2L375 575.3L376.1 575.3L377.1 575.4L378.1 575.4L379.1 575.4L380.1 575.4L381.1 575.5L382.2 575.5L383.2 575.5L384.2 575.6L385.2 575.6L386.2 575.6L387.3 575.6L388.3 575.6L389.3 575.7L390.3 575.7L391.3 575.7L392.4 575.7L393.4 575.7L394.4 575.8L395.4 575.8L396.4 575.8L397.5 575.8L398.5 575.8L399.5 575.8L400 575.8L402 571.4L404.5 563.8L407 558.1L409 556.4L410.5 557.5L411.5 559.6L412.5 561.5L413.5 563.1L414.6 564.6L415.6 565.9L416.6 567.1L417.6 568.1L418.6 569L419.6 569.8L420.6 570.5L421.6 571.1L422.7 571.7L423.7 572.2L424.7 572.7L425.7 573L426.7 573.4L427.7 573.7L428.7 574L429.7 574.2L430.8 574.4L431.8 574.6L432.8 574.8L433.8 575L436 568.6L438.5 561.9L441.5 557.5L445 557.2L448 556L450 551.5L452 546.7L453.6 544.2L454.6 545.8L455.7 549.5L456.7 552.7L457.8 555.5L458.8 558L459.9 560.1L460.9 562L461.9 563.6L463 565L464.1 566.2L465.1 567.2L466.1 568.2L467.2 569L468.2 569.6L469.3 570.3L470.3 570.8L471.4 571.2L474 566.7L477 559.1L480 552.4L483.3 548.6L486 547.3L488.8 546.9L490 548.6L491 552L492.1 554.9L493.1 557.5L494.1 559.6L495.2 561.5L496.2 563.1L497.2 564.5L498.3 565.7L499.3 566.8L500.3 567.7L501.4 568.4L502.4 569.1L503.4 569.7L504.5 570.2L505.5 570.6L508 565.7L511 561L514 557.2L515.7 556.4L517 557.5L518 559.4L519 561.1L520 562.6L521 564L522 565.2L523 566.2L524 567.2L525 568.1L526 568.8L527 569.5L528 570.1L529 570.7L530 571.2L531 571.6L532 572L533 572.4L534 572.7L535 573L536 573.2L537 573.5L538 573.7L539 573.9L540 574L541 574.2L542 574.3L543 574.4L544 574.5L545 574.6L547.4 574.9L549.7 575.2L552.1 575.5L554.4 575.8L555 575.8L556 561.4L557 550L558 540.9L559 533.7L560 527.9L561 523.4L562 519.8L563 517L564 514.7L565 512.9L566 511.4L567 510.2L568 509.2L569 508.4L570 507.7L571 507L572 506.6L573 506.4L574 506.1L575 505.9L576 505.9L577 505.8L578 505.7L579 505.6L580 505.6L581 505.5L582 505.4L583 505.5L584 505.5L585 505.1L586 505L587 505.1L588 505L589 504.9L590 505L591 505L592 505L593 504.9L594 504.7L595 504.8L596 504.9L597 505L598 504.8L599 505L600 504.8L601 504.6L602 504.5L603.1 504.4L604.1 504.6L605.1 504.6L606.1 504.7L607.1 504.6L608.1 504.7L609.1 504.8L610.1 504.5L611.1 504.3L612.1 504.5L613.1 504.3L614.1 504.5L615.1 504.5L616.1 504.3L617.1 504.1L618.1 504.1L619.1 504.1L620.1 504.2L621.1 504L622.1 504.2L623.1 504.3L624.1 504.5L625.1 504.4L626.1 504.3L627.1 504.1L628.1 504.3L629.1 504.1L630.1 504L631.1 503.9L632.1 504.1L633.1 504.3L634.1 504.5L635.1 504.5L636.1 504.3L637.1 504.5L638.1 504.4L639.1 504.6L640.1 504.4L641.1 504.6L642.1 504.4L643.1 504.3L644.1 504.4L645.1 504.3L646.1 504.3L647.1 504.3L648.1 504.2L649.1 504.3L650.1 514.9L651.1 523.9L652.1 531.6L653.1 538.1L654.2 543.6L655.2 548.3L656.2 552.3L657.2 555.7L658.2 558.6L659.2 561L660.2 563.1L661.2 564.9L662.2 566.4L663.2 567.6L664.3 568.7L665.3 569.6L666.3 570.4L667.3 571.1L668.3 571.6L669.3 572.1L670.3 572.5L671.3 572.9L672.3 573.2L673.3 573.4L674.4 573.6L675.4 573.8L676.4 574L677.4 574.1L678.4 574.2L679.4 574.3L680.4 574.4L681.4 574.5L682.4 574.5L683.4 574.6L684.5 574.6L685.5 574.6L686.5 574.7L687.5 574.7L688.5 574.7L689.5 574.8L690.5 574.8L691.6 574.9L692.6 574.9L693.6 575L694.6 575L695.6 575.1L696.7 575.1L697.7 575.2L698.7 575.2L699.7 575.2L700.7 575.3L701.8 575.3L702.8 575.3L703.8 575.4L704.8 575.4L705.8 575.4L706.9 575.5L707.9 575.5L708.9 575.5L709.9 575.5L710.9 575.6L711.9 575.6L713 575.6L714 575.6L715 575.7L716 575.7L717 575.7L718.1 575.7L719.1 575.7L720.1 575.8L721.1 575.8L722.1 575.8L723.2 575.8L724.2 575.8L725.2 575.8L725.7 575.8L727.7 571.4L730.2 563.8L732.7 558.1L734.7 556.4L736.2 557.5L737.2 559.6L738.2 561.5L739.2 563.1L740.3 564.6L741.3 565.9L742.3 567.1L743.3 568.1L744.3 569L745.3 569.8L746.3 570.5L747.3 571.1L748.4 571.7L749.4 572.2L750.4 572.7L751.4 573L752.4 573.4L753.4 573.7L754.4 574L755.4 574.2L756.5 574.4L757.5 574.6L758.5 574.8L759.5 575L761.7 568.6L764.2 561.9L767.2 557.5L770.7 557.2L773.7 556L775.7 551.5L777.7 546.7L779.3 544.2L780.3 545.8L781.3 549.5L782.4 552.7L783.4 555.5L784.5 558L785.5 560.1L786.6 562L787.6 563.6L788.7 565L789.7 566.2L790.8 567.2L791.8 568.2L792.9 569L793.9 569.6L795 570.3L796 570.8L797.1 571.2L799.7 566.7L802.7 559.1L805.7 552.4L809 548.6L811.7 547.3L814.5 546.9L815.7 548.6L816.7 552L817.8 554.9L818.8 557.5L819.8 559.6L820.9 561.5L821.9 563.1L822.9 564.5L824 565.7L825 566.8L826 567.7L827.1 568.4L828.1 569.1L829.1 569.7L830.2 570.2L831.2 570.6L833.7 565.7L836.7 561L839.7 557.2L841.4 556.4L842.7 557.5L843.7 559.4L844.7 561.1L845.7 562.6L846.7 564L847.7 565.2L848.7 566.2L849.7 567.2L850.7 568.1L851.7 568.8L852.7 569.5L853.7 570.1L854.7 570.7L855.7 571.2L856.7 571.6L857.7 572L858.7 572.4L859.7 572.7L860.7 573L861.7 573.2L862.7 573.5L863.7 573.7L864.7 573.9L865.7 574L866.7 574.2L867.7 574.3L868.7 574.4L869.7 574.5L870.7 574.6L873.2 574.9L875.7 575.2L878.1 575.5L880.6 575.8L881.2 575.8L882.2 561.1L883.2 549.4L884.2 540.2L885.2 532.8L886.2 527L887.2 522.3L888.3 518.7L889.3 515.7L890.3 513.5L891.3 511.5L892.3 510L893.3 508.8L894.3 507.8L895.3 506.9L896.3 506.5L897.3 505.9L898.3 505.8L899.3 505.3L900.3 505.3L901.4 504.9L902.4 505L903.4 504.8L904.4 504.4L905.4 504.4L906.4 504.1L907.4 504L908.4 504.1L909.4 503.8L910.4 503.9L911.4 503.8L912.4 503.6L913.4 503.4L914.4 503.4L915.5 503.6L916.5 503.5L917.5 503.6L918.5 503.7L919.5 503.7L920.5 503.8L921.5 503.9L922.5 503.7L923.5 503.9L924.5 503.7L925.5 503.7L926.5 503.6L927.5 503.5L928.6 503.5L929.6 503.3L930.6 503.3L931.6 503.1L932.6 503.1L933.6 502.9L934.6 502.8L935.6 502.8L936.6 503L937.6 503L938.6 503.2L939.6 503.1L940.6 503.1L941.7 502.9L942.7 503.2L943.7 503.3L944.7 503.2L945.7 503.1L946.7 503.3L947.7 503.5L948.7 503.5L949.7 503.5L950.7 503.6L951.7 503.7L952.7 503.7L953.7 503.8L954.7 503.8L955.8 503.9L956.8 503.8L957.8 503.5L958.8 503.4L959.8 503.3L960.8 503.2L961.8 503.4L962.8 503.5L963.8 503.6L964.8 503.3L965.8 503.1L966.8 503L967.8 503L968.9 502.9L969.9 502.8L970.9 502.9L971.9 502.8L972.9 502.8L973.9 503L974.9 503.1L975.9 513.9L976.9 523L977.9 530.8L978.9 537.4L980 543.1L981 547.8L982 551.9L983 555.3L984 558.3L985 560.8L986 562.9L987 564.7L988 566.2L989 567.5L990.1 568.6L991.1 569.5L992.1 570.3L993.1 571L994.1 571.6L995.1 572.1L996.1 572.5L997.1 572.8L998.1 573.1L999.1 573.4L1000.2 573.6L1001.2 573.8L1002.2 574L1003.2 574.1L1004.2 574.2L1005.2 574.3L1006.2 574.4L1007.2 574.4L1008.2 574.5L1009.2 574.6L1010.3 574.6L1011.3 574.6L1012.3 574.7L1013.3 574.7L1014.3 574.7L1015.3 574.8L1016.3 574.8L1017.3 574.9L1018.4 574.9L1019.4 575L1020.4 575L1021.4 575.1L1022.4 575.1L1023.5 575.2L1024.5 575.2L1025.5 575.2L1026.5 575.3L1027.5 575.3L1028.5 575.3L1029.5 575.4L1030.6 575.4L1031.6 575.4L1032.6 575.5L1033.6 575.5L1034.6 575.5L1035.7 575.5L1036.7 575.6L1037.7 575.6L1038.7 575.6L1039.7 575.6L1040.7 575.7L1041.8 575.7L1042.8 575.7L1043.8 575.7L1044.8 575.7L1045.8 575.8L1046.8 575.8L1047.9 575.8L1048.9 575.8L1049.9 575.8L1050.9 575.8L1051.4 575.8L1053.4 571.4L1055.9 563.8L1058.4 558.1L1060.4 556.4L1061.9 557.5L1062.9 559.6L1063.9 561.5L1064.9 563.1L1066 564.6L1067 565.9L1068 567.1L1069 568.1L1070 569L1071 569.8L1072 570.5L1073 571.1L1074.1 571.7L1075.1 572.2L1076.1 572.7L1077.1 573L1078.1 573.4L1079.1 573.7L1080.1 574L1081.1 574.2L1082.2 574.4L1083.2 574.6L1084.2 574.8L1085.2 575L1087.4 568.6L1089.9 561.9L1092.9 557.5L1096.4 557.2L1099.4 556L1101.4 551.5L1103.4 546.7L1105 544.2L1106 545.8L1107 549.5L1108.1 552.7L1109.2 555.5L1110.2 558L1111.2 560.1L1112.3 562L1113.3 563.6L1114.4 565L1115.5 566.2L1116.5 567.2L1117.5 568.2L1118.6 569L1119.6 569.6L1120.7 570.3L1121.8 570.8L1122.8 571.2L1125.4 566.7L1128.4 559.1L1131.4 552.4L1134.7 548.6L1137.4 547.3L1140.2 546.9L1141.4 548.6L1142.4 552L1143.5 554.9L1144.5 557.5L1145.5 559.6L1146.6 561.5L1147.6 563.1L1148.6 564.5L1149.7 565.7L1150.7 566.8L1151.7 567.7L1152.8 568.4L1153.8 569.1L1154.8 569.7L1155.9 570.2L1156.9 570.6L1159.4 565.7L1162.4 561L1165.4 557.2L1167.1 556.4L1168.4 557.5L1169.4 559.4L1170.4 561.1L1171.4 562.6L1172.4 564L1173.4 565.2L1174.4 566.2L1175.4 567.2L1176.4 568.1L1177.4 568.8L1178.4 569.5L1179.4 570.1L1180.4 570.7L1181.4 571.2L1182.4 571.6L1183.4 572L1184.4 572.4L1185.4 572.7L1186.4 573L1187.4 573.2L1188.4 573.5L1189.4 573.7L1190.4 573.9L1191.4 574L1192.4 574.2L1193.4 574.3L1194.4 574.4L1195.4 574.5L1196.4 574.6L1198.8 574.9L1201.1 575.2L1203.5 575.5L1205.8 575.8L1206.4 575.8L1207.4 560.9L1208.4 549.1L1209.4 539.6L1210.4 532.1L1211.4 526.2L1212.4 521.5L1213.4 517.8L1214.4 514.9L1215.4 512.5L1216.4 510.5L1217.4 509.1L1218.4 507.8L1219.4 506.8L1220.4 505.9L1221.4 505.2L1222.4 504.8L1223.4 504.3L1224.4 504L1225.4 503.7L1226.4 503.6L1227.4 503.4L1228.4 503.3L1229.4 503.2L1230.4 503.2L1231.4 502.8L1232.4 502.8L1233.4 502.8L1234.4 502.7L1235.4 502.8L1236.4 502.8L1237.4 502.7L1238.4 502.5L1239.4 502.4L1240.4 502.4L1241.4 502.2L1242.4 502.1L1243.4 502.2L1244.4 502.2L1245.4 502.1L1246.4 502.1L1247.4 501.9L1248.4 502.1L1249.4 502.1L1250.4 502.1L1251.4 502.2L1252.4 501.9L1253.4 502L1254.4 501.8L1255.4 501.7L1256.4 501.5L1257.4 501.7L1258.4 501.9L1259.4 502L1260.4 502L1261.4 501.8L1262.4 501.7L1263.4 501.9L1264.4 502L1265.4 501.8L1266.4 501.7L1267.4 501.9L1268.4 501.8L1269.4 501.9L1270.4 502L1271.4 502.1L1272.4 501.8L1273.4 501.8L1274.4 501.7L1275.4 501.8L1276.4 501.8L1277.4 501.7L1278.4 501.6L1279.4 501.4L1280.4 501.5L1281.4 501.7L1282.4 501.7L1283.4 501.7L1284.4 501.6L1285.4 501.6L1286.4 501.7L1287.4 501.6L1288.4 501.6L1289.4 501.7L1290.4 501.9L1291.4 501.7L1292.4 501.8L1293.4 501.6L1294.4 501.7L1295.4 501.8L1296.4 501.7L1297.4 501.5L1298.4 501.6L1299.4 501.6L1300.4 501.6L1301.4 512.6L1302.4 522L1303.4 529.9L1304.4 536.7L1305.5 542.4L1306.5 547.3L1307.5 551.4L1308.5 554.9L1309.5 557.9L1310.5 560.5L1311.5 562.6L1312.5 564.5L1313.5 566L1314.5 567.4L1315.6 568.5L1316.6 569.4L1317.6 570.2L1318.6 570.9L1319.6 571.5L1320.6 572L1321.6 572.4L1322.6 572.8L1323.6 573.1L1324.6 573.4L1325.7 573.6L1326.7 573.8L1327.7 573.9L1328.7 574.1L1329.7 574.2L1330.7 574.3L1331.7 574.4L1332.7 574.4L1333.7 574.5L1334.7 574.5L1335.8 574.6L1336.8 574.6L1337.8 574.7L1338.8 574.7L1339.8 574.7L1340.8 574.8L1341.8 574.8L1342.9 574.9L1343.9 574.9L1344.9 575L1345.9 575L1347 575.1L1348 575.1L1349 575.2L1350 575.2L1351 575.2L1352.1 575.3L1353.1 575.3L1354.1 575.3L1355.1 575.4L1356.2 575.4L1357.2 575.4L1358.2 575.5L1359.2 575.5L1360.2 575.5L1361.3 575.5L1362.3 575.6L1363.3 575.6L1364.3 575.6L1365.4 575.6L1366.4 575.7L1367.4 575.7L1368.4 575.7L1369.4 575.7L1370.5 575.7L1371.5 575.8L1372.5 575.8L1373.5 575.8L1374.6 575.8L1375.6 575.8L1376.6 575.8L1377.1 575.8L1379.1 571.4L1381.6 563.8L1384.1 558.1L1386.1 556.4L1387.6 557.5L1388.6 559.6L1389.6 561.5L1390.6 563.1L1391.7 564.6L1392.7 565.9L1393.7 567.1L1394.7 568.1L1395.7 569L1396.7 569.8L1397.7 570.5L1398.7 571.1L1399.8 571.7L1400.8 572.2L1401.8 572.7L1402.8 573L1403.8 573.4L1404.8 573.7L1405.8 574L1406.8 574.2L1407.9 574.4L1408.9 574.6L1409.9 574.8L1410.9 575L1413.1 568.6L1415.6 561.9L1418.6 557.5L1422.1 557.2L1425.1 556L1427.1 551.5L1429.1 546.7L1430.7 544.2L1431.7 545.8L1432.7 549.5L1433.8 552.7L1434.8 555.5L1435.9 558L1436.9 560.1L1438 562L1439 563.6L1440.1 565L1441.1 566.2L1442.2 567.2L1443.2 568.2L1444.3 569L1445.3 569.6L1446.4 570.3L1447.5 570.8L1448.5 571.2L1451.1 566.7L1454.1 559.1L1457.1 552.4L1460.4 548.6L1463.1 547.3L1465.9 546.9L1467.1 548.6L1468.1 552L1469.2 554.9L1470.2 557.5L1471.2 559.6L1472.3 561.5L1473.3 563.1L1474.3 564.5L1475.4 565.7L1476.4 566.8L1477.4 567.7L1478.5 568.4L1479.5 569.1L1480.5 569.7L1481.6 570.2L1482.6 570.6L1485.1 565.7L1488.1 561L1491.1 557.2L1492.8 556.4L1494.1 557.5L1495.1 559.4L1496.1 561.1L1497.1 562.6L1498.1 564L1499.1 565.2L1500.1 566.2L1501.1 567.2L1502.1 568.1L1503.1 568.8L1504.1 569.5L1505.1 570.1L1506.1 570.7L1507.1 571.2L1508.1 571.6L1509.1 572L1510.1 572.4L1511.1 572.7L1512.1 573L1513.1 573.2L1514.1 573.5L1515.1 573.7L1516.1 573.9L1517.1 574L1518.1 574.2L1519.1 574.3L1520.1 574.4L1521.1 574.5L1522.1 574.6L1524.5 574.9L1526.8 575.2L1529.2 575.5L1531.6 575.8L1532.2 575.8L1533.2 559L1534.2 545.7L1535.2 535.1L1536.2 526.7L1537.2 520L1538.2 514.7L1539.3 510.6L1540.3 507.2L1541.3 504.6L1542.3 502.5L1543.3 500.8L1544.3 499.5L1545.3 498.2L1546.3 497.4L1547.3 496.9L1548.3 496.4L1549.3 495.8L1550.3 495.5L1551.3 495.4L1552.3 495.2L1553.4 494.7L1554.4 494.5L1555.4 494.4L1556.4 494.2L1557.4 494.1L1558.4 493.9L1559.4 493.6L1560.4 493.4L1561.4 493.4L1562.4 493.2L1563.4 493.2L1564.4 493.2L1565.4 493L1566.5 492.8L1567.5 492.8L1568.5 492.9L1569.5 493L1570.5 493.2L1571.5 493.3L1572.5 493.1L1573.5 493.1L1574.5 492.9L1575.5 492.8L1576.5 492.8L1577.5 492.7L1578.5 492.7L1579.5 492.7L1580.6 492.7L1581.6 492.8L1582.6 492.7L1583.6 492.9L1584.6 492.7L1585.6 492.5L1586.6 492.4L1587.6 492.5L1588.6 492.6L1589.6 492.7L1590.6 492.7L1591.6 492.8L1592.6 492.7L1593.6 492.5L1594.7 492.6L1595.7 492.4L1596.7 492.6L1597.7 492.4L1598.7 492.3L1599.7 492.3L1600.7 492.1L1601.7 492.2L1602.7 492.2L1603.7 492.3L1604.7 492.6L1605.7 492.7L1606.7 492.6L1607.8 492.7L1608.8 492.6L1609.8 492.8L1610.8 492.6L1611.8 492.4L1612.8 492.4L1613.8 492.7L1614.8 492.6L1615.8 492.6L1616.8 492.4L1617.8 492.6L1618.8 492.7L1619.8 492.5L1620.8 492.4L1621.9 492.2L1622.9 492.3L1623.9 492.3L1624.9 492.1L1625.9 492.2L1626.9 492.4L1627.9 492.6" stroke="#ff0000" stroke-width="2.05"/>
</g>
<g filter="url(#softt)">
<rect x="97.4" y="18.8" width="419.2" height="217.5" fill="#fff" stroke="#262626" stroke-width="1.5"/>
<path d="M104.8 38.9H194.4" stroke="#000" stroke-width="1.7"/>
<path d="M104.8 74.5H194.4" stroke="#00ff00" stroke-width="2.1"/>
<path d="M104.8 110.3H194.4" stroke="#00ffff" stroke-width="2.1"/>
<path d="M104.8 144.5H194.4" stroke="#ff00ff" stroke-width="2.1"/>
<path d="M104.8 180.1H194.4" stroke="#0000ff" stroke-width="2.1"/>
<path d="M104.8 215.8H194.4" stroke="#ff0000" stroke-width="2.1"/>
</g>
<g filter="url(#softt)">
<text x="200.7" y="51.7" font-size="26.85" fill="#000">Cell heat generation rate</text>
<text x="200.7" y="85.9" font-size="26.85" fill="#000">Heat rate gain cell</text>
<text x="200.7" y="121.5" font-size="26.85" fill="#000">Heat rate gain apparatus</text>
<text x="200.7" y="157.3" font-size="26.85" fill="#000">Heat rate transfer fins</text>
<text x="200.7" y="192.7" font-size="26.85" fill="#000">Heat rate transfer neg tab</text>
<text x="200.7" y="226.9" font-size="26.85" fill="#000">Heat rate transfer pos tab</text>
<g font-size="23.4" fill="#3c3c3c">
<text x="85.5" y="898.8" text-anchor="middle">0</text>
<text x="277.6" y="898.8" text-anchor="middle">10</text>
<text x="468.4" y="898.8" text-anchor="middle">20</text>
<text x="659.2" y="898.8" text-anchor="middle">30</text>
<text x="850.0" y="898.8" text-anchor="middle">40</text>
<text x="1040.9" y="898.8" text-anchor="middle">50</text>
<text x="1231.7" y="898.8" text-anchor="middle">60</text>
<text x="1422.5" y="898.8" text-anchor="middle">70</text>
<text x="1613.3" y="898.8" text-anchor="middle">80</text>
<text x="1804.1" y="898.8" text-anchor="middle">90</text>
<text x="76.6" y="875.8" text-anchor="end">-1.5</text>
<text x="76.6" y="780.8" text-anchor="end">-1</text>
<text x="76.6" y="685.8" text-anchor="end">-0.5</text>
<text x="76.6" y="590.8" text-anchor="end">0</text>
<text x="76.6" y="495.8" text-anchor="end">0.5</text>
<text x="76.6" y="400.7" text-anchor="end">1</text>
<text x="76.6" y="305.7" text-anchor="end">1.5</text>
<text x="76.6" y="210.7" text-anchor="end">2</text>
<text x="76.6" y="115.7" text-anchor="end">2.5</text>
<text x="76.6" y="20.7" text-anchor="end">3</text>
</g>
<text x="944.5" y="934.8" text-anchor="middle" font-size="26.6" fill="#3c3c3c">Time/ hr</text>
<text transform="translate(23.9,437.4) rotate(-90)" text-anchor="middle" font-size="26.6" fill="#3c3c3c">Heat rate/ W</text>
<text x="216.3" y="769.4" font-size="40" fill="#000" textLength="135.0" lengthAdjust="spacingAndGlyphs">62.5 Hz</text>
<text x="534.1" y="769.4" font-size="40" fill="#000" textLength="135.4" lengthAdjust="spacingAndGlyphs">6.25 Hz</text>
<text x="863.0" y="769.4" font-size="40" fill="#000" textLength="158.0" lengthAdjust="spacingAndGlyphs">0.625 Hz</text>
<text x="1192.2" y="769.4" font-size="40" fill="#000" textLength="180.2" lengthAdjust="spacingAndGlyphs">0.0625 Hz</text>
<text x="1526.0" y="769.4" font-size="40" fill="#000" textLength="203.3" lengthAdjust="spacingAndGlyphs">0.00625 Hz</text>
</g>
</svg>
</body></html>
